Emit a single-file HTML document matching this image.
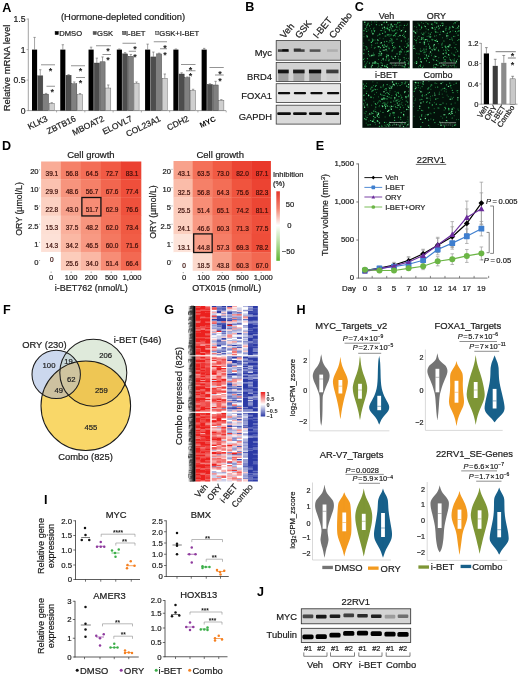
<!DOCTYPE html>
<html><head><meta charset="utf-8"><title>Figure</title>
<style>html,body{margin:0;padding:0;background:#fff}svg{display:block}text{font-family:'Liberation Sans', Arial, Helvetica, sans-serif}</style>
</head><body>
<svg width="520" height="677" viewBox="0 0 520 677" font-family="'Liberation Sans', Arial, Helvetica, sans-serif">
<rect width="520" height="677" fill="#fff"/>
<g id="pA">
<text x="2.3" y="11.5" font-size="12.6" text-anchor="start" font-weight="bold" fill="#000">A</text>
<text x="123" y="20" font-size="9.4" text-anchor="middle" font-weight="normal" fill="#1a1a1a" stroke="#1a1a1a" stroke-width="0.2">(Hormone-depleted condition)</text>
<text x="9.8" y="68" font-size="9.5" text-anchor="middle" font-weight="normal" fill="#1a1a1a" stroke="#1a1a1a" stroke-width="0.2" transform="rotate(-90 9.8 68)">Relative mRNA level</text>
<line x1="28.30" y1="18.50" x2="28.30" y2="111.00" stroke="#8a8a8a" stroke-width="0.8"/>
<line x1="28.00" y1="110.60" x2="226.00" y2="110.60" stroke="#8a8a8a" stroke-width="0.8"/>
<text x="25.5" y="22.299999999999994" font-size="8.6" text-anchor="end" font-weight="normal" fill="#1a1a1a" stroke="#1a1a1a" stroke-width="0.2">1.5</text>
<line x1="26.60" y1="19.10" x2="28.30" y2="19.10" stroke="#8a8a8a" stroke-width="0.7"/>
<text x="25.5" y="52.8" font-size="8.6" text-anchor="end" font-weight="normal" fill="#1a1a1a" stroke="#1a1a1a" stroke-width="0.2">1</text>
<line x1="26.60" y1="49.60" x2="28.30" y2="49.60" stroke="#8a8a8a" stroke-width="0.7"/>
<text x="25.5" y="83.3" font-size="8.6" text-anchor="end" font-weight="normal" fill="#1a1a1a" stroke="#1a1a1a" stroke-width="0.2">0.5</text>
<line x1="26.60" y1="80.10" x2="28.30" y2="80.10" stroke="#8a8a8a" stroke-width="0.7"/>
<text x="25.5" y="113.8" font-size="8.6" text-anchor="end" font-weight="normal" fill="#1a1a1a" stroke="#1a1a1a" stroke-width="0.2">0</text>
<line x1="26.60" y1="110.60" x2="28.30" y2="110.60" stroke="#8a8a8a" stroke-width="0.7"/>
<line x1="56.57" y1="110.60" x2="56.57" y2="112.40" stroke="#8a8a8a" stroke-width="0.7"/>
<line x1="84.84" y1="110.60" x2="84.84" y2="112.40" stroke="#8a8a8a" stroke-width="0.7"/>
<line x1="113.11" y1="110.60" x2="113.11" y2="112.40" stroke="#8a8a8a" stroke-width="0.7"/>
<line x1="141.38" y1="110.60" x2="141.38" y2="112.40" stroke="#8a8a8a" stroke-width="0.7"/>
<line x1="169.65" y1="110.60" x2="169.65" y2="112.40" stroke="#8a8a8a" stroke-width="0.7"/>
<line x1="197.92" y1="110.60" x2="197.92" y2="112.40" stroke="#8a8a8a" stroke-width="0.7"/>
<line x1="226.19" y1="110.60" x2="226.19" y2="112.40" stroke="#8a8a8a" stroke-width="0.7"/>
<rect x="55.10" y="31.40" width="3.20" height="3.20" fill="#000" stroke="#000" stroke-width="0.5"/>
<text x="59.3" y="35.6" font-size="7.6" text-anchor="start" font-weight="normal" fill="#1a1a1a" stroke="#1a1a1a" stroke-width="0.2">DMSO</text>
<rect x="93.10" y="31.40" width="3.20" height="3.20" fill="#555" stroke="#555" stroke-width="0.5"/>
<text x="97" y="35.6" font-size="7.6" text-anchor="start" font-weight="normal" fill="#1a1a1a" stroke="#1a1a1a" stroke-width="0.2">GSK</text>
<rect x="122.60" y="31.40" width="3.20" height="3.20" fill="#7d7d7d" stroke="#333" stroke-width="0.5"/>
<text x="126" y="35.6" font-size="7.6" text-anchor="start" font-weight="normal" fill="#1a1a1a" stroke="#1a1a1a" stroke-width="0.2">I-BET</text>
<rect x="155.60" y="31.40" width="3.20" height="3.20" fill="#c4c4c4" stroke="#333" stroke-width="0.5"/>
<text x="159.3" y="35.6" font-size="7.6" text-anchor="start" font-weight="normal" fill="#1a1a1a" stroke="#1a1a1a" stroke-width="0.2">GSK+I-BET</text>
<rect x="32.00" y="49.60" width="5.12" height="61.00" fill="#000" stroke="none" stroke-width="0"/>
<line x1="34.56" y1="49.60" x2="34.56" y2="37.40" stroke="#666" stroke-width="0.6"/>
<line x1="33.36" y1="37.40" x2="35.76" y2="37.40" stroke="#666" stroke-width="0.6"/>
<rect x="37.72" y="75.83" width="5.12" height="34.77" fill="#4d4d4d" stroke="#333" stroke-width="0.4"/>
<line x1="40.28" y1="75.83" x2="40.28" y2="69.73" stroke="#666" stroke-width="0.6"/>
<line x1="39.08" y1="69.73" x2="41.48" y2="69.73" stroke="#666" stroke-width="0.6"/>
<rect x="43.44" y="94.13" width="5.12" height="16.47" fill="#808080" stroke="#333" stroke-width="0.4"/>
<line x1="46.00" y1="94.13" x2="46.00" y2="93.40" stroke="#666" stroke-width="0.6"/>
<line x1="44.80" y1="93.40" x2="47.20" y2="93.40" stroke="#666" stroke-width="0.6"/>
<rect x="49.16" y="103.28" width="5.12" height="7.32" fill="#cfcfcf" stroke="#555" stroke-width="0.4"/>
<line x1="51.72" y1="103.28" x2="51.72" y2="102.67" stroke="#666" stroke-width="0.6"/>
<line x1="50.52" y1="102.67" x2="52.92" y2="102.67" stroke="#666" stroke-width="0.6"/>
<text x="48.239999999999995" y="120.6" font-size="8.5" text-anchor="end" font-weight="normal" fill="#1a1a1a" stroke="#1a1a1a" stroke-width="0.2" transform="rotate(-26 48.239999999999995 120.6)">KLK3</text>
<rect x="60.27" y="49.60" width="5.12" height="61.00" fill="#000" stroke="none" stroke-width="0"/>
<line x1="62.83" y1="49.60" x2="62.83" y2="44.72" stroke="#666" stroke-width="0.6"/>
<line x1="61.63" y1="44.72" x2="64.03" y2="44.72" stroke="#666" stroke-width="0.6"/>
<rect x="65.99" y="75.22" width="5.12" height="35.38" fill="#4d4d4d" stroke="#333" stroke-width="0.4"/>
<line x1="68.55" y1="75.22" x2="68.55" y2="74.61" stroke="#666" stroke-width="0.6"/>
<line x1="67.35" y1="74.61" x2="69.75" y2="74.61" stroke="#666" stroke-width="0.6"/>
<rect x="71.71" y="83.76" width="5.12" height="26.84" fill="#808080" stroke="#333" stroke-width="0.4"/>
<line x1="74.27" y1="83.76" x2="74.27" y2="81.93" stroke="#666" stroke-width="0.6"/>
<line x1="73.07" y1="81.93" x2="75.47" y2="81.93" stroke="#666" stroke-width="0.6"/>
<rect x="77.43" y="94.74" width="5.12" height="15.86" fill="#cfcfcf" stroke="#555" stroke-width="0.4"/>
<line x1="79.99" y1="94.74" x2="79.99" y2="93.52" stroke="#666" stroke-width="0.6"/>
<line x1="78.79" y1="93.52" x2="81.19" y2="93.52" stroke="#666" stroke-width="0.6"/>
<text x="76.50999999999999" y="120.6" font-size="8.5" text-anchor="end" font-weight="normal" fill="#1a1a1a" stroke="#1a1a1a" stroke-width="0.2" transform="rotate(-26 76.50999999999999 120.6)">ZBTB16</text>
<rect x="88.54" y="49.60" width="5.12" height="61.00" fill="#000" stroke="none" stroke-width="0"/>
<line x1="91.10" y1="49.60" x2="91.10" y2="47.16" stroke="#666" stroke-width="0.6"/>
<line x1="89.90" y1="47.16" x2="92.30" y2="47.16" stroke="#666" stroke-width="0.6"/>
<rect x="94.26" y="63.02" width="5.12" height="47.58" fill="#4d4d4d" stroke="#333" stroke-width="0.4"/>
<line x1="96.82" y1="63.02" x2="96.82" y2="58.14" stroke="#666" stroke-width="0.6"/>
<line x1="95.62" y1="58.14" x2="98.02" y2="58.14" stroke="#666" stroke-width="0.6"/>
<rect x="99.98" y="61.80" width="5.12" height="48.80" fill="#808080" stroke="#333" stroke-width="0.4"/>
<line x1="102.54" y1="61.80" x2="102.54" y2="56.92" stroke="#666" stroke-width="0.6"/>
<line x1="101.34" y1="56.92" x2="103.74" y2="56.92" stroke="#666" stroke-width="0.6"/>
<rect x="105.70" y="88.03" width="5.12" height="22.57" fill="#cfcfcf" stroke="#555" stroke-width="0.4"/>
<line x1="108.26" y1="88.03" x2="108.26" y2="84.98" stroke="#666" stroke-width="0.6"/>
<line x1="107.06" y1="84.98" x2="109.46" y2="84.98" stroke="#666" stroke-width="0.6"/>
<text x="104.77999999999999" y="120.6" font-size="8.5" text-anchor="end" font-weight="normal" fill="#1a1a1a" stroke="#1a1a1a" stroke-width="0.2" transform="rotate(-26 104.77999999999999 120.6)">MBOAT2</text>
<rect x="116.81" y="49.60" width="5.12" height="61.00" fill="#000" stroke="none" stroke-width="0"/>
<line x1="119.37" y1="49.60" x2="119.37" y2="48.99" stroke="#666" stroke-width="0.6"/>
<line x1="118.17" y1="48.99" x2="120.57" y2="48.99" stroke="#666" stroke-width="0.6"/>
<rect x="122.53" y="53.87" width="5.12" height="56.73" fill="#4d4d4d" stroke="#333" stroke-width="0.4"/>
<line x1="125.09" y1="53.87" x2="125.09" y2="52.65" stroke="#666" stroke-width="0.6"/>
<line x1="123.89" y1="52.65" x2="126.29" y2="52.65" stroke="#666" stroke-width="0.6"/>
<rect x="128.25" y="56.31" width="5.12" height="54.29" fill="#808080" stroke="#333" stroke-width="0.4"/>
<line x1="130.81" y1="56.31" x2="130.81" y2="54.48" stroke="#666" stroke-width="0.6"/>
<line x1="129.61" y1="54.48" x2="132.01" y2="54.48" stroke="#666" stroke-width="0.6"/>
<rect x="133.97" y="83.15" width="5.12" height="27.45" fill="#cfcfcf" stroke="#555" stroke-width="0.4"/>
<line x1="136.53" y1="83.15" x2="136.53" y2="81.93" stroke="#666" stroke-width="0.6"/>
<line x1="135.33" y1="81.93" x2="137.73" y2="81.93" stroke="#666" stroke-width="0.6"/>
<text x="133.05" y="120.6" font-size="8.5" text-anchor="end" font-weight="normal" fill="#1a1a1a" stroke="#1a1a1a" stroke-width="0.2" transform="rotate(-26 133.05 120.6)">ELOVL7</text>
<rect x="145.08" y="49.60" width="5.12" height="61.00" fill="#000" stroke="none" stroke-width="0"/>
<line x1="147.64" y1="49.60" x2="147.64" y2="44.11" stroke="#666" stroke-width="0.6"/>
<line x1="146.44" y1="44.11" x2="148.84" y2="44.11" stroke="#666" stroke-width="0.6"/>
<rect x="150.80" y="56.92" width="5.12" height="53.68" fill="#4d4d4d" stroke="#333" stroke-width="0.4"/>
<line x1="153.36" y1="56.92" x2="153.36" y2="52.04" stroke="#666" stroke-width="0.6"/>
<line x1="152.16" y1="52.04" x2="154.56" y2="52.04" stroke="#666" stroke-width="0.6"/>
<rect x="156.52" y="53.87" width="5.12" height="56.73" fill="#808080" stroke="#333" stroke-width="0.4"/>
<line x1="159.08" y1="53.87" x2="159.08" y2="53.14" stroke="#666" stroke-width="0.6"/>
<line x1="157.88" y1="53.14" x2="160.28" y2="53.14" stroke="#666" stroke-width="0.6"/>
<rect x="162.24" y="78.27" width="5.12" height="32.33" fill="#cfcfcf" stroke="#555" stroke-width="0.4"/>
<line x1="164.80" y1="78.27" x2="164.80" y2="74.00" stroke="#666" stroke-width="0.6"/>
<line x1="163.60" y1="74.00" x2="166.00" y2="74.00" stroke="#666" stroke-width="0.6"/>
<text x="161.32" y="120.6" font-size="8.5" text-anchor="end" font-weight="normal" fill="#1a1a1a" stroke="#1a1a1a" stroke-width="0.2" transform="rotate(-26 161.32 120.6)">COL23A1</text>
<rect x="173.35" y="49.60" width="5.12" height="61.00" fill="#000" stroke="none" stroke-width="0"/>
<line x1="175.91" y1="49.60" x2="175.91" y2="48.99" stroke="#666" stroke-width="0.6"/>
<line x1="174.71" y1="48.99" x2="177.11" y2="48.99" stroke="#666" stroke-width="0.6"/>
<rect x="179.07" y="74.00" width="5.12" height="36.60" fill="#4d4d4d" stroke="#333" stroke-width="0.4"/>
<line x1="181.63" y1="74.00" x2="181.63" y2="72.78" stroke="#666" stroke-width="0.6"/>
<line x1="180.43" y1="72.78" x2="182.83" y2="72.78" stroke="#666" stroke-width="0.6"/>
<rect x="184.79" y="77.66" width="5.12" height="32.94" fill="#808080" stroke="#333" stroke-width="0.4"/>
<line x1="187.35" y1="77.66" x2="187.35" y2="76.93" stroke="#666" stroke-width="0.6"/>
<line x1="186.15" y1="76.93" x2="188.55" y2="76.93" stroke="#666" stroke-width="0.6"/>
<rect x="190.51" y="90.47" width="5.12" height="20.13" fill="#cfcfcf" stroke="#555" stroke-width="0.4"/>
<line x1="193.07" y1="90.47" x2="193.07" y2="89.25" stroke="#666" stroke-width="0.6"/>
<line x1="191.87" y1="89.25" x2="194.27" y2="89.25" stroke="#666" stroke-width="0.6"/>
<text x="189.59" y="120.6" font-size="8.5" text-anchor="end" font-weight="normal" fill="#1a1a1a" stroke="#1a1a1a" stroke-width="0.2" transform="rotate(-26 189.59 120.6)">CDH2</text>
<rect x="201.62" y="49.60" width="5.12" height="61.00" fill="#000" stroke="none" stroke-width="0"/>
<line x1="204.18" y1="49.60" x2="204.18" y2="48.38" stroke="#666" stroke-width="0.6"/>
<line x1="202.98" y1="48.38" x2="205.38" y2="48.38" stroke="#666" stroke-width="0.6"/>
<rect x="207.34" y="84.37" width="5.12" height="26.23" fill="#4d4d4d" stroke="#333" stroke-width="0.4"/>
<line x1="209.90" y1="84.37" x2="209.90" y2="83.76" stroke="#666" stroke-width="0.6"/>
<line x1="208.70" y1="83.76" x2="211.10" y2="83.76" stroke="#666" stroke-width="0.6"/>
<rect x="213.06" y="84.98" width="5.12" height="25.62" fill="#808080" stroke="#333" stroke-width="0.4"/>
<line x1="215.62" y1="84.98" x2="215.62" y2="81.32" stroke="#666" stroke-width="0.6"/>
<line x1="214.42" y1="81.32" x2="216.82" y2="81.32" stroke="#666" stroke-width="0.6"/>
<rect x="218.78" y="100.23" width="5.12" height="10.37" fill="#cfcfcf" stroke="#555" stroke-width="0.4"/>
<line x1="221.34" y1="100.23" x2="221.34" y2="99.62" stroke="#666" stroke-width="0.6"/>
<line x1="220.14" y1="99.62" x2="222.54" y2="99.62" stroke="#666" stroke-width="0.6"/>
<text x="216.36" y="120.6" font-size="7.6" text-anchor="end" font-weight="bold" fill="#000" transform="rotate(-26 216.36 120.6)">MYC</text>
<line x1="41.00" y1="64.80" x2="55.00" y2="64.80" stroke="#666" stroke-width="0.7"/>
<line x1="46.50" y1="86.25" x2="55.00" y2="86.25" stroke="#666" stroke-width="0.7"/>
<text x="50.4" y="73.92" font-size="9" text-anchor="middle" font-weight="bold" fill="#222">*</text>
<text x="52.2" y="95.22" font-size="9" text-anchor="middle" font-weight="bold" fill="#222">*</text>
<line x1="71.00" y1="65.75" x2="85.00" y2="65.75" stroke="#666" stroke-width="0.7"/>
<line x1="76.00" y1="77.50" x2="85.00" y2="77.50" stroke="#666" stroke-width="0.7"/>
<text x="80.5" y="73.92" font-size="9" text-anchor="middle" font-weight="bold" fill="#222">*</text>
<text x="80.5" y="85.92" font-size="9" text-anchor="middle" font-weight="bold" fill="#222">*</text>
<line x1="96.00" y1="45.75" x2="111.00" y2="45.75" stroke="#666" stroke-width="0.7"/>
<line x1="102.50" y1="54.50" x2="111.00" y2="54.50" stroke="#666" stroke-width="0.7"/>
<text x="108" y="53.93" font-size="9" text-anchor="middle" font-weight="bold" fill="#222">*</text>
<text x="108" y="62.73" font-size="9" text-anchor="middle" font-weight="bold" fill="#222">*</text>
<line x1="122.50" y1="43.25" x2="136.00" y2="43.25" stroke="#666" stroke-width="0.7"/>
<line x1="128.75" y1="51.25" x2="136.00" y2="51.25" stroke="#666" stroke-width="0.7"/>
<text x="135" y="51.52" font-size="9" text-anchor="middle" font-weight="bold" fill="#222">*</text>
<text x="135" y="59.73" font-size="9" text-anchor="middle" font-weight="bold" fill="#222">*</text>
<line x1="153.75" y1="41.75" x2="167.00" y2="41.75" stroke="#666" stroke-width="0.7"/>
<line x1="160.00" y1="48.75" x2="167.00" y2="48.75" stroke="#666" stroke-width="0.7"/>
<text x="165" y="50.52" font-size="9" text-anchor="middle" font-weight="bold" fill="#222">*</text>
<text x="165" y="57.73" font-size="9" text-anchor="middle" font-weight="bold" fill="#222">*</text>
<line x1="181.00" y1="64.50" x2="195.50" y2="64.50" stroke="#666" stroke-width="0.7"/>
<line x1="186.00" y1="70.75" x2="195.50" y2="70.75" stroke="#666" stroke-width="0.7"/>
<text x="190.5" y="72.72" font-size="9" text-anchor="middle" font-weight="bold" fill="#222">*</text>
<text x="190.5" y="79.02" font-size="9" text-anchor="middle" font-weight="bold" fill="#222">*</text>
<line x1="209.50" y1="67.50" x2="223.75" y2="67.50" stroke="#666" stroke-width="0.7"/>
<line x1="215.00" y1="75.00" x2="223.75" y2="75.00" stroke="#666" stroke-width="0.7"/>
<text x="220" y="77.22" font-size="9" text-anchor="middle" font-weight="bold" fill="#222">*</text>
<text x="220" y="84.22" font-size="9" text-anchor="middle" font-weight="bold" fill="#222">*</text>
</g>
<g id="pB">
<defs><filter id="bl1" x="-20%" y="-50%" width="140%" height="200%"><feGaussianBlur stdDeviation="0.6"/></filter><filter id="bl2" x="-20%" y="-50%" width="140%" height="200%"><feGaussianBlur stdDeviation="1.1"/></filter><filter id="bl0" x="-20%" y="-50%" width="140%" height="200%"><feGaussianBlur stdDeviation="0.35"/></filter></defs>
<text x="245.3" y="11.4" font-size="12.6" text-anchor="start" font-weight="bold" fill="#000">B</text>
<text x="284.5" y="39" font-size="9.4" text-anchor="start" font-weight="normal" fill="#1a1a1a" stroke="#1a1a1a" stroke-width="0.2" transform="rotate(-51 284.5 39)">Veh</text>
<text x="299.5" y="39" font-size="9.4" text-anchor="start" font-weight="normal" fill="#1a1a1a" stroke="#1a1a1a" stroke-width="0.2" transform="rotate(-51 299.5 39)">GSK</text>
<text x="317.5" y="39" font-size="9.4" text-anchor="start" font-weight="normal" fill="#1a1a1a" stroke="#1a1a1a" stroke-width="0.2" transform="rotate(-51 317.5 39)">I-BET</text>
<text x="333.5" y="39" font-size="9.4" text-anchor="start" font-weight="normal" fill="#1a1a1a" stroke="#1a1a1a" stroke-width="0.2" transform="rotate(-51 333.5 39)">Combo</text>
<text x="272" y="56.2" font-size="9.4" text-anchor="end" font-weight="normal" fill="#1a1a1a" stroke="#1a1a1a" stroke-width="0.2">Myc</text>
<text x="272" y="79.8" font-size="9.4" text-anchor="end" font-weight="normal" fill="#1a1a1a" stroke="#1a1a1a" stroke-width="0.2">BRD4</text>
<text x="272" y="98.5" font-size="9.4" text-anchor="end" font-weight="normal" fill="#1a1a1a" stroke="#1a1a1a" stroke-width="0.2">FOXA1</text>
<text x="272" y="120.2" font-size="9.4" text-anchor="end" font-weight="normal" fill="#1a1a1a" stroke="#1a1a1a" stroke-width="0.2">GAPDH</text>
<rect x="276.20" y="40.60" width="64.40" height="19.60" fill="#c9c9c9" stroke="none" stroke-width="0"/>
<g clip-path="url(#cB0)"><clipPath id="cB0"><rect x="276.2" y="40.6" width="64.4" height="19.6"/></clipPath>
<rect x="277.93" y="49.28" width="10.82" height="2.60" fill="#222" stroke="none" stroke-width="0" opacity="0.85" filter="url(#bl1)"/>
<rect x="293.80" y="49.28" width="10.82" height="2.60" fill="#222" stroke="none" stroke-width="0" opacity="0.8" filter="url(#bl1)"/>
<rect x="309.67" y="49.28" width="10.82" height="2.60" fill="#222" stroke="none" stroke-width="0" opacity="0.7" filter="url(#bl1)"/>
<rect x="326.97" y="49.28" width="10.82" height="2.60" fill="#222" stroke="none" stroke-width="0" opacity="0.15" filter="url(#bl1)"/>
<rect x="282.26" y="49.14" width="6.00" height="2.20" fill="#000" stroke="none" stroke-width="0" opacity="0.8" filter="url(#bl1)"/>
<rect x="293.80" y="48.27" width="7.00" height="2.20" fill="#000" stroke="none" stroke-width="0" opacity="0.5" filter="url(#bl1)"/>
</g>
<rect x="276.20" y="62.40" width="64.40" height="19.00" fill="#d2d2d2" stroke="none" stroke-width="0"/>
<clipPath id="cB1"><rect x="276.2" y="62.4" width="64.4" height="19.0"/></clipPath><g clip-path="url(#cB1)">
<rect x="278.23" y="71.00" width="10.22" height="13.00" fill="#4a4a4a" stroke="none" stroke-width="0" opacity="0.35" filter="url(#bl1)"/>
<rect x="277.93" y="69.60" width="10.82" height="3.70" fill="#111" stroke="none" stroke-width="0" opacity="0.95" filter="url(#bl1)"/>
<rect x="293.38" y="71.00" width="10.94" height="13.00" fill="#4a4a4a" stroke="none" stroke-width="0" opacity="0.3" filter="url(#bl1)"/>
<rect x="293.08" y="69.60" width="11.54" height="3.70" fill="#111" stroke="none" stroke-width="0" opacity="0.9" filter="url(#bl1)"/>
<rect x="309.24" y="71.00" width="11.66" height="13.00" fill="#4a4a4a" stroke="none" stroke-width="0" opacity="0.45" filter="url(#bl1)"/>
<rect x="308.94" y="69.60" width="12.26" height="3.70" fill="#111" stroke="none" stroke-width="0" opacity="1" filter="url(#bl1)"/>
<rect x="326.55" y="71.00" width="11.66" height="13.00" fill="#4a4a4a" stroke="none" stroke-width="0" opacity="0.05" filter="url(#bl1)"/>
<rect x="326.25" y="69.60" width="12.26" height="3.70" fill="#111" stroke="none" stroke-width="0" opacity="0.75" filter="url(#bl1)"/>
</g>
<rect x="276.20" y="83.70" width="64.40" height="18.80" fill="#e6e6e6" stroke="none" stroke-width="0"/>
<rect x="277.93" y="92.12" width="12.26" height="2.10" fill="#111" stroke="none" stroke-width="0" rx="1" filter="url(#bl0)"/>
<rect x="293.80" y="92.12" width="12.26" height="2.10" fill="#111" stroke="none" stroke-width="0" rx="1" filter="url(#bl0)"/>
<rect x="310.39" y="92.12" width="12.26" height="2.10" fill="#111" stroke="none" stroke-width="0" rx="1" filter="url(#bl0)"/>
<rect x="326.97" y="92.12" width="12.26" height="2.10" fill="#111" stroke="none" stroke-width="0" rx="1" filter="url(#bl0)"/>
<rect x="276.20" y="105.20" width="64.40" height="18.90" fill="#dadada" stroke="none" stroke-width="0"/>
<rect x="277.21" y="112.17" width="13.70" height="2.80" fill="#0a0a0a" stroke="none" stroke-width="0" rx="1.2" filter="url(#bl0)"/>
<rect x="293.08" y="112.17" width="13.70" height="2.80" fill="#0a0a0a" stroke="none" stroke-width="0" rx="1.2" filter="url(#bl0)"/>
<rect x="308.94" y="112.17" width="12.98" height="2.80" fill="#0a0a0a" stroke="none" stroke-width="0" rx="1.2" filter="url(#bl0)"/>
<rect x="325.53" y="112.17" width="13.70" height="2.80" fill="#0a0a0a" stroke="none" stroke-width="0" rx="1.2" filter="url(#bl0)"/>
<rect x="276.20" y="40.60" width="64.40" height="19.60" fill="none" stroke="#3a3a3a" stroke-width="0.8"/>
<rect x="276.20" y="62.40" width="64.40" height="19.00" fill="none" stroke="#3a3a3a" stroke-width="0.8"/>
<rect x="276.20" y="83.70" width="64.40" height="18.80" fill="none" stroke="#3a3a3a" stroke-width="0.8"/>
<rect x="276.20" y="105.20" width="64.40" height="18.90" fill="none" stroke="#3a3a3a" stroke-width="0.8"/>
</g>
<g id="pC">
<text x="354.8" y="11.4" font-size="12.6" text-anchor="start" font-weight="bold" fill="#000">C</text>
<text x="386.5" y="18.7" font-size="9" text-anchor="middle" font-weight="normal" fill="#1a1a1a" stroke="#1a1a1a" stroke-width="0.2">Veh</text>
<rect x="362.40" y="20.70" width="47.40" height="47.60" fill="#03110a" stroke="none" stroke-width="0"/>
<path d="M399.5 25.8h0M393.1 49.8h0M363.9 45.8h0M371.9 32.6h0M387.0 51.0h0M393.5 42.5h0M395.6 36.0h0M381.5 60.4h0M407.1 60.5h0M372.8 63.4h0M408.1 39.8h0M392.0 57.3h0M397.9 26.9h0M371.3 47.2h0M371.9 55.2h0M392.7 26.9h0M378.3 35.1h0M367.3 48.3h0M390.7 38.6h0M402.9 29.9h0M404.8 59.1h0M390.8 40.9h0M365.0 65.8h0M390.5 35.0h0M396.2 24.7h0M376.0 63.7h0M364.0 33.9h0M366.0 29.6h0M389.4 27.6h0M394.9 48.4h0M395.3 65.8h0M377.8 67.5h0M404.5 61.6h0M383.4 60.1h0M374.9 22.0h0M394.3 30.8h0M404.7 51.9h0M405.1 62.0h0M389.9 36.1h0M395.8 65.2h0M370.9 42.2h0M408.2 42.3h0M364.6 61.7h0M395.7 47.7h0M399.5 22.4h0M374.1 28.0h0M394.5 30.7h0M371.4 22.0h0M395.9 29.7h0M391.3 56.3h0M399.5 63.2h0M405.9 54.7h0M399.7 64.9h0M379.2 25.3h0M388.4 56.8h0M364.5 58.7h0M399.8 29.5h0M399.3 28.0h0M394.8 65.0h0M406.7 25.5h0M388.8 35.8h0M401.9 62.9h0M386.2 49.3h0M407.6 45.2h0M399.9 47.4h0M375.5 43.3h0M385.0 36.1h0M391.5 64.1h0M398.9 22.5h0M373.6 53.1h0M379.5 50.0h0M383.2 38.8h0M387.4 28.8h0M404.5 36.0h0M403.8 27.7h0M396.5 33.4h0M404.9 66.0h0M394.6 30.2h0M386.8 47.7h0M408.6 64.1h0M366.0 65.3h0M398.2 36.5h0M381.8 30.5h0M398.8 59.0h0M398.3 56.7h0M396.3 24.7h0M384.7 22.0h0M392.5 50.2h0M406.5 52.1h0M375.0 40.0h0M372.2 38.8h0M365.3 64.3h0M384.8 29.3h0M376.8 22.1h0M366.6 63.2h0M385.1 66.3h0M384.1 30.9h0M387.4 27.2h0M393.8 42.5h0M396.8 32.5h0M397.7 30.2h0M365.0 24.3h0M382.7 50.2h0M388.0 24.8h0M380.3 43.5h0M391.8 56.9h0M405.4 41.2h0M367.6 61.8h0M367.0 47.5h0M395.0 34.5h0M379.6 54.9h0M383.3 58.4h0M404.2 32.9h0M379.9 38.2h0M403.5 34.4h0M387.1 56.7h0M395.6 63.6h0M395.7 58.4h0M408.6 38.8h0M372.6 41.0h0M407.6 24.2h0M371.4 24.4h0M390.0 63.3h0M368.2 30.0h0M373.5 30.0h0M371.1 56.3h0M388.3 59.1h0M385.3 31.7h0M406.6 58.4h0M387.4 45.2h0M408.6 51.7h0M363.7 43.2h0M370.4 28.7h0M392.4 67.2h0M400.9 25.3h0M396.0 26.0h0M382.3 63.7h0M377.5 35.8h0M379.7 53.1h0M401.2 51.6h0M380.5 54.2h0M389.0 42.6h0M408.6 58.3h0M391.4 34.9h0M387.9 35.2h0M381.2 52.2h0M372.4 55.1h0M378.4 59.5h0M395.6 29.8h0M401.5 48.8h0M373.6 28.7h0M398.3 59.3h0M378.4 40.5h0M364.0 36.7h0M393.0 26.4h0M404.6 46.7h0M391.9 30.6h0M378.3 64.2h0M388.9 47.3h0M376.4 62.8h0M389.5 59.7h0M388.3 25.0h0M400.0 22.3h0M384.6 28.1h0M375.3 47.6h0" stroke="#1f8a40" stroke-width="0.95" stroke-linecap="round" fill="none"/>
<path d="M384.5 44.9h0M371.7 45.0h0M367.4 58.7h0M384.4 41.8h0M408.9 67.3h0M376.4 24.7h0M367.8 24.3h0M372.9 39.6h0M373.0 33.4h0M407.1 43.8h0M395.5 33.3h0M388.8 60.7h0M404.0 66.6h0M392.3 43.7h0M397.0 53.9h0M405.1 37.7h0M399.4 61.2h0M391.8 39.1h0M391.1 25.2h0M408.7 62.0h0M381.0 55.3h0M397.6 22.9h0M385.2 32.1h0M404.0 36.5h0M372.3 41.3h0M385.9 60.0h0M373.0 40.5h0M385.8 36.0h0M384.0 22.6h0M392.0 42.0h0M379.0 53.6h0M380.5 47.7h0M393.0 30.9h0M400.7 51.0h0M408.0 46.2h0M377.9 63.4h0M386.9 54.8h0M387.3 34.8h0M392.5 45.5h0M402.2 66.0h0M389.4 30.7h0M394.8 24.5h0M396.7 27.1h0M374.7 30.6h0M392.1 50.9h0M402.2 49.6h0M373.9 55.6h0M401.3 40.9h0M369.0 40.0h0M364.0 30.7h0M386.4 56.4h0M368.1 23.2h0M371.7 30.9h0M386.8 41.3h0M363.8 53.7h0M371.5 42.4h0M399.9 53.9h0M392.0 40.1h0M386.3 66.7h0M375.0 63.4h0M404.3 62.0h0M393.4 47.7h0M381.0 67.5h0M364.2 49.8h0M374.7 63.2h0M386.5 66.0h0M408.8 50.8h0M366.7 49.0h0M382.5 45.7h0M379.9 34.6h0M388.9 34.5h0M365.2 28.7h0M381.1 62.8h0M387.2 64.6h0M384.7 66.5h0M390.8 26.8h0M389.9 40.8h0M404.1 57.6h0M379.7 34.0h0M389.1 48.7h0M408.1 63.6h0M394.2 46.8h0M378.9 55.8h0M366.6 27.0h0M382.6 33.4h0M378.1 46.7h0M394.6 35.2h0M366.7 31.3h0M366.9 35.5h0M368.6 54.1h0M381.0 30.5h0M399.7 46.4h0M389.0 29.6h0M386.8 46.5h0M407.5 51.5h0M366.1 46.7h0M367.0 25.3h0M404.4 25.4h0M369.8 55.8h0M374.4 31.6h0M378.7 66.0h0M385.8 46.2h0M401.0 52.2h0M407.1 51.0h0M382.5 28.2h0M368.5 51.3h0M374.0 54.5h0M399.7 54.3h0M375.1 61.5h0M387.7 28.4h0M363.3 59.3h0M384.7 65.5h0M402.5 35.5h0M401.0 31.1h0M387.3 28.7h0M377.2 43.0h0M406.5 47.4h0M369.6 25.8h0M382.8 45.0h0M399.4 51.9h0M386.5 57.8h0M391.2 28.8h0M386.1 28.0h0M408.4 45.2h0M374.4 48.0h0M369.4 63.1h0M404.8 67.1h0M390.7 27.1h0M393.4 35.7h0M397.0 39.1h0M389.3 29.5h0" stroke="#38c065" stroke-width="1.2" stroke-linecap="round" fill="none"/>
<path d="M383.9 47.2h0M365.1 66.7h0M367.2 36.8h0M372.9 33.9h0M400.0 35.5h0M392.6 26.1h0M371.9 55.5h0M372.2 65.2h0M364.8 22.3h0M388.2 55.4h0M386.0 49.8h0M393.2 58.6h0M384.0 50.3h0M373.0 62.9h0M382.2 65.5h0M383.1 59.0h0M405.5 31.5h0M386.7 22.2h0M395.3 56.5h0M391.2 24.2h0M365.5 67.0h0M387.5 67.4h0M380.1 51.6h0M405.3 64.7h0M377.7 39.9h0M400.1 59.9h0M375.1 62.3h0M378.9 46.7h0M381.3 42.7h0M381.8 24.8h0M381.6 53.7h0M401.5 30.6h0M384.4 27.2h0M371.4 66.9h0" stroke="#70e898" stroke-width="1.4" stroke-linecap="round" fill="none"/>
<line x1="389.90" y1="63.00" x2="405.90" y2="63.00" stroke="#d0d8d0" stroke-width="0.6"/>
<line x1="392.40" y1="65.30" x2="403.40" y2="65.30" stroke="#6f7a72" stroke-width="0.7" stroke-dasharray="1.2 0.6"/>
<text x="436.4" y="18.7" font-size="9" text-anchor="middle" font-weight="normal" fill="#1a1a1a" stroke="#1a1a1a" stroke-width="0.2">ORY</text>
<rect x="412.60" y="20.70" width="47.40" height="47.60" fill="#03110a" stroke="none" stroke-width="0"/>
<path d="M452.6 40.3h0M416.6 27.2h0M436.4 39.7h0M445.2 45.7h0M427.4 39.7h0M443.9 61.4h0M439.4 63.1h0M457.0 21.5h0M427.1 36.4h0M454.4 59.0h0M429.7 48.4h0M414.8 62.8h0M435.0 31.0h0M455.7 62.8h0M451.8 37.8h0M422.7 50.6h0M453.7 23.8h0M453.2 54.3h0M445.3 64.6h0M417.0 31.8h0M445.9 30.5h0M440.4 32.0h0M455.8 52.2h0M415.5 49.1h0M424.9 58.4h0M426.5 56.3h0M426.2 46.7h0M454.5 66.9h0M434.5 56.0h0M456.0 44.5h0M438.9 51.2h0M437.2 65.3h0M449.4 57.9h0M421.6 28.5h0M436.1 41.5h0M425.4 58.2h0M449.7 32.4h0M427.6 23.4h0M441.9 45.7h0M421.3 33.2h0M416.2 40.4h0M423.3 66.1h0M419.9 39.6h0M432.8 25.0h0M441.4 23.3h0M443.2 24.2h0M454.0 42.8h0M423.3 37.5h0M438.6 29.0h0M423.2 43.0h0M452.9 30.9h0M416.7 53.3h0M426.0 22.4h0M446.2 33.9h0M420.4 64.6h0M414.3 36.3h0M417.2 62.1h0M448.7 45.4h0M431.4 32.5h0M420.3 48.9h0M419.6 54.0h0M446.6 52.1h0M423.8 34.9h0M423.3 23.4h0M424.1 50.6h0M433.0 39.6h0M431.0 36.6h0M426.2 28.8h0M424.4 25.8h0M414.5 39.5h0M416.3 40.1h0M436.1 48.5h0M428.3 33.2h0M425.4 52.2h0M432.2 40.6h0M451.4 62.0h0M455.1 23.3h0M436.6 35.7h0M458.1 28.4h0M423.9 52.8h0M413.4 46.5h0M451.5 66.1h0M429.3 62.3h0M457.5 59.4h0M437.9 32.4h0M419.2 24.4h0M418.1 53.9h0M434.1 57.0h0M424.9 54.4h0M451.3 47.6h0M450.1 27.3h0M444.1 32.1h0M432.6 50.5h0M456.1 67.0h0M446.1 26.9h0M418.9 36.7h0M438.2 43.7h0M448.5 66.6h0M420.1 29.6h0M456.2 33.1h0M418.9 36.4h0M425.9 32.0h0M430.2 33.4h0M416.3 62.6h0M417.0 29.9h0M443.5 50.2h0M421.5 22.7h0M418.8 24.9h0M449.7 55.3h0M431.8 53.9h0M423.8 39.4h0M443.5 58.8h0M442.6 37.8h0M454.9 36.3h0M428.7 55.6h0M421.5 26.4h0M429.4 41.3h0M436.4 40.1h0M438.0 65.3h0M418.4 66.9h0M457.5 31.6h0M445.7 29.7h0M444.4 65.1h0M420.2 50.7h0M436.5 47.6h0M451.8 53.2h0M443.9 40.8h0M456.1 28.5h0M458.9 55.4h0M447.1 67.0h0M424.9 58.6h0M438.0 61.3h0M426.2 51.1h0M438.8 57.7h0M449.9 28.5h0M418.0 23.2h0M453.0 59.9h0M441.7 63.0h0M453.5 55.0h0M444.0 41.3h0M434.8 27.4h0M456.5 49.6h0M447.1 38.1h0M432.9 59.2h0M429.3 53.9h0M434.2 64.4h0M447.4 49.2h0M416.3 40.8h0M433.6 65.4h0M445.2 52.4h0M424.9 40.8h0M417.4 38.2h0M446.5 52.3h0M454.5 65.2h0M442.4 43.1h0M416.4 42.8h0M423.0 38.5h0M431.5 55.6h0M446.9 57.2h0M456.7 62.7h0M418.5 57.8h0M426.9 57.3h0M432.4 24.0h0M434.1 47.2h0M457.5 40.5h0M414.7 26.6h0M415.5 40.6h0" stroke="#1f8a40" stroke-width="0.95" stroke-linecap="round" fill="none"/>
<path d="M442.8 23.2h0M420.0 65.6h0M434.9 40.4h0M445.0 56.4h0M435.6 67.3h0M439.3 63.1h0M428.1 24.0h0M454.6 55.2h0M447.8 35.5h0M450.3 31.7h0M449.7 27.2h0M424.2 52.1h0M433.6 45.8h0M443.5 57.5h0M436.6 60.4h0M449.1 29.1h0M424.2 41.8h0M435.8 31.7h0M436.3 23.1h0M446.1 47.8h0M455.0 47.7h0M440.4 25.6h0M445.0 59.7h0M420.0 42.4h0M459.0 56.6h0M423.9 33.1h0M445.2 61.3h0M452.0 39.0h0M433.9 67.2h0M427.7 41.0h0M422.8 34.4h0M432.0 39.3h0M442.3 47.5h0M458.1 35.2h0M455.5 31.4h0M443.9 65.4h0M435.2 29.2h0M432.7 28.4h0M445.5 46.9h0M429.3 62.5h0M448.7 50.4h0M424.4 44.2h0M438.5 50.2h0M446.2 53.5h0M441.9 44.1h0M430.3 34.6h0M428.3 29.7h0M420.8 61.3h0M415.8 33.2h0M449.9 39.5h0M428.7 56.4h0M445.8 50.2h0M457.8 27.7h0M427.6 58.3h0M426.4 39.5h0M445.2 46.6h0M439.3 28.1h0M459.1 30.8h0M435.6 40.6h0M431.5 24.2h0M433.7 59.9h0M447.9 35.8h0M413.9 45.8h0M450.2 59.6h0M455.1 22.6h0M447.4 46.6h0M453.7 36.3h0M442.9 31.3h0M454.1 60.9h0M423.9 49.1h0M437.0 23.0h0M433.9 48.8h0M435.9 32.3h0M443.1 64.6h0M416.4 61.5h0M424.5 58.3h0M421.7 39.4h0M458.6 31.0h0M429.0 36.0h0M426.2 49.2h0M421.7 27.4h0M422.4 67.3h0M432.1 28.2h0M439.9 34.6h0M426.5 60.8h0M451.0 60.6h0M434.7 36.0h0M458.9 39.7h0M421.0 51.4h0M447.4 33.2h0M434.9 22.2h0M429.5 46.2h0M436.6 27.2h0M419.3 25.6h0M452.4 26.3h0M420.5 66.1h0M432.0 49.7h0M420.4 59.1h0M446.0 28.7h0M457.7 51.1h0M428.5 44.0h0M454.0 65.0h0" stroke="#38c065" stroke-width="1.2" stroke-linecap="round" fill="none"/>
<path d="M437.4 41.4h0M416.5 63.4h0M436.2 64.5h0M421.3 62.0h0M446.6 35.9h0M430.5 52.0h0M442.7 25.6h0M435.8 56.5h0M415.2 32.6h0M424.5 42.7h0M430.1 37.0h0M425.4 39.6h0M448.5 54.8h0M434.9 49.8h0M430.0 48.0h0M414.0 48.4h0M426.5 55.1h0M456.4 61.3h0M413.9 31.2h0M458.6 26.1h0M421.8 37.9h0M453.1 27.3h0M449.9 45.0h0M448.7 46.8h0M434.3 44.8h0M432.2 27.6h0M438.4 26.1h0M441.1 66.1h0M443.2 53.7h0M443.4 31.5h0M425.3 26.6h0" stroke="#70e898" stroke-width="1.4" stroke-linecap="round" fill="none"/>
<line x1="440.10" y1="63.00" x2="456.10" y2="63.00" stroke="#d0d8d0" stroke-width="0.6"/>
<line x1="442.60" y1="65.30" x2="453.60" y2="65.30" stroke="#6f7a72" stroke-width="0.7" stroke-dasharray="1.2 0.6"/>
<text x="386.3" y="78.2" font-size="9" text-anchor="middle" font-weight="normal" fill="#1a1a1a" stroke="#1a1a1a" stroke-width="0.2">i-BET</text>
<rect x="362.40" y="80.20" width="47.40" height="47.60" fill="#03110a" stroke="none" stroke-width="0"/>
<path d="M386.1 122.6h0M376.9 115.0h0M380.0 100.7h0M379.6 100.8h0M365.5 119.4h0M387.4 106.2h0M373.4 85.6h0M377.6 103.3h0M397.5 103.4h0M381.8 125.4h0M390.4 125.2h0M390.6 98.0h0M391.1 108.1h0M365.6 85.3h0M375.6 117.6h0M402.6 99.5h0M401.3 96.1h0M365.8 116.1h0M397.7 107.7h0M408.3 123.2h0M380.5 101.6h0M393.7 106.2h0M388.9 123.4h0M368.8 121.2h0M364.6 100.9h0M394.1 123.7h0M368.0 115.1h0M390.0 90.3h0M385.2 126.1h0M395.1 91.7h0M396.7 107.4h0M366.1 118.9h0M384.1 103.4h0M397.7 85.7h0M389.2 106.4h0M396.5 93.2h0M364.1 105.7h0M376.6 92.6h0M385.4 93.5h0M398.7 93.0h0M373.9 101.8h0M389.1 97.0h0M367.9 107.0h0M366.0 111.7h0M371.7 105.2h0M382.3 103.4h0M388.9 87.2h0M402.5 124.0h0M407.0 82.1h0M407.9 119.3h0M378.6 96.9h0M371.2 87.9h0M385.1 117.0h0M374.1 111.1h0M371.7 91.7h0M399.4 105.8h0M398.2 92.2h0M382.2 126.5h0M363.8 104.0h0M366.2 123.1h0M384.0 98.1h0M375.7 124.2h0M371.7 97.0h0M377.3 89.4h0M366.9 91.3h0M386.3 88.4h0M401.9 102.4h0M406.4 126.0h0M398.1 99.4h0M372.9 81.9h0M384.5 89.4h0M377.1 82.9h0M391.5 98.0h0M391.8 95.6h0M403.7 107.7h0M387.9 102.2h0M402.3 121.6h0M386.5 126.3h0M371.0 114.3h0M379.1 106.7h0M405.5 104.7h0M363.3 103.8h0M389.5 110.1h0M367.3 103.9h0M392.6 125.6h0M385.6 103.2h0M401.7 104.1h0M400.3 117.9h0M400.5 95.0h0M366.2 111.7h0M408.2 121.1h0M408.3 109.7h0M385.7 98.7h0M395.0 104.7h0M394.6 124.3h0M405.7 122.9h0M398.7 96.3h0M387.1 103.4h0M402.7 105.6h0M397.3 92.5h0M389.8 92.1h0M366.4 83.4h0M382.2 99.7h0M384.9 125.1h0M408.9 105.3h0M398.3 83.6h0M392.9 113.5h0M383.0 85.9h0M406.9 121.9h0M383.2 86.9h0M389.5 115.2h0M365.3 113.7h0M365.7 102.8h0M366.5 99.0h0M385.5 108.0h0M408.3 86.5h0M383.7 97.8h0M407.9 117.1h0M393.9 115.1h0M375.1 109.2h0M381.4 126.7h0M400.8 119.5h0M397.4 107.6h0M404.1 111.5h0M400.1 100.3h0M379.4 115.9h0M401.1 98.5h0M379.6 105.7h0M380.4 111.2h0M374.6 89.2h0M378.6 121.4h0M384.9 95.4h0M408.4 91.3h0M378.8 101.2h0M373.6 97.8h0M389.9 85.4h0M402.7 83.9h0M364.2 113.1h0M378.0 102.5h0M388.9 97.4h0M374.6 94.4h0M384.7 104.5h0M399.3 122.1h0M364.2 94.8h0M399.7 109.5h0M401.5 84.4h0M363.8 87.8h0M390.3 107.8h0" stroke="#1f8a40" stroke-width="0.95" stroke-linecap="round" fill="none"/>
<path d="M386.0 104.7h0M400.7 117.3h0M397.0 100.2h0M399.0 101.3h0M368.6 95.7h0M366.5 86.3h0M382.2 105.7h0M394.8 98.8h0M370.7 97.1h0M387.0 98.9h0M401.8 97.5h0M396.0 100.9h0M402.0 82.6h0M370.1 124.7h0M400.1 85.5h0M373.2 90.2h0M391.1 86.6h0M396.1 94.4h0M375.9 104.4h0M370.5 120.5h0M391.1 106.0h0M406.1 97.7h0M396.6 124.4h0M408.5 95.2h0M394.6 120.3h0M387.1 84.6h0M386.1 90.1h0M385.6 108.2h0M364.7 86.1h0M401.2 112.7h0M389.8 115.8h0M363.2 84.1h0M398.5 93.1h0M387.3 96.4h0M387.1 92.7h0M378.3 114.4h0M380.9 87.2h0M399.0 96.6h0M380.6 94.2h0M397.2 102.9h0M372.0 87.2h0M387.3 105.9h0M389.2 94.5h0M407.7 102.1h0M370.7 89.0h0M399.8 104.0h0M376.2 85.5h0M383.5 84.9h0M373.9 119.1h0M374.9 122.5h0M372.2 90.9h0M394.6 117.7h0M405.3 82.1h0M378.9 117.4h0M404.9 123.9h0M371.7 112.9h0M396.5 83.7h0M398.4 117.1h0M389.3 124.4h0M364.2 88.4h0M373.7 111.1h0M375.7 89.6h0M387.3 124.7h0M383.0 112.5h0M404.5 92.6h0M388.4 93.5h0M396.5 95.7h0M366.5 93.4h0M393.0 112.3h0M368.0 124.9h0M373.3 120.8h0M375.0 117.4h0M383.9 95.5h0M382.0 95.0h0M384.0 102.8h0M396.4 124.7h0M393.8 101.0h0M373.6 116.4h0M408.1 96.7h0M364.0 100.1h0M405.0 83.7h0M390.2 113.8h0M395.5 106.8h0M408.4 87.3h0M375.8 107.1h0M385.9 88.7h0M390.9 102.2h0M377.0 112.8h0M367.1 117.5h0M375.3 103.5h0M364.5 118.7h0M372.9 113.4h0M400.4 107.2h0M401.1 123.1h0M371.1 97.3h0M373.1 121.6h0M396.1 83.2h0M366.1 119.7h0M379.4 126.3h0M375.7 111.7h0M363.9 95.3h0M375.5 86.2h0M403.8 115.7h0M393.4 112.8h0M382.1 98.9h0M384.7 105.3h0M372.0 121.0h0M394.5 112.8h0M384.0 99.3h0M407.7 106.0h0M377.4 120.7h0M392.5 86.1h0M406.2 101.0h0M384.5 122.4h0" stroke="#38c065" stroke-width="1.2" stroke-linecap="round" fill="none"/>
<path d="M394.3 84.9h0M391.8 106.4h0M392.5 82.0h0M368.6 95.3h0M388.8 125.9h0M389.9 122.4h0M394.8 97.7h0M387.7 111.4h0M406.7 86.1h0M393.3 84.3h0M364.6 107.3h0M385.5 106.6h0M378.6 113.3h0M407.9 124.7h0M391.3 109.2h0M367.2 104.9h0M384.0 91.8h0M379.5 122.9h0M372.6 121.4h0M405.9 96.7h0M369.7 113.9h0M403.6 114.4h0M398.1 105.2h0M377.4 116.0h0M405.0 91.7h0M389.9 88.3h0M382.7 106.5h0M400.0 126.0h0M406.8 109.5h0M388.6 110.5h0M382.0 99.3h0M384.0 98.3h0M378.1 114.4h0M408.6 107.2h0M377.4 121.1h0M391.6 87.9h0M403.5 126.6h0M408.6 84.5h0" stroke="#70e898" stroke-width="1.4" stroke-linecap="round" fill="none"/>
<line x1="389.90" y1="122.50" x2="405.90" y2="122.50" stroke="#d0d8d0" stroke-width="0.6"/>
<line x1="392.40" y1="124.80" x2="403.40" y2="124.80" stroke="#6f7a72" stroke-width="0.7" stroke-dasharray="1.2 0.6"/>
<text x="438.0" y="78.10000000000001" font-size="9" text-anchor="middle" font-weight="normal" fill="#1a1a1a" stroke="#1a1a1a" stroke-width="0.2">Combo</text>
<rect x="412.60" y="80.40" width="47.40" height="47.60" fill="#03110a" stroke="none" stroke-width="0"/>
<path d="M418.0 110.5h0M419.8 90.5h0M430.9 119.1h0M446.1 89.7h0M457.7 92.2h0M455.4 112.2h0M421.9 92.1h0M444.1 110.1h0M446.3 103.9h0M430.4 96.4h0M440.5 123.3h0M439.3 92.2h0M414.9 89.9h0M448.3 114.4h0M451.2 88.0h0M430.8 85.2h0M415.1 86.4h0M422.1 86.4h0M442.7 88.9h0M437.9 98.5h0M439.4 104.6h0M422.3 96.6h0M454.1 108.2h0M438.2 124.4h0M431.0 113.8h0M445.8 123.0h0M447.3 121.0h0M419.4 117.1h0M442.2 94.1h0M441.2 90.0h0M452.7 126.6h0M430.1 113.1h0M428.9 81.3h0M413.5 96.3h0M458.8 110.5h0M446.2 91.9h0M432.7 95.8h0M427.7 115.3h0M420.8 82.8h0M444.3 125.7h0M417.9 82.8h0M452.6 98.3h0M442.8 82.4h0M414.8 88.6h0M451.1 97.0h0M444.4 126.0h0M448.9 110.3h0M413.9 103.1h0M435.6 99.5h0M429.8 127.2h0M420.3 88.1h0M441.0 116.3h0M435.5 87.3h0M454.2 115.7h0M444.3 91.0h0M422.9 110.8h0M448.2 96.7h0M445.3 114.7h0M418.8 85.6h0M430.1 98.2h0M458.0 109.1h0M430.5 100.1h0M443.0 97.4h0M424.9 95.7h0M450.0 123.6h0M430.7 86.6h0M442.6 122.2h0M425.1 116.1h0M453.6 97.4h0M422.6 94.6h0M426.1 114.7h0M442.7 118.1h0M422.2 86.7h0M449.7 108.9h0M434.2 108.7h0M415.0 100.6h0M453.2 107.6h0M417.9 85.5h0M451.2 85.4h0M427.6 101.4h0M413.5 106.4h0M453.9 84.4h0M432.3 105.1h0M418.3 87.5h0M437.8 108.0h0M458.6 119.6h0M456.3 90.8h0M455.1 103.0h0M446.4 116.9h0M434.3 102.7h0M428.3 107.3h0M415.5 99.0h0M414.9 84.9h0M456.6 119.7h0M427.9 98.2h0M430.9 89.3h0M414.1 116.4h0M446.6 117.6h0M447.1 95.1h0M421.2 126.8h0M450.3 86.8h0M436.8 83.5h0" stroke="#1f8a40" stroke-width="0.95" stroke-linecap="round" fill="none"/>
<path d="M423.3 101.8h0M428.8 107.8h0M414.2 91.3h0M423.2 84.5h0M428.7 125.3h0M450.7 114.5h0M416.0 82.8h0M428.1 93.1h0M421.8 110.4h0M456.2 83.2h0M435.9 98.9h0M436.3 104.2h0M446.6 84.8h0M452.1 109.7h0M415.1 82.5h0M435.1 83.0h0M426.4 94.7h0M421.9 99.3h0M420.0 99.8h0M452.3 90.3h0M444.8 88.2h0M457.7 90.5h0M421.8 114.8h0M451.2 112.7h0M437.7 87.1h0M438.8 108.0h0M440.9 104.6h0M416.1 87.3h0M444.6 126.8h0M426.7 102.2h0M431.7 84.9h0M428.8 87.8h0M418.4 82.9h0M434.9 122.6h0M422.9 83.3h0M455.7 124.8h0M449.8 83.1h0M453.0 92.6h0M427.9 88.9h0M451.2 104.0h0M445.6 108.7h0M448.7 109.2h0M457.8 99.9h0M452.2 118.0h0M452.0 99.0h0M450.4 85.3h0M420.6 126.8h0M454.5 125.2h0M443.0 103.0h0M444.1 88.5h0M432.3 104.9h0M445.0 107.4h0M439.2 94.1h0M428.6 120.1h0M448.6 108.4h0M434.6 93.0h0M421.6 116.0h0M429.5 92.3h0M434.2 112.7h0M419.7 108.4h0M422.1 95.7h0M429.7 102.9h0M433.6 119.8h0M422.7 122.5h0" stroke="#38c065" stroke-width="1.2" stroke-linecap="round" fill="none"/>
<path d="M420.9 103.0h0M452.1 113.4h0M415.6 82.5h0M452.2 108.9h0M449.3 113.4h0M448.5 86.4h0M441.1 125.3h0M439.8 122.1h0M451.8 111.4h0M446.5 120.6h0M444.1 114.7h0M450.2 99.3h0M426.9 98.1h0M423.2 81.7h0M441.1 83.5h0M434.9 95.1h0M428.1 114.5h0M419.8 106.3h0M457.9 97.7h0M415.6 88.6h0M420.7 119.2h0M420.9 91.8h0M425.4 118.5h0M440.9 125.3h0" stroke="#70e898" stroke-width="1.4" stroke-linecap="round" fill="none"/>
<line x1="440.10" y1="122.70" x2="456.10" y2="122.70" stroke="#d0d8d0" stroke-width="0.6"/>
<line x1="442.60" y1="125.00" x2="453.60" y2="125.00" stroke="#6f7a72" stroke-width="0.7" stroke-dasharray="1.2 0.6"/>
<line x1="481.30" y1="43.00" x2="481.30" y2="104.20" stroke="#777" stroke-width="0.7"/>
<line x1="481.00" y1="104.20" x2="517.50" y2="104.20" stroke="#777" stroke-width="0.7"/>
<line x1="479.30" y1="43.30" x2="481.30" y2="43.30" stroke="#777" stroke-width="0.7"/>
<text x="478.6" y="46.1" font-size="7.6" text-anchor="end" font-weight="normal" fill="#1a1a1a" stroke="#1a1a1a" stroke-width="0.2">1.2</text>
<line x1="479.30" y1="63.60" x2="481.30" y2="63.60" stroke="#777" stroke-width="0.7"/>
<text x="478.6" y="66.4" font-size="7.6" text-anchor="end" font-weight="normal" fill="#1a1a1a" stroke="#1a1a1a" stroke-width="0.2">0.8</text>
<line x1="479.30" y1="83.90" x2="481.30" y2="83.90" stroke="#777" stroke-width="0.7"/>
<text x="478.6" y="86.7" font-size="7.6" text-anchor="end" font-weight="normal" fill="#1a1a1a" stroke="#1a1a1a" stroke-width="0.2">0.4</text>
<line x1="479.30" y1="104.20" x2="481.30" y2="104.20" stroke="#777" stroke-width="0.7"/>
<text x="478.6" y="107.0" font-size="7.6" text-anchor="end" font-weight="normal" fill="#1a1a1a" stroke="#1a1a1a" stroke-width="0.2">0</text>
<line x1="486.40" y1="53.45" x2="486.40" y2="47.61" stroke="#555" stroke-width="0.6"/>
<line x1="485.00" y1="47.61" x2="487.80" y2="47.61" stroke="#555" stroke-width="0.6"/>
<rect x="483.80" y="53.45" width="5.20" height="50.75" fill="#000" stroke="none" stroke-width="0.4"/>
<text x="488.59999999999997" y="107.4" font-size="7.7" text-anchor="end" font-weight="normal" fill="#1a1a1a" stroke="#1a1a1a" stroke-width="0.2" transform="rotate(-56 488.59999999999997 107.4)">Veh</text>
<line x1="495.25" y1="65.88" x2="495.25" y2="59.29" stroke="#555" stroke-width="0.6"/>
<line x1="493.85" y1="59.29" x2="496.65" y2="59.29" stroke="#555" stroke-width="0.6"/>
<rect x="492.70" y="65.88" width="5.10" height="38.32" fill="#3c3c3c" stroke="none" stroke-width="0.4"/>
<text x="497.45" y="107.4" font-size="7.7" text-anchor="end" font-weight="normal" fill="#1a1a1a" stroke="#1a1a1a" stroke-width="0.2" transform="rotate(-56 497.45 107.4)">ORY</text>
<line x1="503.80" y1="62.84" x2="503.80" y2="55.48" stroke="#555" stroke-width="0.6"/>
<line x1="502.40" y1="55.48" x2="505.20" y2="55.48" stroke="#555" stroke-width="0.6"/>
<rect x="501.20" y="62.84" width="5.20" height="41.36" fill="#8a8a8a" stroke="none" stroke-width="0.4"/>
<text x="505.99999999999994" y="107.4" font-size="7.7" text-anchor="end" font-weight="normal" fill="#1a1a1a" stroke="#1a1a1a" stroke-width="0.2" transform="rotate(-56 505.99999999999994 107.4)">I-BET</text>
<line x1="512.65" y1="78.83" x2="512.65" y2="76.29" stroke="#555" stroke-width="0.6"/>
<line x1="511.25" y1="76.29" x2="514.05" y2="76.29" stroke="#555" stroke-width="0.6"/>
<rect x="510.00" y="78.83" width="5.30" height="25.38" fill="#c8c8c8" stroke="#444" stroke-width="0.4"/>
<text x="514.85" y="107.4" font-size="7.7" text-anchor="end" font-weight="normal" fill="#1a1a1a" stroke="#1a1a1a" stroke-width="0.2" transform="rotate(-56 514.85 107.4)">Combo</text>
<line x1="495.60" y1="51.70" x2="515.80" y2="51.70" stroke="#444" stroke-width="0.7"/>
<line x1="507.90" y1="58.00" x2="515.80" y2="58.00" stroke="#444" stroke-width="0.7"/>
<text x="512.6" y="58.93" font-size="9" text-anchor="middle" font-weight="bold" fill="#222">*</text>
<text x="512.6" y="67.52" font-size="9" text-anchor="middle" font-weight="bold" fill="#222">*</text>
</g>
<g id="pD">
<text x="2.0" y="149.6" font-size="12.6" text-anchor="start" font-weight="bold" fill="#000">D</text>
<rect x="41.10" y="161.50" width="20.04" height="18.15" fill="#f9ac97" stroke="none" stroke-width="0"/>
<rect x="60.84" y="161.50" width="20.34" height="18.15" fill="#f58068" stroke="none" stroke-width="0"/>
<rect x="80.88" y="161.50" width="20.34" height="18.15" fill="#f36d56" stroke="none" stroke-width="0"/>
<rect x="100.92" y="161.50" width="20.34" height="18.15" fill="#f15a44" stroke="none" stroke-width="0"/>
<rect x="120.96" y="161.50" width="20.34" height="18.15" fill="#eb4131" stroke="none" stroke-width="0"/>
<rect x="41.10" y="179.35" width="20.04" height="18.45" fill="#fbc2b0" stroke="none" stroke-width="0"/>
<rect x="60.84" y="179.35" width="20.34" height="18.45" fill="#f7947d" stroke="none" stroke-width="0"/>
<rect x="80.88" y="179.35" width="20.34" height="18.45" fill="#f58068" stroke="none" stroke-width="0"/>
<rect x="100.92" y="179.35" width="20.34" height="18.45" fill="#f2664f" stroke="none" stroke-width="0"/>
<rect x="120.96" y="179.35" width="20.34" height="18.45" fill="#ef4f3b" stroke="none" stroke-width="0"/>
<rect x="41.10" y="197.50" width="20.04" height="18.45" fill="#fcd1c2" stroke="none" stroke-width="0"/>
<rect x="60.84" y="197.50" width="20.34" height="18.45" fill="#f8a28d" stroke="none" stroke-width="0"/>
<rect x="80.88" y="197.50" width="20.34" height="18.45" fill="#f78c75" stroke="none" stroke-width="0"/>
<rect x="100.92" y="197.50" width="20.34" height="18.45" fill="#f47159" stroke="none" stroke-width="0"/>
<rect x="120.96" y="197.50" width="20.34" height="18.45" fill="#ef513c" stroke="none" stroke-width="0"/>
<rect x="41.10" y="215.65" width="20.04" height="18.45" fill="#fddfd4" stroke="none" stroke-width="0"/>
<rect x="60.84" y="215.65" width="20.34" height="18.45" fill="#fab09c" stroke="none" stroke-width="0"/>
<rect x="80.88" y="215.65" width="20.34" height="18.45" fill="#f7957e" stroke="none" stroke-width="0"/>
<rect x="100.92" y="215.65" width="20.34" height="18.45" fill="#f4735b" stroke="none" stroke-width="0"/>
<rect x="120.96" y="215.65" width="20.34" height="18.45" fill="#f05942" stroke="none" stroke-width="0"/>
<rect x="41.10" y="233.80" width="20.04" height="18.45" fill="#fde1d7" stroke="none" stroke-width="0"/>
<rect x="60.84" y="233.80" width="20.34" height="18.45" fill="#fab8a4" stroke="none" stroke-width="0"/>
<rect x="80.88" y="233.80" width="20.34" height="18.45" fill="#f89983" stroke="none" stroke-width="0"/>
<rect x="100.92" y="233.80" width="20.34" height="18.45" fill="#f47860" stroke="none" stroke-width="0"/>
<rect x="120.96" y="233.80" width="20.34" height="18.45" fill="#f15d46" stroke="none" stroke-width="0"/>
<rect x="41.10" y="251.95" width="20.04" height="18.45" fill="#ffffff" stroke="none" stroke-width="0"/>
<rect x="60.84" y="251.95" width="20.34" height="18.45" fill="#fcccbb" stroke="none" stroke-width="0"/>
<rect x="80.88" y="251.95" width="20.34" height="18.45" fill="#fab8a5" stroke="none" stroke-width="0"/>
<rect x="100.92" y="251.95" width="20.34" height="18.45" fill="#f78d76" stroke="none" stroke-width="0"/>
<rect x="120.96" y="251.95" width="20.34" height="18.45" fill="#f36952" stroke="none" stroke-width="0"/>
<text x="51.92" y="175.575" font-size="6.5" text-anchor="middle" font-weight="normal" fill="#3a0d08" stroke="#3a0d08" stroke-width="0.2">39.1</text>
<text x="71.96" y="175.575" font-size="6.5" text-anchor="middle" font-weight="normal" fill="#3a0d08" stroke="#3a0d08" stroke-width="0.2">56.8</text>
<text x="92.0" y="175.575" font-size="6.5" text-anchor="middle" font-weight="normal" fill="#3a0d08" stroke="#3a0d08" stroke-width="0.2">64.5</text>
<text x="112.03999999999999" y="175.575" font-size="6.5" text-anchor="middle" font-weight="normal" fill="#3a0d08" stroke="#3a0d08" stroke-width="0.2">72.7</text>
<text x="132.08000000000004" y="175.575" font-size="6.5" text-anchor="middle" font-weight="normal" fill="#3a0d08" stroke="#3a0d08" stroke-width="0.2">83.1</text>
<text x="51.92" y="193.725" font-size="6.5" text-anchor="middle" font-weight="normal" fill="#3a0d08" stroke="#3a0d08" stroke-width="0.2">29.9</text>
<text x="71.96" y="193.725" font-size="6.5" text-anchor="middle" font-weight="normal" fill="#3a0d08" stroke="#3a0d08" stroke-width="0.2">48.6</text>
<text x="92.0" y="193.725" font-size="6.5" text-anchor="middle" font-weight="normal" fill="#3a0d08" stroke="#3a0d08" stroke-width="0.2">56.7</text>
<text x="112.03999999999999" y="193.725" font-size="6.5" text-anchor="middle" font-weight="normal" fill="#3a0d08" stroke="#3a0d08" stroke-width="0.2">67.6</text>
<text x="132.08000000000004" y="193.725" font-size="6.5" text-anchor="middle" font-weight="normal" fill="#3a0d08" stroke="#3a0d08" stroke-width="0.2">77.4</text>
<text x="51.92" y="211.87499999999997" font-size="6.5" text-anchor="middle" font-weight="normal" fill="#3a0d08" stroke="#3a0d08" stroke-width="0.2">22.8</text>
<text x="71.96" y="211.87499999999997" font-size="6.5" text-anchor="middle" font-weight="normal" fill="#3a0d08" stroke="#3a0d08" stroke-width="0.2">43.0</text>
<text x="92.0" y="211.87499999999997" font-size="6.5" text-anchor="middle" font-weight="normal" fill="#3a0d08" stroke="#3a0d08" stroke-width="0.2">51.7</text>
<text x="112.03999999999999" y="211.87499999999997" font-size="6.5" text-anchor="middle" font-weight="normal" fill="#3a0d08" stroke="#3a0d08" stroke-width="0.2">62.9</text>
<text x="132.08000000000004" y="211.87499999999997" font-size="6.5" text-anchor="middle" font-weight="normal" fill="#3a0d08" stroke="#3a0d08" stroke-width="0.2">76.6</text>
<text x="51.92" y="230.02499999999998" font-size="6.5" text-anchor="middle" font-weight="normal" fill="#3a0d08" stroke="#3a0d08" stroke-width="0.2">15.3</text>
<text x="71.96" y="230.02499999999998" font-size="6.5" text-anchor="middle" font-weight="normal" fill="#3a0d08" stroke="#3a0d08" stroke-width="0.2">37.5</text>
<text x="92.0" y="230.02499999999998" font-size="6.5" text-anchor="middle" font-weight="normal" fill="#3a0d08" stroke="#3a0d08" stroke-width="0.2">48.2</text>
<text x="112.03999999999999" y="230.02499999999998" font-size="6.5" text-anchor="middle" font-weight="normal" fill="#3a0d08" stroke="#3a0d08" stroke-width="0.2">62.0</text>
<text x="132.08000000000004" y="230.02499999999998" font-size="6.5" text-anchor="middle" font-weight="normal" fill="#3a0d08" stroke="#3a0d08" stroke-width="0.2">73.4</text>
<text x="51.92" y="248.17499999999995" font-size="6.5" text-anchor="middle" font-weight="normal" fill="#3a0d08" stroke="#3a0d08" stroke-width="0.2">14.3</text>
<text x="71.96" y="248.17499999999995" font-size="6.5" text-anchor="middle" font-weight="normal" fill="#3a0d08" stroke="#3a0d08" stroke-width="0.2">34.2</text>
<text x="92.0" y="248.17499999999995" font-size="6.5" text-anchor="middle" font-weight="normal" fill="#3a0d08" stroke="#3a0d08" stroke-width="0.2">46.5</text>
<text x="112.03999999999999" y="248.17499999999995" font-size="6.5" text-anchor="middle" font-weight="normal" fill="#3a0d08" stroke="#3a0d08" stroke-width="0.2">60.0</text>
<text x="132.08000000000004" y="248.17499999999995" font-size="6.5" text-anchor="middle" font-weight="normal" fill="#3a0d08" stroke="#3a0d08" stroke-width="0.2">71.6</text>
<text x="51.92" y="261.925" font-size="6.5" text-anchor="middle" font-weight="normal" fill="#3a0d08" stroke="#3a0d08" stroke-width="0.2">0</text>
<text x="71.96" y="266.325" font-size="6.5" text-anchor="middle" font-weight="normal" fill="#3a0d08" stroke="#3a0d08" stroke-width="0.2">25.6</text>
<text x="92.0" y="266.325" font-size="6.5" text-anchor="middle" font-weight="normal" fill="#3a0d08" stroke="#3a0d08" stroke-width="0.2">34.0</text>
<text x="112.03999999999999" y="266.325" font-size="6.5" text-anchor="middle" font-weight="normal" fill="#3a0d08" stroke="#3a0d08" stroke-width="0.2">51.4</text>
<text x="132.08000000000004" y="266.325" font-size="6.5" text-anchor="middle" font-weight="normal" fill="#3a0d08" stroke="#3a0d08" stroke-width="0.2">66.4</text>
<rect x="81.88" y="197.50" width="19.04" height="18.45" fill="none" stroke="#111" stroke-width="1.3"/>
<text x="90.9" y="158" font-size="9.5" text-anchor="middle" font-weight="normal" fill="#1a1a1a" stroke="#1a1a1a" stroke-width="0.2">Cell growth</text>
<text x="91.2" y="290.6" font-size="9.0" text-anchor="middle" font-weight="normal" fill="#1a1a1a" stroke="#1a1a1a" stroke-width="0.2">i-BET762 (nmol/L)</text>
<text x="38.6" y="174.17499999999998" font-size="7.6" text-anchor="end" font-weight="normal" fill="#1a1a1a" stroke="#1a1a1a" stroke-width="0.2">20</text>
<line x1="39.10" y1="169.77" x2="40.10" y2="169.77" stroke="#333" stroke-width="0.5"/>
<text x="38.6" y="192.325" font-size="7.6" text-anchor="end" font-weight="normal" fill="#1a1a1a" stroke="#1a1a1a" stroke-width="0.2">10</text>
<line x1="39.10" y1="187.92" x2="40.10" y2="187.92" stroke="#333" stroke-width="0.5"/>
<text x="38.6" y="210.47499999999997" font-size="7.6" text-anchor="end" font-weight="normal" fill="#1a1a1a" stroke="#1a1a1a" stroke-width="0.2">5</text>
<line x1="39.10" y1="206.07" x2="40.10" y2="206.07" stroke="#333" stroke-width="0.5"/>
<text x="38.6" y="228.62499999999997" font-size="7.6" text-anchor="end" font-weight="normal" fill="#1a1a1a" stroke="#1a1a1a" stroke-width="0.2">2.5</text>
<line x1="39.10" y1="224.22" x2="40.10" y2="224.22" stroke="#333" stroke-width="0.5"/>
<text x="38.6" y="246.77499999999995" font-size="7.6" text-anchor="end" font-weight="normal" fill="#1a1a1a" stroke="#1a1a1a" stroke-width="0.2">1</text>
<line x1="39.10" y1="242.37" x2="40.10" y2="242.37" stroke="#333" stroke-width="0.5"/>
<text x="38.6" y="264.925" font-size="7.6" text-anchor="end" font-weight="normal" fill="#1a1a1a" stroke="#1a1a1a" stroke-width="0.2">0</text>
<line x1="39.10" y1="260.52" x2="40.10" y2="260.52" stroke="#333" stroke-width="0.5"/>
<text x="51.120000000000005" y="279.6" font-size="7.6" text-anchor="middle" font-weight="normal" fill="#1a1a1a" stroke="#1a1a1a" stroke-width="0.2">0</text>
<line x1="51.12" y1="271.60" x2="51.12" y2="272.80" stroke="#333" stroke-width="0.5"/>
<text x="71.16" y="279.6" font-size="7.6" text-anchor="middle" font-weight="normal" fill="#1a1a1a" stroke="#1a1a1a" stroke-width="0.2">100</text>
<line x1="71.16" y1="271.60" x2="71.16" y2="272.80" stroke="#333" stroke-width="0.5"/>
<text x="91.2" y="279.6" font-size="7.6" text-anchor="middle" font-weight="normal" fill="#1a1a1a" stroke="#1a1a1a" stroke-width="0.2">200</text>
<line x1="91.20" y1="271.60" x2="91.20" y2="272.80" stroke="#333" stroke-width="0.5"/>
<text x="111.24" y="279.6" font-size="7.6" text-anchor="middle" font-weight="normal" fill="#1a1a1a" stroke="#1a1a1a" stroke-width="0.2">500</text>
<line x1="111.24" y1="271.60" x2="111.24" y2="272.80" stroke="#333" stroke-width="0.5"/>
<text x="132.08000000000004" y="279.6" font-size="7.6" text-anchor="middle" font-weight="normal" fill="#1a1a1a" stroke="#1a1a1a" stroke-width="0.2">1,000</text>
<line x1="131.28" y1="271.60" x2="131.28" y2="272.80" stroke="#333" stroke-width="0.5"/>
<rect x="173.50" y="161.00" width="19.48" height="18.30" fill="#f8a28c" stroke="none" stroke-width="0"/>
<rect x="192.68" y="161.00" width="19.78" height="18.30" fill="#f47058" stroke="none" stroke-width="0"/>
<rect x="212.16" y="161.00" width="19.78" height="18.30" fill="#f15a43" stroke="none" stroke-width="0"/>
<rect x="231.64" y="161.00" width="19.78" height="18.30" fill="#ec4433" stroke="none" stroke-width="0"/>
<rect x="251.12" y="161.00" width="19.78" height="18.30" fill="#e9382a" stroke="none" stroke-width="0"/>
<rect x="173.50" y="179.00" width="19.48" height="18.60" fill="#fabca9" stroke="none" stroke-width="0"/>
<rect x="192.68" y="179.00" width="19.78" height="18.60" fill="#f58068" stroke="none" stroke-width="0"/>
<rect x="212.16" y="179.00" width="19.78" height="18.60" fill="#f36e56" stroke="none" stroke-width="0"/>
<rect x="231.64" y="179.00" width="19.78" height="18.60" fill="#f0543e" stroke="none" stroke-width="0"/>
<rect x="251.12" y="179.00" width="19.78" height="18.60" fill="#ec4332" stroke="none" stroke-width="0"/>
<rect x="173.50" y="197.30" width="19.48" height="18.60" fill="#fcccbc" stroke="none" stroke-width="0"/>
<rect x="192.68" y="197.30" width="19.78" height="18.60" fill="#f78d76" stroke="none" stroke-width="0"/>
<rect x="212.16" y="197.30" width="19.78" height="18.60" fill="#f36c54" stroke="none" stroke-width="0"/>
<rect x="231.64" y="197.30" width="19.78" height="18.60" fill="#f05741" stroke="none" stroke-width="0"/>
<rect x="251.12" y="197.30" width="19.78" height="18.60" fill="#ec4634" stroke="none" stroke-width="0"/>
<rect x="173.50" y="215.60" width="19.48" height="18.60" fill="#fccfbf" stroke="none" stroke-width="0"/>
<rect x="192.68" y="215.60" width="19.78" height="18.60" fill="#f89983" stroke="none" stroke-width="0"/>
<rect x="212.16" y="215.60" width="19.78" height="18.60" fill="#f4775f" stroke="none" stroke-width="0"/>
<rect x="231.64" y="215.60" width="19.78" height="18.60" fill="#f15e47" stroke="none" stroke-width="0"/>
<rect x="251.12" y="215.60" width="19.78" height="18.60" fill="#ef4f3b" stroke="none" stroke-width="0"/>
<rect x="173.50" y="233.90" width="19.48" height="18.60" fill="#fde3d9" stroke="none" stroke-width="0"/>
<rect x="192.68" y="233.90" width="19.78" height="18.60" fill="#f89e88" stroke="none" stroke-width="0"/>
<rect x="212.16" y="233.90" width="19.78" height="18.60" fill="#f57e67" stroke="none" stroke-width="0"/>
<rect x="231.64" y="233.90" width="19.78" height="18.60" fill="#f2624b" stroke="none" stroke-width="0"/>
<rect x="251.12" y="233.90" width="19.78" height="18.60" fill="#ee4d39" stroke="none" stroke-width="0"/>
<rect x="173.50" y="252.20" width="19.48" height="18.60" fill="#ffffff" stroke="none" stroke-width="0"/>
<rect x="192.68" y="252.20" width="19.78" height="18.60" fill="#fcd9cc" stroke="none" stroke-width="0"/>
<rect x="212.16" y="252.20" width="19.78" height="18.60" fill="#f8a08a" stroke="none" stroke-width="0"/>
<rect x="231.64" y="252.20" width="19.78" height="18.60" fill="#f4775f" stroke="none" stroke-width="0"/>
<rect x="251.12" y="252.20" width="19.78" height="18.60" fill="#f26750" stroke="none" stroke-width="0"/>
<text x="184.04000000000002" y="176.45000000000002" font-size="6.5" text-anchor="middle" font-weight="normal" fill="#3a0d08" stroke="#3a0d08" stroke-width="0.2">43.1</text>
<text x="203.52" y="176.45000000000002" font-size="6.5" text-anchor="middle" font-weight="normal" fill="#3a0d08" stroke="#3a0d08" stroke-width="0.2">63.5</text>
<text x="223.0" y="176.45000000000002" font-size="6.5" text-anchor="middle" font-weight="normal" fill="#3a0d08" stroke="#3a0d08" stroke-width="0.2">73.0</text>
<text x="242.48000000000002" y="176.45000000000002" font-size="6.5" text-anchor="middle" font-weight="normal" fill="#3a0d08" stroke="#3a0d08" stroke-width="0.2">82.0</text>
<text x="261.96" y="176.45000000000002" font-size="6.5" text-anchor="middle" font-weight="normal" fill="#3a0d08" stroke="#3a0d08" stroke-width="0.2">87.1</text>
<text x="184.04000000000002" y="194.75000000000003" font-size="6.5" text-anchor="middle" font-weight="normal" fill="#3a0d08" stroke="#3a0d08" stroke-width="0.2">32.5</text>
<text x="203.52" y="194.75000000000003" font-size="6.5" text-anchor="middle" font-weight="normal" fill="#3a0d08" stroke="#3a0d08" stroke-width="0.2">56.8</text>
<text x="223.0" y="194.75000000000003" font-size="6.5" text-anchor="middle" font-weight="normal" fill="#3a0d08" stroke="#3a0d08" stroke-width="0.2">64.3</text>
<text x="242.48000000000002" y="194.75000000000003" font-size="6.5" text-anchor="middle" font-weight="normal" fill="#3a0d08" stroke="#3a0d08" stroke-width="0.2">75.6</text>
<text x="261.96" y="194.75000000000003" font-size="6.5" text-anchor="middle" font-weight="normal" fill="#3a0d08" stroke="#3a0d08" stroke-width="0.2">82.3</text>
<text x="184.04000000000002" y="213.05" font-size="6.5" text-anchor="middle" font-weight="normal" fill="#3a0d08" stroke="#3a0d08" stroke-width="0.2">25.5</text>
<text x="203.52" y="213.05" font-size="6.5" text-anchor="middle" font-weight="normal" fill="#3a0d08" stroke="#3a0d08" stroke-width="0.2">51.4</text>
<text x="223.0" y="213.05" font-size="6.5" text-anchor="middle" font-weight="normal" fill="#3a0d08" stroke="#3a0d08" stroke-width="0.2">65.1</text>
<text x="242.48000000000002" y="213.05" font-size="6.5" text-anchor="middle" font-weight="normal" fill="#3a0d08" stroke="#3a0d08" stroke-width="0.2">74.2</text>
<text x="261.96" y="213.05" font-size="6.5" text-anchor="middle" font-weight="normal" fill="#3a0d08" stroke="#3a0d08" stroke-width="0.2">81.1</text>
<text x="184.04000000000002" y="231.35000000000002" font-size="6.5" text-anchor="middle" font-weight="normal" fill="#3a0d08" stroke="#3a0d08" stroke-width="0.2">24.1</text>
<text x="203.52" y="231.35000000000002" font-size="6.5" text-anchor="middle" font-weight="normal" fill="#3a0d08" stroke="#3a0d08" stroke-width="0.2">46.6</text>
<text x="223.0" y="231.35000000000002" font-size="6.5" text-anchor="middle" font-weight="normal" fill="#3a0d08" stroke="#3a0d08" stroke-width="0.2">60.3</text>
<text x="242.48000000000002" y="231.35000000000002" font-size="6.5" text-anchor="middle" font-weight="normal" fill="#3a0d08" stroke="#3a0d08" stroke-width="0.2">71.3</text>
<text x="261.96" y="231.35000000000002" font-size="6.5" text-anchor="middle" font-weight="normal" fill="#3a0d08" stroke="#3a0d08" stroke-width="0.2">77.5</text>
<text x="184.04000000000002" y="249.65" font-size="6.5" text-anchor="middle" font-weight="normal" fill="#3a0d08" stroke="#3a0d08" stroke-width="0.2">13.1</text>
<text x="203.52" y="249.65" font-size="6.5" text-anchor="middle" font-weight="normal" fill="#3a0d08" stroke="#3a0d08" stroke-width="0.2">44.8</text>
<text x="223.0" y="249.65" font-size="6.5" text-anchor="middle" font-weight="normal" fill="#3a0d08" stroke="#3a0d08" stroke-width="0.2">57.3</text>
<text x="242.48000000000002" y="249.65" font-size="6.5" text-anchor="middle" font-weight="normal" fill="#3a0d08" stroke="#3a0d08" stroke-width="0.2">69.3</text>
<text x="261.96" y="249.65" font-size="6.5" text-anchor="middle" font-weight="normal" fill="#3a0d08" stroke="#3a0d08" stroke-width="0.2">78.2</text>
<text x="184.04000000000002" y="267.95" font-size="6.5" text-anchor="middle" font-weight="normal" fill="#3a0d08" stroke="#3a0d08" stroke-width="0.2">0</text>
<text x="203.52" y="267.95" font-size="6.5" text-anchor="middle" font-weight="normal" fill="#3a0d08" stroke="#3a0d08" stroke-width="0.2">18.5</text>
<text x="223.0" y="267.95" font-size="6.5" text-anchor="middle" font-weight="normal" fill="#3a0d08" stroke="#3a0d08" stroke-width="0.2">43.8</text>
<text x="242.48000000000002" y="267.95" font-size="6.5" text-anchor="middle" font-weight="normal" fill="#3a0d08" stroke="#3a0d08" stroke-width="0.2">60.3</text>
<text x="261.96" y="267.95" font-size="6.5" text-anchor="middle" font-weight="normal" fill="#3a0d08" stroke="#3a0d08" stroke-width="0.2">67.0</text>
<rect x="193.68" y="233.90" width="18.48" height="18.60" fill="none" stroke="#111" stroke-width="1.3"/>
<text x="220.2" y="158" font-size="9.5" text-anchor="middle" font-weight="normal" fill="#1a1a1a" stroke="#1a1a1a" stroke-width="0.2">Cell growth</text>
<text x="226.7" y="290.6" font-size="9.0" text-anchor="middle" font-weight="normal" fill="#1a1a1a" stroke="#1a1a1a" stroke-width="0.2">OTX015 (nmol/L)</text>
<text x="171.0" y="173.75" font-size="7.6" text-anchor="end" font-weight="normal" fill="#1a1a1a" stroke="#1a1a1a" stroke-width="0.2">20</text>
<line x1="171.50" y1="169.35" x2="172.50" y2="169.35" stroke="#333" stroke-width="0.5"/>
<text x="171.0" y="192.05" font-size="7.6" text-anchor="end" font-weight="normal" fill="#1a1a1a" stroke="#1a1a1a" stroke-width="0.2">10</text>
<line x1="171.50" y1="187.65" x2="172.50" y2="187.65" stroke="#333" stroke-width="0.5"/>
<text x="171.0" y="210.35" font-size="7.6" text-anchor="end" font-weight="normal" fill="#1a1a1a" stroke="#1a1a1a" stroke-width="0.2">5</text>
<line x1="171.50" y1="205.95" x2="172.50" y2="205.95" stroke="#333" stroke-width="0.5"/>
<text x="171.0" y="228.65" font-size="7.6" text-anchor="end" font-weight="normal" fill="#1a1a1a" stroke="#1a1a1a" stroke-width="0.2">2.5</text>
<line x1="171.50" y1="224.25" x2="172.50" y2="224.25" stroke="#333" stroke-width="0.5"/>
<text x="171.0" y="246.95" font-size="7.6" text-anchor="end" font-weight="normal" fill="#1a1a1a" stroke="#1a1a1a" stroke-width="0.2">1</text>
<line x1="171.50" y1="242.55" x2="172.50" y2="242.55" stroke="#333" stroke-width="0.5"/>
<text x="171.0" y="265.25" font-size="7.6" text-anchor="end" font-weight="normal" fill="#1a1a1a" stroke="#1a1a1a" stroke-width="0.2">0</text>
<line x1="171.50" y1="260.85" x2="172.50" y2="260.85" stroke="#333" stroke-width="0.5"/>
<text x="184.04000000000002" y="279.6" font-size="7.6" text-anchor="middle" font-weight="normal" fill="#1a1a1a" stroke="#1a1a1a" stroke-width="0.2">0</text>
<line x1="183.24" y1="272.00" x2="183.24" y2="273.20" stroke="#333" stroke-width="0.5"/>
<text x="203.52" y="279.6" font-size="7.6" text-anchor="middle" font-weight="normal" fill="#1a1a1a" stroke="#1a1a1a" stroke-width="0.2">100</text>
<line x1="202.72" y1="272.00" x2="202.72" y2="273.20" stroke="#333" stroke-width="0.5"/>
<text x="223.0" y="279.6" font-size="7.6" text-anchor="middle" font-weight="normal" fill="#1a1a1a" stroke="#1a1a1a" stroke-width="0.2">200</text>
<line x1="222.20" y1="272.00" x2="222.20" y2="273.20" stroke="#333" stroke-width="0.5"/>
<text x="242.48000000000002" y="279.6" font-size="7.6" text-anchor="middle" font-weight="normal" fill="#1a1a1a" stroke="#1a1a1a" stroke-width="0.2">500</text>
<line x1="241.68" y1="272.00" x2="241.68" y2="273.20" stroke="#333" stroke-width="0.5"/>
<text x="263.35999999999996" y="279.6" font-size="7.6" text-anchor="middle" font-weight="normal" fill="#1a1a1a" stroke="#1a1a1a" stroke-width="0.2">1,000</text>
<line x1="261.16" y1="272.00" x2="261.16" y2="273.20" stroke="#333" stroke-width="0.5"/>
<text x="21.9" y="209" font-size="8.8" text-anchor="middle" font-weight="normal" fill="#1a1a1a" stroke="#1a1a1a" stroke-width="0.2" transform="rotate(-90 21.9 209)">ORY (µmol/L)</text>
<text x="155.8" y="212" font-size="8.8" text-anchor="middle" font-weight="normal" fill="#1a1a1a" stroke="#1a1a1a" stroke-width="0.2" transform="rotate(-90 155.8 212)">ORY (µmol/L)</text>
<defs><linearGradient id="cbD" x1="0" y1="0" x2="0" y2="1"><stop offset="0" stop-color="#e5352a"/><stop offset="0.25" stop-color="#f4846f"/><stop offset="0.49" stop-color="#ffffff"/><stop offset="0.75" stop-color="#b4dd9c"/><stop offset="1" stop-color="#5db432"/></linearGradient></defs>
<rect x="276.30" y="191.30" width="3.60" height="69.50" fill="url(#cbD)" stroke="none" stroke-width="0"/>
<text x="273" y="177" font-size="7.6" text-anchor="start" font-weight="normal" fill="#1a1a1a" stroke="#1a1a1a" stroke-width="0.2">Inhibition</text>
<text x="273" y="186.2" font-size="7.6" text-anchor="start" font-weight="normal" fill="#1a1a1a" stroke="#1a1a1a" stroke-width="0.2">(%)</text>
<text x="285.8" y="207.0" font-size="7.6" text-anchor="start" font-weight="normal" fill="#1a1a1a" stroke="#1a1a1a" stroke-width="0.2">50</text>
<text x="287.2" y="228.2" font-size="7.6" text-anchor="start" font-weight="normal" fill="#1a1a1a" stroke="#1a1a1a" stroke-width="0.2">0</text>
<text x="281.8" y="254.2" font-size="7.6" text-anchor="start" font-weight="normal" fill="#1a1a1a" stroke="#1a1a1a" stroke-width="0.2">−50</text>
</g>
<g id="pE">
<text x="315.8" y="149.6" font-size="12.6" text-anchor="start" font-weight="bold" fill="#000">E</text>
<line x1="358.50" y1="163.50" x2="358.50" y2="278.50" stroke="#555" stroke-width="0.8"/>
<line x1="358.50" y1="278.10" x2="487.50" y2="278.10" stroke="#555" stroke-width="0.8"/>
<line x1="356.30" y1="163.91" x2="358.50" y2="163.91" stroke="#555" stroke-width="0.8"/>
<text x="354" y="166.00500000000002" font-size="7.8" text-anchor="end" font-weight="normal" fill="#1a1a1a" stroke="#1a1a1a" stroke-width="0.2">1,500</text>
<line x1="356.30" y1="201.97" x2="358.50" y2="201.97" stroke="#555" stroke-width="0.8"/>
<text x="354" y="204.07000000000002" font-size="7.8" text-anchor="end" font-weight="normal" fill="#1a1a1a" stroke="#1a1a1a" stroke-width="0.2">1,000</text>
<line x1="356.30" y1="240.04" x2="358.50" y2="240.04" stroke="#555" stroke-width="0.8"/>
<text x="354" y="242.13500000000002" font-size="7.8" text-anchor="end" font-weight="normal" fill="#1a1a1a" stroke="#1a1a1a" stroke-width="0.2">500</text>
<line x1="356.30" y1="278.10" x2="358.50" y2="278.10" stroke="#555" stroke-width="0.8"/>
<text x="354" y="280.20000000000005" font-size="7.8" text-anchor="end" font-weight="normal" fill="#1a1a1a" stroke="#1a1a1a" stroke-width="0.2">0</text>
<text x="327.5" y="215" font-size="8.8" text-anchor="middle" font-weight="normal" fill="#1a1a1a" stroke="#1a1a1a" stroke-width="0.2" transform="rotate(-90 327.5 215)">Tumor volume (mm<tspan font-size="5.6" dy="-3">3</tspan><tspan dy="3">)</tspan></text>
<text x="430.9" y="162.9" font-size="9.3" text-anchor="middle" font-weight="normal" fill="#1a1a1a" stroke="#1a1a1a" stroke-width="0.2">22RV1</text>
<line x1="415.80" y1="164.40" x2="446.20" y2="164.40" stroke="#222" stroke-width="0.7"/>
<text x="342" y="291" font-size="7.8" text-anchor="start" font-weight="normal" fill="#1a1a1a" stroke="#1a1a1a" stroke-width="0.2">Day</text>
<text x="364.9" y="291" font-size="7.8" text-anchor="middle" font-weight="normal" fill="#1a1a1a" stroke="#1a1a1a" stroke-width="0.2">0</text>
<line x1="372.18" y1="278.10" x2="372.18" y2="275.90" stroke="#555" stroke-width="0.7"/>
<text x="379.46" y="291" font-size="7.8" text-anchor="middle" font-weight="normal" fill="#1a1a1a" stroke="#1a1a1a" stroke-width="0.2">3</text>
<line x1="386.74" y1="278.10" x2="386.74" y2="275.90" stroke="#555" stroke-width="0.7"/>
<text x="394.02" y="291" font-size="7.8" text-anchor="middle" font-weight="normal" fill="#1a1a1a" stroke="#1a1a1a" stroke-width="0.2">5</text>
<line x1="401.30" y1="278.10" x2="401.30" y2="275.90" stroke="#555" stroke-width="0.7"/>
<text x="408.58" y="291" font-size="7.8" text-anchor="middle" font-weight="normal" fill="#1a1a1a" stroke="#1a1a1a" stroke-width="0.2">7</text>
<line x1="415.86" y1="278.10" x2="415.86" y2="275.90" stroke="#555" stroke-width="0.7"/>
<text x="423.14" y="291" font-size="7.8" text-anchor="middle" font-weight="normal" fill="#1a1a1a" stroke="#1a1a1a" stroke-width="0.2">10</text>
<line x1="430.42" y1="278.10" x2="430.42" y2="275.90" stroke="#555" stroke-width="0.7"/>
<text x="437.7" y="291" font-size="7.8" text-anchor="middle" font-weight="normal" fill="#1a1a1a" stroke="#1a1a1a" stroke-width="0.2">12</text>
<line x1="444.98" y1="278.10" x2="444.98" y2="275.90" stroke="#555" stroke-width="0.7"/>
<text x="452.26" y="291" font-size="7.8" text-anchor="middle" font-weight="normal" fill="#1a1a1a" stroke="#1a1a1a" stroke-width="0.2">14</text>
<line x1="459.54" y1="278.10" x2="459.54" y2="275.90" stroke="#555" stroke-width="0.7"/>
<text x="466.82" y="291" font-size="7.8" text-anchor="middle" font-weight="normal" fill="#1a1a1a" stroke="#1a1a1a" stroke-width="0.2">17</text>
<line x1="474.10" y1="278.10" x2="474.10" y2="275.90" stroke="#555" stroke-width="0.7"/>
<text x="481.38" y="291" font-size="7.8" text-anchor="middle" font-weight="normal" fill="#1a1a1a" stroke="#1a1a1a" stroke-width="0.2">19</text>
<line x1="488.66" y1="278.10" x2="488.66" y2="275.90" stroke="#555" stroke-width="0.7"/>
<line x1="364.90" y1="268.96" x2="364.90" y2="272.01" stroke="#9a9a9a" stroke-width="0.7"/>
<line x1="363.10" y1="268.96" x2="366.70" y2="268.96" stroke="#9a9a9a" stroke-width="0.7"/>
<line x1="363.10" y1="272.01" x2="366.70" y2="272.01" stroke="#9a9a9a" stroke-width="0.7"/>
<line x1="379.46" y1="266.30" x2="379.46" y2="270.11" stroke="#9a9a9a" stroke-width="0.7"/>
<line x1="377.66" y1="266.30" x2="381.26" y2="266.30" stroke="#9a9a9a" stroke-width="0.7"/>
<line x1="377.66" y1="270.11" x2="381.26" y2="270.11" stroke="#9a9a9a" stroke-width="0.7"/>
<line x1="394.02" y1="262.34" x2="394.02" y2="267.67" stroke="#9a9a9a" stroke-width="0.7"/>
<line x1="392.22" y1="262.34" x2="395.82" y2="262.34" stroke="#9a9a9a" stroke-width="0.7"/>
<line x1="392.22" y1="267.67" x2="395.82" y2="267.67" stroke="#9a9a9a" stroke-width="0.7"/>
<line x1="408.58" y1="256.63" x2="408.58" y2="264.24" stroke="#9a9a9a" stroke-width="0.7"/>
<line x1="406.78" y1="256.63" x2="410.38" y2="256.63" stroke="#9a9a9a" stroke-width="0.7"/>
<line x1="406.78" y1="264.24" x2="410.38" y2="264.24" stroke="#9a9a9a" stroke-width="0.7"/>
<line x1="423.14" y1="249.25" x2="423.14" y2="258.38" stroke="#9a9a9a" stroke-width="0.7"/>
<line x1="421.34" y1="249.25" x2="424.94" y2="249.25" stroke="#9a9a9a" stroke-width="0.7"/>
<line x1="421.34" y1="258.38" x2="424.94" y2="258.38" stroke="#9a9a9a" stroke-width="0.7"/>
<line x1="437.70" y1="238.36" x2="437.70" y2="252.06" stroke="#9a9a9a" stroke-width="0.7"/>
<line x1="435.90" y1="238.36" x2="439.50" y2="238.36" stroke="#9a9a9a" stroke-width="0.7"/>
<line x1="435.90" y1="252.06" x2="439.50" y2="252.06" stroke="#9a9a9a" stroke-width="0.7"/>
<line x1="452.26" y1="226.79" x2="452.26" y2="246.58" stroke="#9a9a9a" stroke-width="0.7"/>
<line x1="450.46" y1="226.79" x2="454.06" y2="226.79" stroke="#9a9a9a" stroke-width="0.7"/>
<line x1="450.46" y1="246.58" x2="454.06" y2="246.58" stroke="#9a9a9a" stroke-width="0.7"/>
<line x1="466.82" y1="208.97" x2="466.82" y2="237.90" stroke="#9a9a9a" stroke-width="0.7"/>
<line x1="465.02" y1="208.97" x2="468.62" y2="208.97" stroke="#9a9a9a" stroke-width="0.7"/>
<line x1="465.02" y1="237.90" x2="468.62" y2="237.90" stroke="#9a9a9a" stroke-width="0.7"/>
<line x1="481.38" y1="182.18" x2="481.38" y2="224.05" stroke="#9a9a9a" stroke-width="0.7"/>
<line x1="479.58" y1="182.18" x2="483.18" y2="182.18" stroke="#9a9a9a" stroke-width="0.7"/>
<line x1="479.58" y1="224.05" x2="483.18" y2="224.05" stroke="#9a9a9a" stroke-width="0.7"/>
<line x1="364.90" y1="269.27" x2="364.90" y2="272.01" stroke="#9a9a9a" stroke-width="0.7"/>
<line x1="363.10" y1="269.27" x2="366.70" y2="269.27" stroke="#9a9a9a" stroke-width="0.7"/>
<line x1="363.10" y1="272.01" x2="366.70" y2="272.01" stroke="#9a9a9a" stroke-width="0.7"/>
<line x1="379.46" y1="266.68" x2="379.46" y2="270.03" stroke="#9a9a9a" stroke-width="0.7"/>
<line x1="377.66" y1="266.68" x2="381.26" y2="266.68" stroke="#9a9a9a" stroke-width="0.7"/>
<line x1="377.66" y1="270.03" x2="381.26" y2="270.03" stroke="#9a9a9a" stroke-width="0.7"/>
<line x1="394.02" y1="264.40" x2="394.02" y2="268.96" stroke="#9a9a9a" stroke-width="0.7"/>
<line x1="392.22" y1="264.40" x2="395.82" y2="264.40" stroke="#9a9a9a" stroke-width="0.7"/>
<line x1="392.22" y1="268.96" x2="395.82" y2="268.96" stroke="#9a9a9a" stroke-width="0.7"/>
<line x1="408.58" y1="261.20" x2="408.58" y2="267.29" stroke="#9a9a9a" stroke-width="0.7"/>
<line x1="406.78" y1="261.20" x2="410.38" y2="261.20" stroke="#9a9a9a" stroke-width="0.7"/>
<line x1="406.78" y1="267.29" x2="410.38" y2="267.29" stroke="#9a9a9a" stroke-width="0.7"/>
<line x1="423.14" y1="256.02" x2="423.14" y2="264.40" stroke="#9a9a9a" stroke-width="0.7"/>
<line x1="421.34" y1="256.02" x2="424.94" y2="256.02" stroke="#9a9a9a" stroke-width="0.7"/>
<line x1="421.34" y1="264.40" x2="424.94" y2="264.40" stroke="#9a9a9a" stroke-width="0.7"/>
<line x1="437.70" y1="244.22" x2="437.70" y2="254.88" stroke="#9a9a9a" stroke-width="0.7"/>
<line x1="435.90" y1="244.22" x2="439.50" y2="244.22" stroke="#9a9a9a" stroke-width="0.7"/>
<line x1="435.90" y1="254.88" x2="439.50" y2="254.88" stroke="#9a9a9a" stroke-width="0.7"/>
<line x1="452.26" y1="236.99" x2="452.26" y2="249.17" stroke="#9a9a9a" stroke-width="0.7"/>
<line x1="450.46" y1="236.99" x2="454.06" y2="236.99" stroke="#9a9a9a" stroke-width="0.7"/>
<line x1="450.46" y1="249.17" x2="454.06" y2="249.17" stroke="#9a9a9a" stroke-width="0.7"/>
<line x1="466.82" y1="229.00" x2="466.82" y2="243.46" stroke="#9a9a9a" stroke-width="0.7"/>
<line x1="465.02" y1="229.00" x2="468.62" y2="229.00" stroke="#9a9a9a" stroke-width="0.7"/>
<line x1="465.02" y1="243.46" x2="468.62" y2="243.46" stroke="#9a9a9a" stroke-width="0.7"/>
<line x1="481.38" y1="221.46" x2="481.38" y2="235.92" stroke="#9a9a9a" stroke-width="0.7"/>
<line x1="479.58" y1="221.46" x2="483.18" y2="221.46" stroke="#9a9a9a" stroke-width="0.7"/>
<line x1="479.58" y1="235.92" x2="483.18" y2="235.92" stroke="#9a9a9a" stroke-width="0.7"/>
<line x1="364.90" y1="270.03" x2="364.90" y2="272.77" stroke="#9a9a9a" stroke-width="0.7"/>
<line x1="363.10" y1="270.03" x2="366.70" y2="270.03" stroke="#9a9a9a" stroke-width="0.7"/>
<line x1="363.10" y1="272.77" x2="366.70" y2="272.77" stroke="#9a9a9a" stroke-width="0.7"/>
<line x1="379.46" y1="267.29" x2="379.46" y2="270.64" stroke="#9a9a9a" stroke-width="0.7"/>
<line x1="377.66" y1="267.29" x2="381.26" y2="267.29" stroke="#9a9a9a" stroke-width="0.7"/>
<line x1="377.66" y1="270.64" x2="381.26" y2="270.64" stroke="#9a9a9a" stroke-width="0.7"/>
<line x1="394.02" y1="263.25" x2="394.02" y2="268.58" stroke="#9a9a9a" stroke-width="0.7"/>
<line x1="392.22" y1="263.25" x2="395.82" y2="263.25" stroke="#9a9a9a" stroke-width="0.7"/>
<line x1="392.22" y1="268.58" x2="395.82" y2="268.58" stroke="#9a9a9a" stroke-width="0.7"/>
<line x1="408.58" y1="257.77" x2="408.58" y2="266.15" stroke="#9a9a9a" stroke-width="0.7"/>
<line x1="406.78" y1="257.77" x2="410.38" y2="257.77" stroke="#9a9a9a" stroke-width="0.7"/>
<line x1="406.78" y1="266.15" x2="410.38" y2="266.15" stroke="#9a9a9a" stroke-width="0.7"/>
<line x1="423.14" y1="250.16" x2="423.14" y2="260.82" stroke="#9a9a9a" stroke-width="0.7"/>
<line x1="421.34" y1="250.16" x2="424.94" y2="250.16" stroke="#9a9a9a" stroke-width="0.7"/>
<line x1="421.34" y1="260.82" x2="424.94" y2="260.82" stroke="#9a9a9a" stroke-width="0.7"/>
<line x1="437.70" y1="237.29" x2="437.70" y2="252.52" stroke="#9a9a9a" stroke-width="0.7"/>
<line x1="435.90" y1="237.29" x2="439.50" y2="237.29" stroke="#9a9a9a" stroke-width="0.7"/>
<line x1="435.90" y1="252.52" x2="439.50" y2="252.52" stroke="#9a9a9a" stroke-width="0.7"/>
<line x1="452.26" y1="221.61" x2="452.26" y2="247.50" stroke="#9a9a9a" stroke-width="0.7"/>
<line x1="450.46" y1="221.61" x2="454.06" y2="221.61" stroke="#9a9a9a" stroke-width="0.7"/>
<line x1="450.46" y1="247.50" x2="454.06" y2="247.50" stroke="#9a9a9a" stroke-width="0.7"/>
<line x1="466.82" y1="201.06" x2="466.82" y2="233.79" stroke="#9a9a9a" stroke-width="0.7"/>
<line x1="465.02" y1="201.06" x2="468.62" y2="201.06" stroke="#9a9a9a" stroke-width="0.7"/>
<line x1="465.02" y1="233.79" x2="468.62" y2="233.79" stroke="#9a9a9a" stroke-width="0.7"/>
<line x1="481.38" y1="192.83" x2="481.38" y2="224.81" stroke="#9a9a9a" stroke-width="0.7"/>
<line x1="479.58" y1="192.83" x2="483.18" y2="192.83" stroke="#9a9a9a" stroke-width="0.7"/>
<line x1="479.58" y1="224.81" x2="483.18" y2="224.81" stroke="#9a9a9a" stroke-width="0.7"/>
<line x1="364.90" y1="268.58" x2="364.90" y2="270.87" stroke="#9a9a9a" stroke-width="0.7"/>
<line x1="363.10" y1="268.58" x2="366.70" y2="268.58" stroke="#9a9a9a" stroke-width="0.7"/>
<line x1="363.10" y1="270.87" x2="366.70" y2="270.87" stroke="#9a9a9a" stroke-width="0.7"/>
<line x1="379.46" y1="269.35" x2="379.46" y2="271.63" stroke="#9a9a9a" stroke-width="0.7"/>
<line x1="377.66" y1="269.35" x2="381.26" y2="269.35" stroke="#9a9a9a" stroke-width="0.7"/>
<line x1="377.66" y1="271.63" x2="381.26" y2="271.63" stroke="#9a9a9a" stroke-width="0.7"/>
<line x1="394.02" y1="269.12" x2="394.02" y2="271.86" stroke="#9a9a9a" stroke-width="0.7"/>
<line x1="392.22" y1="269.12" x2="395.82" y2="269.12" stroke="#9a9a9a" stroke-width="0.7"/>
<line x1="392.22" y1="271.86" x2="395.82" y2="271.86" stroke="#9a9a9a" stroke-width="0.7"/>
<line x1="408.58" y1="266.45" x2="408.58" y2="270.26" stroke="#9a9a9a" stroke-width="0.7"/>
<line x1="406.78" y1="266.45" x2="410.38" y2="266.45" stroke="#9a9a9a" stroke-width="0.7"/>
<line x1="406.78" y1="270.26" x2="410.38" y2="270.26" stroke="#9a9a9a" stroke-width="0.7"/>
<line x1="423.14" y1="262.80" x2="423.14" y2="269.65" stroke="#9a9a9a" stroke-width="0.7"/>
<line x1="421.34" y1="262.80" x2="424.94" y2="262.80" stroke="#9a9a9a" stroke-width="0.7"/>
<line x1="421.34" y1="269.65" x2="424.94" y2="269.65" stroke="#9a9a9a" stroke-width="0.7"/>
<line x1="437.70" y1="256.71" x2="437.70" y2="265.84" stroke="#9a9a9a" stroke-width="0.7"/>
<line x1="435.90" y1="256.71" x2="439.50" y2="256.71" stroke="#9a9a9a" stroke-width="0.7"/>
<line x1="435.90" y1="265.84" x2="439.50" y2="265.84" stroke="#9a9a9a" stroke-width="0.7"/>
<line x1="452.26" y1="253.81" x2="452.26" y2="264.47" stroke="#9a9a9a" stroke-width="0.7"/>
<line x1="450.46" y1="253.81" x2="454.06" y2="253.81" stroke="#9a9a9a" stroke-width="0.7"/>
<line x1="450.46" y1="264.47" x2="454.06" y2="264.47" stroke="#9a9a9a" stroke-width="0.7"/>
<line x1="466.82" y1="249.48" x2="466.82" y2="262.42" stroke="#9a9a9a" stroke-width="0.7"/>
<line x1="465.02" y1="249.48" x2="468.62" y2="249.48" stroke="#9a9a9a" stroke-width="0.7"/>
<line x1="465.02" y1="262.42" x2="468.62" y2="262.42" stroke="#9a9a9a" stroke-width="0.7"/>
<line x1="481.38" y1="246.96" x2="481.38" y2="259.90" stroke="#9a9a9a" stroke-width="0.7"/>
<line x1="479.58" y1="246.96" x2="483.18" y2="246.96" stroke="#9a9a9a" stroke-width="0.7"/>
<line x1="479.58" y1="259.90" x2="483.18" y2="259.90" stroke="#9a9a9a" stroke-width="0.7"/>
<polyline points="364.90,270.49 379.46,268.20 394.02,265.01 408.58,260.44 423.14,253.81 437.70,245.21 452.26,236.69 466.82,223.44 481.38,203.11" fill="none" stroke="#000" stroke-width="1.2" stroke-linejoin="round"/>
<path d="M364.90 268.17L367.22 270.49L364.90 272.81L362.58 270.49Z" fill="#000"/>
<path d="M379.46 265.88L381.78 268.20L379.46 270.52L377.14 268.20Z" fill="#000"/>
<path d="M394.02 262.69L396.34 265.01L394.02 267.33L391.70 265.01Z" fill="#000"/>
<path d="M408.58 258.12L410.90 260.44L408.58 262.76L406.26 260.44Z" fill="#000"/>
<path d="M423.14 250.91L426.04 253.81L423.14 256.71L420.24 253.81Z" fill="#000"/>
<path d="M437.70 242.31L440.60 245.21L437.70 248.11L434.80 245.21Z" fill="#000"/>
<path d="M452.26 233.79L455.16 236.69L452.26 239.59L449.36 236.69Z" fill="#000"/>
<path d="M466.82 220.54L469.72 223.44L466.82 226.34L463.92 223.44Z" fill="#000"/>
<path d="M481.38 200.21L484.28 203.11L481.38 206.01L478.48 203.11Z" fill="#000"/>
<polyline points="364.90,270.64 379.46,268.36 394.02,266.68 408.58,264.24 423.14,260.21 437.70,249.55 452.26,243.08 466.82,236.23 481.38,228.69" fill="none" stroke="#3f7fcf" stroke-width="1.2" stroke-linejoin="round"/>
<rect x="362.00" y="267.74" width="5.80" height="5.80" fill="#3f7fcf" stroke="none" stroke-width="0" rx="0.6"/>
<rect x="376.56" y="265.46" width="5.80" height="5.80" fill="#3f7fcf" stroke="none" stroke-width="0" rx="0.6"/>
<rect x="391.12" y="263.78" width="5.80" height="5.80" fill="#3f7fcf" stroke="none" stroke-width="0" rx="0.6"/>
<rect x="405.68" y="261.34" width="5.80" height="5.80" fill="#3f7fcf" stroke="none" stroke-width="0" rx="0.6"/>
<rect x="420.24" y="257.31" width="5.80" height="5.80" fill="#3f7fcf" stroke="none" stroke-width="0" rx="0.6"/>
<rect x="434.80" y="246.65" width="5.80" height="5.80" fill="#3f7fcf" stroke="none" stroke-width="0" rx="0.6"/>
<rect x="449.36" y="240.18" width="5.80" height="5.80" fill="#3f7fcf" stroke="none" stroke-width="0" rx="0.6"/>
<rect x="463.92" y="233.33" width="5.80" height="5.80" fill="#3f7fcf" stroke="none" stroke-width="0" rx="0.6"/>
<rect x="478.48" y="225.79" width="5.80" height="5.80" fill="#3f7fcf" stroke="none" stroke-width="0" rx="0.6"/>
<polyline points="364.90,271.40 379.46,268.96 394.02,265.92 408.58,261.96 423.14,255.49 437.70,244.91 452.26,234.55 466.82,217.42 481.38,208.82" fill="none" stroke="#6b2c9c" stroke-width="1.2" stroke-linejoin="round"/>
<path d="M364.90 269.00L367.30 273.44L362.50 273.44Z" fill="#6b2c9c"/>
<path d="M379.46 266.56L381.86 271.00L377.06 271.00Z" fill="#6b2c9c"/>
<path d="M394.02 263.52L396.42 267.96L391.62 267.96Z" fill="#6b2c9c"/>
<path d="M408.58 259.56L410.98 264.00L406.18 264.00Z" fill="#6b2c9c"/>
<path d="M423.14 252.49L426.14 258.04L420.14 258.04Z" fill="#6b2c9c"/>
<path d="M437.70 241.91L440.70 247.46L434.70 247.46Z" fill="#6b2c9c"/>
<path d="M452.26 231.55L455.26 237.10L449.26 237.10Z" fill="#6b2c9c"/>
<path d="M466.82 214.42L469.82 219.97L463.82 219.97Z" fill="#6b2c9c"/>
<path d="M481.38 205.82L484.38 211.37L478.38 211.37Z" fill="#6b2c9c"/>
<polyline points="364.90,269.73 379.46,270.49 394.02,270.49 408.58,268.36 423.14,266.22 437.70,261.28 452.26,259.14 466.82,255.95 481.38,253.43" fill="none" stroke="#6bb545" stroke-width="1.2" stroke-linejoin="round"/>
<circle cx="364.90" cy="269.73" r="3.00" fill="#6bb545" stroke="none" stroke-width="0"/>
<circle cx="379.46" cy="270.49" r="3.00" fill="#6bb545" stroke="none" stroke-width="0"/>
<circle cx="394.02" cy="270.49" r="3.00" fill="#6bb545" stroke="none" stroke-width="0"/>
<circle cx="408.58" cy="268.36" r="3.00" fill="#6bb545" stroke="none" stroke-width="0"/>
<circle cx="423.14" cy="266.22" r="3.00" fill="#6bb545" stroke="none" stroke-width="0"/>
<circle cx="437.70" cy="261.28" r="3.00" fill="#6bb545" stroke="none" stroke-width="0"/>
<circle cx="452.26" cy="259.14" r="3.00" fill="#6bb545" stroke="none" stroke-width="0"/>
<circle cx="466.82" cy="255.95" r="3.00" fill="#6bb545" stroke="none" stroke-width="0"/>
<circle cx="481.38" cy="253.43" r="3.00" fill="#6bb545" stroke="none" stroke-width="0"/>
<line x1="364.40" y1="177.60" x2="382.20" y2="177.60" stroke="#000" stroke-width="0.9"/>
<path d="M373.30 175.80L375.10 177.60L373.30 179.40L371.50 177.60Z" fill="#000"/>
<text x="385.2" y="180.4" font-size="7.6" text-anchor="start" font-weight="normal" fill="#1a1a1a" stroke="#1a1a1a" stroke-width="0.2">Veh</text>
<line x1="364.40" y1="187.40" x2="382.20" y2="187.40" stroke="#3f7fcf" stroke-width="0.9"/>
<rect x="371.50" y="185.60" width="3.60" height="3.60" fill="#3f7fcf" stroke="none" stroke-width="0" rx="0.6"/>
<text x="385.2" y="190.20000000000002" font-size="7.6" text-anchor="start" font-weight="normal" fill="#1a1a1a" stroke="#1a1a1a" stroke-width="0.2">I-BET</text>
<line x1="364.40" y1="197.00" x2="382.20" y2="197.00" stroke="#6b2c9c" stroke-width="0.9"/>
<path d="M373.30 195.14L375.16 198.58L371.44 198.58Z" fill="#6b2c9c"/>
<text x="385.2" y="199.8" font-size="7.6" text-anchor="start" font-weight="normal" fill="#1a1a1a" stroke="#1a1a1a" stroke-width="0.2">ORY</text>
<line x1="364.40" y1="207.00" x2="382.20" y2="207.00" stroke="#6bb545" stroke-width="0.9"/>
<circle cx="373.30" cy="207.00" r="1.86" fill="#6bb545" stroke="none" stroke-width="0"/>
<text x="385.2" y="209.8" font-size="7.6" text-anchor="start" font-weight="normal" fill="#1a1a1a" stroke="#1a1a1a" stroke-width="0.2">I-BET+ORY</text>
<path d="M490.2 206H493.5V253.4H490.2" fill="none" stroke="#555" stroke-width="0.7"/>
<path d="M486.6 232.4H489.2V252.7H486.6" fill="none" stroke="#555" stroke-width="0.7"/>
<text x="486" y="203.9" font-size="7.6" text-anchor="start" font-weight="normal" fill="#1a1a1a" stroke="#1a1a1a" stroke-width="0.2"><tspan font-style="italic">P</tspan> = 0.005</text>
<text x="483.8" y="263" font-size="7.6" text-anchor="start" font-weight="normal" fill="#1a1a1a" stroke="#1a1a1a" stroke-width="0.2"><tspan font-style="italic">P</tspan> = 0.05</text>
<line x1="481.20" y1="259.80" x2="483.20" y2="259.80" stroke="#555" stroke-width="0.6"/>
</g>
<g id="pF">
<text x="3.1" y="314" font-size="12.6" text-anchor="start" font-weight="bold" fill="#000">F</text>
<defs><clipPath id="cfO"><circle cx="56.2" cy="374.4" r="24.2"/></clipPath><clipPath id="cfB"><circle cx="93.3" cy="372.7" r="33.5"/></clipPath><clipPath id="cfC"><circle cx="85.8" cy="405.7" r="44.8"/></clipPath></defs>
<circle cx="56.2" cy="374.4" r="24.2" fill="#ccd8ee"/><circle cx="93.3" cy="372.7" r="33.5" fill="#dfeadb"/>
<circle cx="56.2" cy="374.4" r="24.2" fill="#c7d6d8" clip-path="url(#cfB)"/>
<circle cx="85.8" cy="405.7" r="44.8" fill="#f9d768"/>
<circle cx="93.3" cy="372.7" r="33.5" fill="#eec654" clip-path="url(#cfC)"/>
<circle cx="56.2" cy="374.4" r="24.2" fill="#cdc1a0" clip-path="url(#cfC)"/>
<g clip-path="url(#cfC)"><circle cx="56.2" cy="374.4" r="24.2" fill="#cfc49f" clip-path="url(#cfB)"/></g>
<circle cx="56.2" cy="374.4" r="24.2" fill="none" stroke="#1c1c1c" stroke-width="1.05"/>
<circle cx="93.3" cy="372.7" r="33.5" fill="none" stroke="#1c1c1c" stroke-width="1.05"/>
<circle cx="85.8" cy="405.7" r="44.8" fill="none" stroke="#1c1c1c" stroke-width="1.05"/>
<text x="49" y="368.2" font-size="7.7" text-anchor="middle" font-weight="normal" fill="#222" stroke="#222" stroke-width="0.2">100</text>
<text x="68.6" y="363.9" font-size="7.7" text-anchor="middle" font-weight="normal" fill="#222" stroke="#222" stroke-width="0.2">19</text>
<text x="105.6" y="357.7" font-size="7.7" text-anchor="middle" font-weight="normal" fill="#222" stroke="#222" stroke-width="0.2">206</text>
<text x="71.2" y="381.9" font-size="7.7" text-anchor="middle" font-weight="normal" fill="#222" stroke="#222" stroke-width="0.2">62</text>
<text x="58.8" y="393.3" font-size="7.7" text-anchor="middle" font-weight="normal" fill="#222" stroke="#222" stroke-width="0.2">49</text>
<text x="101.3" y="393.3" font-size="7.7" text-anchor="middle" font-weight="normal" fill="#222" stroke="#222" stroke-width="0.2">259</text>
<text x="90.8" y="429.6" font-size="7.7" text-anchor="middle" font-weight="normal" fill="#222" stroke="#222" stroke-width="0.2">455</text>
<text x="22.2" y="348.2" font-size="9.4" text-anchor="start" font-weight="normal" fill="#1a1a1a" stroke="#1a1a1a" stroke-width="0.2">ORY (230)</text>
<text x="113.7" y="342.6" font-size="9.4" text-anchor="start" font-weight="normal" fill="#1a1a1a" stroke="#1a1a1a" stroke-width="0.2">i-BET (546)</text>
<text x="58.2" y="460" font-size="9.4" text-anchor="start" font-weight="normal" fill="#1a1a1a" stroke="#1a1a1a" stroke-width="0.2">Combo (825)</text>
</g>
<g id="pG">
<text x="164.2" y="314" font-size="12.6" text-anchor="start" font-weight="bold" fill="#000">G</text>
<path d="M211.8 306.00h4.88v1.29h-4.88zM221.3 306.00h4.88v1.29h-4.88zM227.2 306.00h4.95v1.29h-4.95zM252.8 306.00h5.05v1.29h-5.05zM252.8 307.17h5.05v1.29h-5.05zM216.5 310.70h4.88v1.29h-4.88zM247.9 310.70h5.05v1.29h-5.05zM216.5 311.87h4.88v1.29h-4.88zM247.9 313.04h5.05v1.29h-5.05zM252.8 313.04h5.05v1.29h-5.05zM252.8 314.22h5.05v1.29h-5.05zM221.3 315.39h4.88v1.29h-4.88zM247.9 316.56h5.05v1.29h-5.05zM252.8 316.56h5.05v1.29h-5.05zM247.9 317.74h5.05v1.29h-5.05zM252.8 317.74h5.05v1.29h-5.05zM211.8 318.91h4.88v1.29h-4.88zM216.5 318.91h4.88v1.29h-4.88zM221.3 318.91h4.88v1.29h-4.88zM247.9 318.91h5.05v1.29h-5.05zM252.8 318.91h5.05v1.29h-5.05zM216.5 320.09h4.88v1.29h-4.88zM221.3 320.09h4.88v1.29h-4.88zM227.2 320.09h4.95v1.29h-4.95zM221.3 322.43h4.88v1.29h-4.88zM252.8 322.43h5.05v1.29h-5.05zM216.5 323.61h4.88v1.29h-4.88zM227.2 323.61h4.95v1.29h-4.95zM247.9 323.61h5.05v1.29h-5.05zM221.3 324.78h4.88v1.29h-4.88zM247.9 324.78h5.05v1.29h-5.05zM252.8 324.78h5.05v1.29h-5.05zM221.3 325.95h4.88v1.29h-4.88zM247.9 325.95h5.05v1.29h-5.05zM252.8 325.95h5.05v1.29h-5.05zM221.3 327.13h4.88v1.29h-4.88zM247.9 327.13h5.05v1.29h-5.05zM221.3 328.30h4.88v1.29h-4.88zM227.2 328.30h4.95v1.29h-4.95zM252.8 328.30h5.05v1.29h-5.05zM216.5 329.48h4.88v1.29h-4.88zM252.8 329.48h5.05v1.29h-5.05zM247.9 330.65h5.05v1.29h-5.05zM252.8 330.65h5.05v1.29h-5.05zM236.8 333.00h4.95v1.29h-4.95zM247.9 333.00h5.05v1.29h-5.05zM252.8 333.00h5.05v1.29h-5.05zM247.9 334.17h5.05v1.29h-5.05zM252.8 335.35h5.05v1.29h-5.05zM252.8 336.52h5.05v1.29h-5.05zM221.3 337.69h4.88v1.29h-4.88zM236.8 337.69h4.95v1.29h-4.95zM247.9 337.69h5.05v1.29h-5.05zM252.8 337.69h5.05v1.29h-5.05zM247.9 338.87h5.05v1.29h-5.05zM247.9 340.04h5.05v1.29h-5.05zM216.5 341.21h4.88v1.29h-4.88zM247.9 342.39h5.05v1.29h-5.05zM221.3 343.56h4.88v1.29h-4.88zM252.8 343.56h5.05v1.29h-5.05zM216.5 344.74h4.88v1.29h-4.88zM232.0 344.74h4.95v1.29h-4.95zM252.8 344.74h5.05v1.29h-5.05zM221.3 347.08h4.88v1.29h-4.88zM236.8 347.08h4.95v1.29h-4.95zM247.9 347.08h5.05v1.29h-5.05zM252.8 347.08h5.05v1.29h-5.05zM247.9 348.26h5.05v1.29h-5.05zM227.2 349.43h4.95v1.29h-4.95zM247.9 349.43h5.05v1.29h-5.05zM221.3 350.60h4.88v1.29h-4.88zM247.9 350.60h5.05v1.29h-5.05zM247.9 351.78h5.05v1.29h-5.05zM252.8 351.78h5.05v1.29h-5.05zM247.9 352.95h5.05v1.29h-5.05zM216.5 354.13h4.88v1.29h-4.88zM247.9 354.13h5.05v1.29h-5.05zM227.2 356.30h4.95v1.30h-4.95zM232.0 356.30h4.95v1.30h-4.95zM236.8 356.30h4.95v1.30h-4.95zM243.0 356.30h5.05v1.30h-5.05zM232.0 357.48h4.95v1.30h-4.95zM243.0 357.48h5.05v1.30h-5.05zM247.9 357.48h5.05v1.30h-5.05zM252.8 357.48h5.05v1.30h-5.05zM247.9 358.65h5.05v1.30h-5.05zM252.8 358.65h5.05v1.30h-5.05zM227.2 359.83h4.95v1.30h-4.95zM232.0 359.83h4.95v1.30h-4.95zM252.8 359.83h5.05v1.30h-5.05zM232.0 361.01h4.95v1.30h-4.95zM236.8 361.01h4.95v1.30h-4.95zM232.0 362.18h4.95v1.30h-4.95zM247.9 362.18h5.05v1.30h-5.05zM252.8 362.18h5.05v1.30h-5.05zM236.8 363.36h4.95v1.30h-4.95zM247.9 363.36h5.05v1.30h-5.05zM252.8 363.36h5.05v1.30h-5.05zM227.2 364.54h4.95v1.30h-4.95zM232.0 364.54h4.95v1.30h-4.95zM247.9 364.54h5.05v1.30h-5.05zM252.8 364.54h5.05v1.30h-5.05zM243.0 365.71h5.05v1.30h-5.05zM243.0 368.07h5.05v1.30h-5.05zM252.8 368.07h5.05v1.30h-5.05zM236.8 369.24h4.95v1.30h-4.95zM247.9 369.24h5.05v1.30h-5.05zM252.8 371.60h5.05v1.30h-5.05zM243.0 372.77h5.05v1.30h-5.05zM247.9 372.77h5.05v1.30h-5.05zM252.8 372.77h5.05v1.30h-5.05zM227.2 373.95h4.95v1.30h-4.95zM232.0 373.95h4.95v1.30h-4.95zM243.0 375.13h5.05v1.30h-5.05zM243.0 376.30h5.05v1.30h-5.05zM247.9 376.30h5.05v1.30h-5.05zM243.0 378.66h5.05v1.30h-5.05zM252.8 378.66h5.05v1.30h-5.05zM243.0 379.83h5.05v1.30h-5.05zM247.9 379.83h5.05v1.30h-5.05zM243.0 381.01h5.05v1.30h-5.05zM252.8 381.01h5.05v1.30h-5.05zM252.8 382.19h5.05v1.30h-5.05zM227.2 383.36h4.95v1.30h-4.95zM243.0 383.36h5.05v1.30h-5.05zM252.8 383.36h5.05v1.30h-5.05zM227.2 384.54h4.95v1.30h-4.95zM243.0 384.54h5.05v1.30h-5.05zM252.8 384.54h5.05v1.30h-5.05zM243.0 385.71h5.05v1.30h-5.05zM252.8 385.71h5.05v1.30h-5.05zM243.0 386.89h5.05v1.30h-5.05zM227.2 388.07h4.95v1.30h-4.95zM247.9 388.07h5.05v1.30h-5.05zM252.8 388.07h5.05v1.30h-5.05zM236.8 389.24h4.95v1.30h-4.95zM243.0 389.24h5.05v1.30h-5.05zM252.8 389.24h5.05v1.30h-5.05zM247.9 390.42h5.05v1.30h-5.05zM252.8 390.42h5.05v1.30h-5.05zM243.0 391.60h5.05v1.30h-5.05zM243.0 392.77h5.05v1.30h-5.05zM252.8 392.77h5.05v1.30h-5.05zM247.9 393.95h5.05v1.30h-5.05zM247.9 395.13h5.05v1.30h-5.05zM252.8 395.13h5.05v1.30h-5.05zM227.2 397.48h4.95v1.30h-4.95zM232.0 397.48h4.95v1.30h-4.95zM236.8 397.48h4.95v1.30h-4.95zM243.0 397.48h5.05v1.30h-5.05zM252.8 397.48h5.05v1.30h-5.05zM243.0 398.66h5.05v1.30h-5.05zM247.9 398.66h5.05v1.30h-5.05zM243.0 399.83h5.05v1.30h-5.05zM252.8 399.83h5.05v1.30h-5.05zM243.0 401.01h5.05v1.30h-5.05zM252.8 401.01h5.05v1.30h-5.05zM227.2 402.19h4.95v1.30h-4.95zM243.0 402.19h5.05v1.30h-5.05zM252.8 402.19h5.05v1.30h-5.05zM243.0 403.36h5.05v1.30h-5.05zM252.8 403.36h5.05v1.30h-5.05zM243.0 404.54h5.05v1.30h-5.05zM252.8 404.54h5.05v1.30h-5.05zM243.0 405.72h5.05v1.30h-5.05zM252.8 405.72h5.05v1.30h-5.05zM247.9 406.89h5.05v1.30h-5.05zM232.0 408.07h4.95v1.30h-4.95zM236.8 408.07h4.95v1.30h-4.95zM243.0 408.07h5.05v1.30h-5.05zM247.9 408.07h5.05v1.30h-5.05zM252.8 408.07h5.05v1.30h-5.05zM252.8 409.25h5.05v1.30h-5.05zM252.8 410.42h5.05v1.30h-5.05zM247.9 412.80h5.05v1.30h-5.05zM252.8 412.80h5.05v1.30h-5.05zM252.8 413.98h5.05v1.30h-5.05zM252.8 415.17h5.05v1.30h-5.05zM236.8 416.35h4.95v1.30h-4.95zM247.9 416.35h5.05v1.30h-5.05zM252.8 416.35h5.05v1.30h-5.05zM247.9 417.54h5.05v1.30h-5.05zM252.8 418.72h5.05v1.30h-5.05zM247.9 419.91h5.05v1.30h-5.05zM247.9 421.09h5.05v1.30h-5.05zM252.8 421.09h5.05v1.30h-5.05zM247.9 422.28h5.05v1.30h-5.05zM252.8 422.28h5.05v1.30h-5.05zM247.9 423.46h5.05v1.30h-5.05zM247.9 424.64h5.05v1.30h-5.05zM252.8 424.64h5.05v1.30h-5.05zM227.2 425.83h4.95v1.30h-4.95zM247.9 425.83h5.05v1.30h-5.05zM247.9 428.20h5.05v1.30h-5.05zM252.8 428.20h5.05v1.30h-5.05zM247.9 429.38h5.05v1.30h-5.05zM247.9 430.57h5.05v1.30h-5.05zM252.8 430.57h5.05v1.30h-5.05zM247.9 432.94h5.05v1.30h-5.05zM252.8 432.94h5.05v1.30h-5.05zM247.9 434.12h5.05v1.30h-5.05zM247.9 437.67h5.05v1.30h-5.05zM252.8 437.67h5.05v1.30h-5.05zM247.9 438.86h5.05v1.30h-5.05zM252.8 438.86h5.05v1.30h-5.05zM247.9 440.04h5.05v1.30h-5.05zM252.8 440.04h5.05v1.30h-5.05zM247.9 441.23h5.05v1.30h-5.05zM247.9 442.41h5.05v1.30h-5.05zM252.8 442.41h5.05v1.30h-5.05zM247.9 443.60h5.05v1.30h-5.05zM252.8 443.60h5.05v1.30h-5.05zM247.9 444.78h5.05v1.30h-5.05zM247.9 445.97h5.05v1.30h-5.05zM252.8 445.97h5.05v1.30h-5.05zM247.9 447.15h5.05v1.30h-5.05zM252.8 449.52h5.05v1.30h-5.05zM247.9 450.70h5.05v1.30h-5.05zM252.8 450.70h5.05v1.30h-5.05zM247.9 451.89h5.05v1.30h-5.05zM252.8 451.89h5.05v1.30h-5.05zM247.9 453.07h5.05v1.30h-5.05zM247.9 454.26h5.05v1.30h-5.05zM252.8 454.26h5.05v1.30h-5.05zM247.9 455.44h5.05v1.30h-5.05zM252.8 455.44h5.05v1.30h-5.05zM247.9 456.63h5.05v1.30h-5.05zM252.8 456.63h5.05v1.30h-5.05zM247.9 457.81h5.05v1.30h-5.05zM236.8 458.99h4.95v1.30h-4.95zM247.9 458.99h5.05v1.30h-5.05zM252.8 458.99h5.05v1.30h-5.05zM247.9 460.18h5.05v1.30h-5.05zM252.8 460.18h5.05v1.30h-5.05zM247.9 461.36h5.05v1.30h-5.05zM227.2 462.55h4.95v1.30h-4.95zM247.9 462.55h5.05v1.30h-5.05zM252.8 462.55h5.05v1.30h-5.05zM247.9 463.73h5.05v1.30h-5.05zM247.9 464.92h5.05v1.30h-5.05zM252.8 464.92h5.05v1.30h-5.05zM252.8 466.10h5.05v1.30h-5.05zM247.9 467.29h5.05v1.30h-5.05zM252.8 467.29h5.05v1.30h-5.05zM252.8 468.47h5.05v1.30h-5.05zM247.9 469.66h5.05v1.30h-5.05zM252.8 469.66h5.05v1.30h-5.05zM247.9 470.84h5.05v1.30h-5.05zM247.9 472.02h5.05v1.30h-5.05zM252.8 472.02h5.05v1.30h-5.05zM252.8 474.39h5.05v1.30h-5.05zM252.8 476.76h5.05v1.30h-5.05zM252.8 479.13h5.05v1.30h-5.05zM252.8 480.32h5.05v1.30h-5.05z" fill="#2c3aa6"/>
<path d="M216.5 308.35h4.88v1.29h-4.88zM247.9 308.35h5.05v1.29h-5.05zM252.8 308.35h5.05v1.29h-5.05zM252.8 309.52h5.05v1.29h-5.05zM252.8 310.70h5.05v1.29h-5.05zM227.2 311.87h4.95v1.29h-4.95zM247.9 311.87h5.05v1.29h-5.05zM252.8 311.87h5.05v1.29h-5.05zM227.2 313.04h4.95v1.29h-4.95zM216.5 315.39h4.88v1.29h-4.88zM227.2 315.39h4.95v1.29h-4.95zM216.5 316.56h4.88v1.29h-4.88zM216.5 317.74h4.88v1.29h-4.88zM221.3 317.74h4.88v1.29h-4.88zM247.9 320.09h5.05v1.29h-5.05zM216.5 322.43h4.88v1.29h-4.88zM221.3 323.61h4.88v1.29h-4.88zM252.8 327.13h5.05v1.29h-5.05zM247.9 328.30h5.05v1.29h-5.05zM247.9 329.48h5.05v1.29h-5.05zM221.3 330.65h4.88v1.29h-4.88zM247.9 331.82h5.05v1.29h-5.05zM252.8 331.82h5.05v1.29h-5.05zM236.8 336.52h4.95v1.29h-4.95zM216.5 340.04h4.88v1.29h-4.88zM221.3 341.21h4.88v1.29h-4.88zM243.0 341.21h5.05v1.29h-5.05zM247.9 343.56h5.05v1.29h-5.05zM247.9 344.74h5.05v1.29h-5.05zM247.9 345.91h5.05v1.29h-5.05zM252.8 349.43h5.05v1.29h-5.05zM252.8 356.30h5.05v1.30h-5.05zM243.0 361.01h5.05v1.30h-5.05zM252.8 366.89h5.05v1.30h-5.05zM252.8 369.24h5.05v1.30h-5.05zM247.9 370.42h5.05v1.30h-5.05zM252.8 370.42h5.05v1.30h-5.05zM252.8 376.30h5.05v1.30h-5.05zM252.8 379.83h5.05v1.30h-5.05zM247.9 383.36h5.05v1.30h-5.05zM236.8 385.71h4.95v1.30h-4.95zM236.8 388.07h4.95v1.30h-4.95zM243.0 388.07h5.05v1.30h-5.05zM227.2 391.60h4.95v1.30h-4.95zM243.0 393.95h5.05v1.30h-5.05zM243.0 395.13h5.05v1.30h-5.05zM243.0 396.30h5.05v1.30h-5.05zM232.0 399.83h4.95v1.30h-4.95zM247.9 401.01h5.05v1.30h-5.05zM227.2 403.36h4.95v1.30h-4.95zM247.9 405.72h5.05v1.30h-5.05zM227.2 408.07h4.95v1.30h-4.95zM236.8 410.42h4.95v1.30h-4.95zM243.0 410.42h5.05v1.30h-5.05zM247.9 410.42h5.05v1.30h-5.05zM247.9 413.98h5.05v1.30h-5.05zM252.8 417.54h5.05v1.30h-5.05zM236.8 418.72h4.95v1.30h-4.95zM247.9 418.72h5.05v1.30h-5.05zM227.2 422.28h4.95v1.30h-4.95zM252.8 423.46h5.05v1.30h-5.05zM252.8 427.01h5.05v1.30h-5.05zM227.2 428.20h4.95v1.30h-4.95zM252.8 429.38h5.05v1.30h-5.05zM247.9 431.75h5.05v1.30h-5.05zM252.8 431.75h5.05v1.30h-5.05zM247.9 435.31h5.05v1.30h-5.05zM252.8 436.49h5.05v1.30h-5.05zM252.8 441.23h5.05v1.30h-5.05zM252.8 444.78h5.05v1.30h-5.05zM252.8 447.15h5.05v1.30h-5.05zM247.9 448.33h5.05v1.30h-5.05zM247.9 449.52h5.05v1.30h-5.05zM252.8 453.07h5.05v1.30h-5.05zM232.0 454.26h4.95v1.30h-4.95zM236.8 454.26h4.95v1.30h-4.95zM252.8 457.81h5.05v1.30h-5.05zM252.8 461.36h5.05v1.30h-5.05zM252.8 463.73h5.05v1.30h-5.05zM247.9 466.10h5.05v1.30h-5.05zM247.9 468.47h5.05v1.30h-5.05zM247.9 473.21h5.05v1.30h-5.05zM247.9 474.39h5.05v1.30h-5.05zM247.9 479.13h5.05v1.30h-5.05zM247.9 480.32h5.05v1.30h-5.05z" fill="#3f4cae"/>
<path d="M216.5 307.17h4.88v1.29h-4.88zM221.3 307.17h4.88v1.29h-4.88zM221.3 308.35h4.88v1.29h-4.88zM221.3 309.52h4.88v1.29h-4.88zM243.0 309.52h5.05v1.29h-5.05zM247.9 314.22h5.05v1.29h-5.05zM252.8 315.39h5.05v1.29h-5.05zM232.0 316.56h4.95v1.29h-4.95zM252.8 320.09h5.05v1.29h-5.05zM247.9 322.43h5.05v1.29h-5.05zM232.0 323.61h4.95v1.29h-4.95zM243.0 336.52h5.05v1.29h-5.05zM247.9 336.52h5.05v1.29h-5.05zM252.8 340.04h5.05v1.29h-5.05zM236.8 341.21h4.95v1.29h-4.95zM252.8 341.21h5.05v1.29h-5.05zM252.8 342.39h5.05v1.29h-5.05zM216.5 343.56h4.88v1.29h-4.88zM252.8 345.91h5.05v1.29h-5.05zM221.3 348.26h4.88v1.29h-4.88zM252.8 348.26h5.05v1.29h-5.05zM216.5 351.78h4.88v1.29h-4.88zM221.3 352.95h4.88v1.29h-4.88zM252.8 352.95h5.05v1.29h-5.05zM247.9 356.30h5.05v1.30h-5.05zM236.8 362.18h4.95v1.30h-4.95zM243.0 363.36h5.05v1.30h-5.05zM243.0 364.54h5.05v1.30h-5.05zM227.2 365.71h4.95v1.30h-4.95zM252.8 365.71h5.05v1.30h-5.05zM243.0 370.42h5.05v1.30h-5.05zM243.0 371.60h5.05v1.30h-5.05zM247.9 373.95h5.05v1.30h-5.05zM252.8 375.13h5.05v1.30h-5.05zM227.2 377.48h4.95v1.30h-4.95zM247.9 381.01h5.05v1.30h-5.05zM247.9 386.89h5.05v1.30h-5.05zM232.0 388.07h4.95v1.30h-4.95zM247.9 389.24h5.05v1.30h-5.05zM243.0 390.42h5.05v1.30h-5.05zM232.0 391.60h4.95v1.30h-4.95zM236.8 391.60h4.95v1.30h-4.95zM252.8 391.60h5.05v1.30h-5.05zM236.8 393.95h4.95v1.30h-4.95zM236.8 401.01h4.95v1.30h-4.95zM227.2 404.54h4.95v1.30h-4.95zM247.9 404.54h5.05v1.30h-5.05zM232.0 406.89h4.95v1.30h-4.95zM236.8 413.98h4.95v1.30h-4.95zM247.9 415.17h5.05v1.30h-5.05zM252.8 419.91h5.05v1.30h-5.05zM243.0 424.64h5.05v1.30h-5.05zM236.8 425.83h4.95v1.30h-4.95zM252.8 425.83h5.05v1.30h-5.05zM243.0 427.01h5.05v1.30h-5.05zM247.9 427.01h5.05v1.30h-5.05zM236.8 432.94h4.95v1.30h-4.95zM252.8 434.12h5.05v1.30h-5.05zM252.8 435.31h5.05v1.30h-5.05zM236.8 445.97h4.95v1.30h-4.95zM252.8 448.33h5.05v1.30h-5.05zM243.0 451.89h5.05v1.30h-5.05zM243.0 466.10h5.05v1.30h-5.05zM252.8 473.21h5.05v1.30h-5.05zM247.9 475.58h5.05v1.30h-5.05zM252.8 475.58h5.05v1.30h-5.05zM252.8 477.95h5.05v1.30h-5.05z" fill="#525eb6"/>
<path d="M247.9 306.00h5.05v1.29h-5.05zM216.5 309.52h4.88v1.29h-4.88zM236.8 311.87h4.95v1.29h-4.95zM211.8 316.56h4.88v1.29h-4.88zM236.8 316.56h4.95v1.29h-4.95zM227.2 317.74h4.95v1.29h-4.95zM227.2 318.91h4.95v1.29h-4.95zM232.0 318.91h4.95v1.29h-4.95zM243.0 318.91h5.05v1.29h-5.05zM247.9 321.26h5.05v1.29h-5.05zM236.8 322.43h4.95v1.29h-4.95zM236.8 323.61h4.95v1.29h-4.95zM252.8 323.61h5.05v1.29h-5.05zM216.5 325.95h4.88v1.29h-4.88zM216.5 328.30h4.88v1.29h-4.88zM221.3 333.00h4.88v1.29h-4.88zM211.8 334.17h4.88v1.29h-4.88zM252.8 334.17h5.05v1.29h-5.05zM247.9 335.35h5.05v1.29h-5.05zM221.3 338.87h4.88v1.29h-4.88zM252.8 338.87h5.05v1.29h-5.05zM247.9 341.21h5.05v1.29h-5.05zM227.2 348.26h4.95v1.29h-4.95zM216.5 349.43h4.88v1.29h-4.88zM211.8 350.60h4.88v1.29h-4.88zM252.8 354.13h5.05v1.29h-5.05zM247.9 359.83h5.05v1.30h-5.05zM247.9 361.01h5.05v1.30h-5.05zM252.8 361.01h5.05v1.30h-5.05zM227.2 363.36h4.95v1.30h-4.95zM243.0 369.24h5.05v1.30h-5.05zM227.2 370.42h4.95v1.30h-4.95zM232.0 372.77h4.95v1.30h-4.95zM227.2 375.13h4.95v1.30h-4.95zM227.2 376.30h4.95v1.30h-4.95zM232.0 377.48h4.95v1.30h-4.95zM236.8 377.48h4.95v1.30h-4.95zM243.0 377.48h5.05v1.30h-5.05zM227.2 382.19h4.95v1.30h-4.95zM243.0 382.19h5.05v1.30h-5.05zM227.2 385.71h4.95v1.30h-4.95zM247.9 385.71h5.05v1.30h-5.05zM252.8 386.89h5.05v1.30h-5.05zM247.9 391.60h5.05v1.30h-5.05zM252.8 393.95h5.05v1.30h-5.05zM227.2 395.13h4.95v1.30h-4.95zM227.2 396.30h4.95v1.30h-4.95zM247.9 396.30h5.05v1.30h-5.05zM252.8 398.66h5.05v1.30h-5.05zM232.0 402.19h4.95v1.30h-4.95zM247.9 402.19h5.05v1.30h-5.05zM227.2 406.89h4.95v1.30h-4.95zM243.0 409.25h5.05v1.30h-5.05zM247.9 409.25h5.05v1.30h-5.05zM243.0 412.80h5.05v1.30h-5.05zM232.0 417.54h4.95v1.30h-4.95zM236.8 422.28h4.95v1.30h-4.95zM227.2 424.64h4.95v1.30h-4.95zM232.0 429.38h4.95v1.30h-4.95zM247.9 436.49h5.05v1.30h-5.05zM232.0 462.55h4.95v1.30h-4.95zM252.8 470.84h5.05v1.30h-5.05zM247.9 476.76h5.05v1.30h-5.05zM247.9 477.95h5.05v1.30h-5.05z" fill="#6771bf"/>
<path d="M216.5 306.00h4.88v1.29h-4.88zM247.9 309.52h5.05v1.29h-5.05zM227.2 310.70h4.95v1.29h-4.95zM221.3 313.04h4.88v1.29h-4.88zM247.9 315.39h5.05v1.29h-5.05zM236.8 318.91h4.95v1.29h-4.95zM211.8 320.09h4.88v1.29h-4.88zM252.8 321.26h5.05v1.29h-5.05zM216.5 324.78h4.88v1.29h-4.88zM227.2 327.13h4.95v1.29h-4.95zM232.0 327.13h4.95v1.29h-4.95zM232.0 329.48h4.95v1.29h-4.95zM236.8 329.48h4.95v1.29h-4.95zM211.8 341.21h4.88v1.29h-4.88zM216.5 342.39h4.88v1.29h-4.88zM221.3 342.39h4.88v1.29h-4.88zM227.2 344.74h4.95v1.29h-4.95zM236.8 344.74h4.95v1.29h-4.95zM232.0 347.08h4.95v1.29h-4.95zM221.3 349.43h4.88v1.29h-4.88zM216.5 350.60h4.88v1.29h-4.88zM236.8 350.60h4.95v1.29h-4.95zM252.8 350.60h5.05v1.29h-5.05zM227.2 357.48h4.95v1.30h-4.95zM227.2 358.65h4.95v1.30h-4.95zM243.0 359.83h5.05v1.30h-5.05zM236.8 366.89h4.95v1.30h-4.95zM247.9 366.89h5.05v1.30h-5.05zM227.2 369.24h4.95v1.30h-4.95zM236.8 373.95h4.95v1.30h-4.95zM243.0 373.95h5.05v1.30h-5.05zM252.8 373.95h5.05v1.30h-5.05zM232.0 375.13h4.95v1.30h-4.95zM236.8 375.13h4.95v1.30h-4.95zM247.9 375.13h5.05v1.30h-5.05zM247.9 377.48h5.05v1.30h-5.05zM247.9 378.66h5.05v1.30h-5.05zM247.9 382.19h5.05v1.30h-5.05zM247.9 384.54h5.05v1.30h-5.05zM227.2 389.24h4.95v1.30h-4.95zM227.2 392.77h4.95v1.30h-4.95zM232.0 395.13h4.95v1.30h-4.95zM236.8 395.13h4.95v1.30h-4.95zM227.2 399.83h4.95v1.30h-4.95zM236.8 399.83h4.95v1.30h-4.95zM247.9 403.36h5.05v1.30h-5.05zM232.0 405.72h4.95v1.30h-4.95zM236.8 405.72h4.95v1.30h-4.95zM243.0 406.89h5.05v1.30h-5.05zM252.8 406.89h5.05v1.30h-5.05zM221.3 408.07h4.88v1.30h-4.88zM243.0 419.91h5.05v1.30h-5.05zM232.0 425.83h4.95v1.30h-4.95zM243.0 425.83h5.05v1.30h-5.05zM227.2 429.38h4.95v1.30h-4.95zM232.0 437.67h4.95v1.30h-4.95zM232.0 440.04h4.95v1.30h-4.95zM236.8 440.04h4.95v1.30h-4.95zM243.0 441.23h5.05v1.30h-5.05zM243.0 442.41h5.05v1.30h-5.05zM232.0 448.33h4.95v1.30h-4.95zM243.0 448.33h5.05v1.30h-5.05zM236.8 450.70h4.95v1.30h-4.95zM227.2 451.89h4.95v1.30h-4.95zM236.8 453.07h4.95v1.30h-4.95zM216.5 454.26h4.88v1.30h-4.88zM243.0 455.44h5.05v1.30h-5.05zM243.0 462.55h5.05v1.30h-5.05zM243.0 463.73h5.05v1.30h-5.05zM243.0 464.92h5.05v1.30h-5.05zM211.8 466.10h4.88v1.30h-4.88zM243.0 468.47h5.05v1.30h-5.05zM243.0 474.39h5.05v1.30h-5.05zM243.0 477.95h5.05v1.30h-5.05zM236.8 479.13h4.95v1.30h-4.95z" fill="#7d86c8"/>
<path d="M247.9 307.17h5.05v1.29h-5.05zM232.0 310.70h4.95v1.29h-4.95zM232.0 311.87h4.95v1.29h-4.95zM236.8 313.04h4.95v1.29h-4.95zM227.2 314.22h4.95v1.29h-4.95zM236.8 317.74h4.95v1.29h-4.95zM216.5 321.26h4.88v1.29h-4.88zM211.8 324.78h4.88v1.29h-4.88zM243.0 324.78h5.05v1.29h-5.05zM227.2 325.95h4.95v1.29h-4.95zM211.8 327.13h4.88v1.29h-4.88zM216.5 327.13h4.88v1.29h-4.88zM211.8 328.30h4.88v1.29h-4.88zM236.8 328.30h4.95v1.29h-4.95zM227.2 330.65h4.95v1.29h-4.95zM243.0 330.65h5.05v1.29h-5.05zM221.3 331.82h4.88v1.29h-4.88zM236.8 334.17h4.95v1.29h-4.95zM221.3 335.35h4.88v1.29h-4.88zM232.0 336.52h4.95v1.29h-4.95zM216.5 338.87h4.88v1.29h-4.88zM227.2 340.04h4.95v1.29h-4.95zM227.2 343.56h4.95v1.29h-4.95zM216.5 345.91h4.88v1.29h-4.88zM232.0 349.43h4.95v1.29h-4.95zM243.0 349.43h5.05v1.29h-5.05zM236.8 351.78h4.95v1.29h-4.95zM243.0 352.95h5.05v1.29h-5.05zM221.3 354.13h4.88v1.29h-4.88zM243.0 358.65h5.05v1.30h-5.05zM243.0 362.18h5.05v1.30h-5.05zM236.8 364.54h4.95v1.30h-4.95zM243.0 366.89h5.05v1.30h-5.05zM227.2 368.07h4.95v1.30h-4.95zM236.8 370.42h4.95v1.30h-4.95zM227.2 371.60h4.95v1.30h-4.95zM227.2 372.77h4.95v1.30h-4.95zM236.8 372.77h4.95v1.30h-4.95zM252.8 377.48h5.05v1.30h-5.05zM232.0 383.36h4.95v1.30h-4.95zM232.0 385.71h4.95v1.30h-4.95zM227.2 386.89h4.95v1.30h-4.95zM232.0 386.89h4.95v1.30h-4.95zM227.2 390.42h4.95v1.30h-4.95zM232.0 392.77h4.95v1.30h-4.95zM247.9 392.77h5.05v1.30h-5.05zM232.0 396.30h4.95v1.30h-4.95zM252.8 396.30h5.05v1.30h-5.05zM247.9 397.48h5.05v1.30h-5.05zM232.0 398.66h4.95v1.30h-4.95zM227.2 409.25h4.95v1.30h-4.95zM232.0 409.25h4.95v1.30h-4.95zM227.2 410.42h4.95v1.30h-4.95zM236.8 412.80h4.95v1.30h-4.95zM227.2 415.17h4.95v1.30h-4.95zM243.0 417.54h5.05v1.30h-5.05zM243.0 418.72h5.05v1.30h-5.05zM236.8 419.91h4.95v1.30h-4.95zM243.0 421.09h5.05v1.30h-5.05zM243.0 422.28h5.05v1.30h-5.05zM243.0 423.46h5.05v1.30h-5.05zM236.8 427.01h4.95v1.30h-4.95zM227.2 431.75h4.95v1.30h-4.95zM243.0 434.12h5.05v1.30h-5.05zM232.0 436.49h4.95v1.30h-4.95zM236.8 436.49h4.95v1.30h-4.95zM232.0 438.86h4.95v1.30h-4.95zM227.2 442.41h4.95v1.30h-4.95zM243.0 444.78h5.05v1.30h-5.05zM232.0 447.15h4.95v1.30h-4.95zM243.0 447.15h5.05v1.30h-5.05zM211.8 449.52h4.88v1.30h-4.88zM232.0 449.52h4.95v1.30h-4.95zM243.0 449.52h5.05v1.30h-5.05zM227.2 454.26h4.95v1.30h-4.95zM243.0 454.26h5.05v1.30h-5.05zM243.0 456.63h5.05v1.30h-5.05zM227.2 457.81h4.95v1.30h-4.95zM243.0 458.99h5.05v1.30h-5.05zM243.0 460.18h5.05v1.30h-5.05zM243.0 461.36h5.05v1.30h-5.05zM232.0 463.73h4.95v1.30h-4.95zM232.0 466.10h4.95v1.30h-4.95zM243.0 467.29h5.05v1.30h-5.05zM236.8 468.47h4.95v1.30h-4.95zM221.3 472.02h4.88v1.30h-4.88zM243.0 473.21h5.05v1.30h-5.05zM243.0 475.58h5.05v1.30h-5.05zM221.3 479.13h4.88v1.30h-4.88z" fill="#959cd2"/>
<path d="M243.0 306.00h5.05v1.29h-5.05zM236.8 309.52h4.95v1.29h-4.95zM221.3 310.70h4.88v1.29h-4.88zM232.0 313.04h4.95v1.29h-4.95zM211.8 314.22h4.88v1.29h-4.88zM243.0 314.22h5.05v1.29h-5.05zM232.0 315.39h4.95v1.29h-4.95zM236.8 315.39h4.95v1.29h-4.95zM243.0 315.39h5.05v1.29h-5.05zM227.2 316.56h4.95v1.29h-4.95zM236.8 320.09h4.95v1.29h-4.95zM232.0 322.43h4.95v1.29h-4.95zM211.8 323.61h4.88v1.29h-4.88zM211.8 325.95h4.88v1.29h-4.88zM243.0 325.95h5.05v1.29h-5.05zM243.0 327.13h5.05v1.29h-5.05zM221.3 329.48h4.88v1.29h-4.88zM243.0 329.48h5.05v1.29h-5.05zM211.8 330.65h4.88v1.29h-4.88zM232.0 330.65h4.95v1.29h-4.95zM227.2 331.82h4.95v1.29h-4.95zM211.8 333.00h4.88v1.29h-4.88zM227.2 333.00h4.95v1.29h-4.95zM243.0 333.00h5.05v1.29h-5.05zM221.3 334.17h4.88v1.29h-4.88zM243.0 334.17h5.05v1.29h-5.05zM216.5 335.35h4.88v1.29h-4.88zM211.8 336.52h4.88v1.29h-4.88zM227.2 337.69h4.95v1.29h-4.95zM243.0 338.87h5.05v1.29h-5.05zM211.8 340.04h4.88v1.29h-4.88zM232.0 340.04h4.95v1.29h-4.95zM236.8 340.04h4.95v1.29h-4.95zM232.0 342.39h4.95v1.29h-4.95zM243.0 342.39h5.05v1.29h-5.05zM236.8 343.56h4.95v1.29h-4.95zM243.0 343.56h5.05v1.29h-5.05zM211.8 344.74h4.88v1.29h-4.88zM236.8 345.91h4.95v1.29h-4.95zM216.5 348.26h4.88v1.29h-4.88zM243.0 348.26h5.05v1.29h-5.05zM236.8 349.43h4.95v1.29h-4.95zM243.0 351.78h5.05v1.29h-5.05zM227.2 352.95h4.95v1.29h-4.95zM211.8 354.13h4.88v1.29h-4.88zM236.8 359.83h4.95v1.30h-4.95zM232.0 363.36h4.95v1.30h-4.95zM247.9 365.71h5.05v1.30h-5.05zM232.0 366.89h4.95v1.30h-4.95zM232.0 368.07h4.95v1.30h-4.95zM236.8 368.07h4.95v1.30h-4.95zM247.9 368.07h5.05v1.30h-5.05zM236.8 371.60h4.95v1.30h-4.95zM236.8 376.30h4.95v1.30h-4.95zM227.2 379.83h4.95v1.30h-4.95zM236.8 382.19h4.95v1.30h-4.95zM236.8 386.89h4.95v1.30h-4.95zM232.0 390.42h4.95v1.30h-4.95zM227.2 393.95h4.95v1.30h-4.95zM232.0 401.01h4.95v1.30h-4.95zM236.8 402.19h4.95v1.30h-4.95zM236.8 404.54h4.95v1.30h-4.95zM227.2 405.72h4.95v1.30h-4.95zM232.0 412.80h4.95v1.30h-4.95zM243.0 413.98h5.05v1.30h-5.05zM236.8 415.17h4.95v1.30h-4.95zM243.0 415.17h5.05v1.30h-5.05zM232.0 416.35h4.95v1.30h-4.95zM227.2 417.54h4.95v1.30h-4.95zM227.2 418.72h4.95v1.30h-4.95zM232.0 418.72h4.95v1.30h-4.95zM227.2 421.09h4.95v1.30h-4.95zM232.0 422.28h4.95v1.30h-4.95zM216.5 425.83h4.88v1.30h-4.88zM216.5 428.20h4.88v1.30h-4.88zM236.8 428.20h4.95v1.30h-4.95zM227.2 430.57h4.95v1.30h-4.95zM243.0 430.57h5.05v1.30h-5.05zM232.0 432.94h4.95v1.30h-4.95zM243.0 432.94h5.05v1.30h-5.05zM227.2 434.12h4.95v1.30h-4.95zM243.0 438.86h5.05v1.30h-5.05zM221.3 440.04h4.88v1.30h-4.88zM243.0 440.04h5.05v1.30h-5.05zM243.0 443.60h5.05v1.30h-5.05zM243.0 445.97h5.05v1.30h-5.05zM243.0 453.07h5.05v1.30h-5.05zM227.2 456.63h4.95v1.30h-4.95zM236.8 460.18h4.95v1.30h-4.95zM227.2 467.29h4.95v1.30h-4.95zM236.8 467.29h4.95v1.30h-4.95zM232.0 468.47h4.95v1.30h-4.95zM243.0 469.66h5.05v1.30h-5.05zM211.8 470.84h4.88v1.30h-4.88zM232.0 470.84h4.95v1.30h-4.95zM243.0 470.84h5.05v1.30h-5.05zM211.8 472.02h4.88v1.30h-4.88zM216.5 472.02h4.88v1.30h-4.88zM211.8 474.39h4.88v1.30h-4.88zM227.2 474.39h4.95v1.30h-4.95zM216.5 476.76h4.88v1.30h-4.88zM243.0 476.76h5.05v1.30h-5.05z" fill="#afb4dd"/>
<path d="M236.8 307.17h4.95v1.29h-4.95zM236.8 308.35h4.95v1.29h-4.95zM227.2 309.52h4.95v1.29h-4.95zM211.8 310.70h4.88v1.29h-4.88zM243.0 310.70h5.05v1.29h-5.05zM211.8 313.04h4.88v1.29h-4.88zM216.5 313.04h4.88v1.29h-4.88zM243.0 313.04h5.05v1.29h-5.05zM221.3 316.56h4.88v1.29h-4.88zM243.0 320.09h5.05v1.29h-5.05zM236.8 321.26h4.95v1.29h-4.95zM232.0 324.78h4.95v1.29h-4.95zM236.8 330.65h4.95v1.29h-4.95zM232.0 331.82h4.95v1.29h-4.95zM236.8 331.82h4.95v1.29h-4.95zM216.5 333.00h4.88v1.29h-4.88zM232.0 334.17h4.95v1.29h-4.95zM243.0 335.35h5.05v1.29h-5.05zM216.5 336.52h4.88v1.29h-4.88zM216.5 337.69h4.88v1.29h-4.88zM243.0 337.69h5.05v1.29h-5.05zM232.0 338.87h4.95v1.29h-4.95zM243.0 340.04h5.05v1.29h-5.05zM211.8 342.39h4.88v1.29h-4.88zM232.0 343.56h4.95v1.29h-4.95zM221.3 344.74h4.88v1.29h-4.88zM232.0 345.91h4.95v1.29h-4.95zM227.2 347.08h4.95v1.29h-4.95zM211.8 351.78h4.88v1.29h-4.88zM221.3 351.78h4.88v1.29h-4.88zM227.2 351.78h4.95v1.29h-4.95zM236.8 352.95h4.95v1.29h-4.95zM243.0 354.13h5.05v1.29h-5.05zM227.2 366.89h4.95v1.30h-4.95zM232.0 369.24h4.95v1.30h-4.95zM247.9 371.60h5.05v1.30h-5.05zM227.2 378.66h4.95v1.30h-4.95zM211.8 379.83h4.88v1.30h-4.88zM236.8 383.36h4.95v1.30h-4.95zM211.8 385.71h4.88v1.30h-4.88zM236.8 390.42h4.95v1.30h-4.95zM236.8 392.77h4.95v1.30h-4.95zM211.8 393.95h4.88v1.30h-4.88zM227.2 398.66h4.95v1.30h-4.95zM247.9 399.83h5.05v1.30h-5.05zM211.8 403.36h4.88v1.30h-4.88zM211.8 408.07h4.88v1.30h-4.88zM227.2 412.80h4.95v1.30h-4.95zM227.2 413.98h4.95v1.30h-4.95zM243.0 416.35h5.05v1.30h-5.05zM236.8 423.46h4.95v1.30h-4.95zM232.0 424.64h4.95v1.30h-4.95zM236.8 424.64h4.95v1.30h-4.95zM243.0 429.38h5.05v1.30h-5.05zM232.0 430.57h4.95v1.30h-4.95zM232.0 431.75h4.95v1.30h-4.95zM227.2 435.31h4.95v1.30h-4.95zM236.8 435.31h4.95v1.30h-4.95zM243.0 435.31h5.05v1.30h-5.05zM243.0 437.67h5.05v1.30h-5.05zM232.0 442.41h4.95v1.30h-4.95zM236.8 443.60h4.95v1.30h-4.95zM232.0 445.97h4.95v1.30h-4.95zM236.8 448.33h4.95v1.30h-4.95zM243.0 450.70h5.05v1.30h-5.05zM221.3 454.26h4.88v1.30h-4.88zM227.2 455.44h4.95v1.30h-4.95zM211.8 456.63h4.88v1.30h-4.88zM227.2 458.99h4.95v1.30h-4.95zM232.0 461.36h4.95v1.30h-4.95zM221.3 462.55h4.88v1.30h-4.88zM232.0 464.92h4.95v1.30h-4.95zM216.5 466.10h4.88v1.30h-4.88zM216.5 473.21h4.88v1.30h-4.88zM221.3 473.21h4.88v1.30h-4.88zM211.8 475.58h4.88v1.30h-4.88zM232.0 475.58h4.95v1.30h-4.95zM211.8 476.76h4.88v1.30h-4.88zM216.5 480.32h4.88v1.30h-4.88zM221.3 480.32h4.88v1.30h-4.88zM227.2 480.32h4.95v1.30h-4.95z" fill="#ced1ea"/>
<path d="M236.8 306.00h4.95v1.29h-4.95zM232.0 307.17h4.95v1.29h-4.95zM243.0 307.17h5.05v1.29h-5.05zM243.0 308.35h5.05v1.29h-5.05zM211.8 309.52h4.88v1.29h-4.88zM232.0 309.52h4.95v1.29h-4.95zM243.0 311.87h5.05v1.29h-5.05zM216.5 314.22h4.88v1.29h-4.88zM243.0 322.43h5.05v1.29h-5.05zM243.0 323.61h5.05v1.29h-5.05zM236.8 324.78h4.95v1.29h-4.95zM236.8 325.95h4.95v1.29h-4.95zM243.0 328.30h5.05v1.29h-5.05zM216.5 331.82h4.88v1.29h-4.88zM216.5 334.17h4.88v1.29h-4.88zM211.8 335.35h4.88v1.29h-4.88zM232.0 335.35h4.95v1.29h-4.95zM236.8 335.35h4.95v1.29h-4.95zM211.8 337.69h4.88v1.29h-4.88zM232.0 337.69h4.95v1.29h-4.95zM227.2 338.87h4.95v1.29h-4.95zM236.8 338.87h4.95v1.29h-4.95zM236.8 342.39h4.95v1.29h-4.95zM221.3 345.91h4.88v1.29h-4.88zM216.5 347.08h4.88v1.29h-4.88zM243.0 347.08h5.05v1.29h-5.05zM227.2 350.60h4.95v1.29h-4.95zM236.8 354.13h4.95v1.29h-4.95zM216.5 356.30h4.88v1.30h-4.88zM232.0 358.65h4.95v1.30h-4.95zM211.8 361.01h4.88v1.30h-4.88zM216.5 364.54h4.88v1.30h-4.88zM236.8 365.71h4.95v1.30h-4.95zM221.3 366.89h4.88v1.30h-4.88zM232.0 371.60h4.95v1.30h-4.95zM211.8 375.13h4.88v1.30h-4.88zM232.0 376.30h4.95v1.30h-4.95zM236.8 381.01h4.95v1.30h-4.95zM221.3 384.54h4.88v1.30h-4.88zM221.3 389.24h4.88v1.30h-4.88zM221.3 392.77h4.88v1.30h-4.88zM216.5 393.95h4.88v1.30h-4.88zM221.3 397.48h4.88v1.30h-4.88zM236.8 398.66h4.95v1.30h-4.95zM232.0 403.36h4.95v1.30h-4.95zM236.8 403.36h4.95v1.30h-4.95zM221.3 410.42h4.88v1.30h-4.88zM211.8 412.80h4.88v1.30h-4.88zM232.0 413.98h4.95v1.30h-4.95zM221.3 418.72h4.88v1.30h-4.88zM227.2 419.91h4.95v1.30h-4.95zM232.0 421.09h4.95v1.30h-4.95zM221.3 423.46h4.88v1.30h-4.88zM211.8 425.83h4.88v1.30h-4.88zM232.0 427.01h4.95v1.30h-4.95zM243.0 431.75h5.05v1.30h-5.05zM232.0 435.31h4.95v1.30h-4.95zM243.0 436.49h5.05v1.30h-5.05zM236.8 438.86h4.95v1.30h-4.95zM227.2 441.23h4.95v1.30h-4.95zM232.0 441.23h4.95v1.30h-4.95zM221.3 443.60h4.88v1.30h-4.88zM211.8 445.97h4.88v1.30h-4.88zM216.5 449.52h4.88v1.30h-4.88zM221.3 450.70h4.88v1.30h-4.88zM232.0 450.70h4.95v1.30h-4.95zM236.8 457.81h4.95v1.30h-4.95zM243.0 457.81h5.05v1.30h-5.05zM227.2 460.18h4.95v1.30h-4.95zM227.2 463.73h4.95v1.30h-4.95zM221.3 464.92h4.88v1.30h-4.88zM236.8 464.92h4.95v1.30h-4.95zM236.8 466.10h4.95v1.30h-4.95zM221.3 467.29h4.88v1.30h-4.88zM221.3 468.47h4.88v1.30h-4.88zM211.8 469.66h4.88v1.30h-4.88zM216.5 469.66h4.88v1.30h-4.88zM216.5 470.84h4.88v1.30h-4.88zM227.2 472.02h4.95v1.30h-4.95zM232.0 473.21h4.95v1.30h-4.95zM216.5 474.39h4.88v1.30h-4.88zM221.3 474.39h4.88v1.30h-4.88zM236.8 475.58h4.95v1.30h-4.95zM236.8 476.76h4.95v1.30h-4.95zM221.3 477.95h4.88v1.30h-4.88zM232.0 480.32h4.95v1.30h-4.95z" fill="#ffffff"/>
<path d="M227.2 308.35h4.95v1.29h-4.95zM232.0 308.35h4.95v1.29h-4.95zM236.8 310.70h4.95v1.29h-4.95zM221.3 311.87h4.88v1.29h-4.88zM243.0 317.74h5.05v1.29h-5.05zM232.0 321.26h4.95v1.29h-4.95zM243.0 321.26h5.05v1.29h-5.05zM227.2 322.43h4.95v1.29h-4.95zM211.8 329.48h4.88v1.29h-4.88zM227.2 329.48h4.95v1.29h-4.95zM243.0 331.82h5.05v1.29h-5.05zM221.3 336.52h4.88v1.29h-4.88zM211.8 338.87h4.88v1.29h-4.88zM221.3 340.04h4.88v1.29h-4.88zM227.2 341.21h4.95v1.29h-4.95zM227.2 342.39h4.95v1.29h-4.95zM243.0 344.74h5.05v1.29h-5.05zM227.2 345.91h4.95v1.29h-4.95zM211.8 348.26h4.88v1.29h-4.88zM236.8 348.26h4.95v1.29h-4.95zM243.0 350.60h5.05v1.29h-5.05zM216.5 352.95h4.88v1.29h-4.88zM232.0 352.95h4.95v1.29h-4.95zM227.2 354.13h4.95v1.29h-4.95zM211.8 356.30h4.88v1.30h-4.88zM211.8 358.65h4.88v1.30h-4.88zM236.8 358.65h4.95v1.30h-4.95zM227.2 361.01h4.95v1.30h-4.95zM221.3 371.60h4.88v1.30h-4.88zM221.3 376.30h4.88v1.30h-4.88zM211.8 377.48h4.88v1.30h-4.88zM221.3 377.48h4.88v1.30h-4.88zM236.8 379.83h4.95v1.30h-4.95zM232.0 382.19h4.95v1.30h-4.95zM236.8 384.54h4.95v1.30h-4.95zM216.5 385.71h4.88v1.30h-4.88zM232.0 389.24h4.95v1.30h-4.95zM205.2 397.48h5.05v1.30h-5.05zM221.3 403.36h4.88v1.30h-4.88zM211.8 405.72h4.88v1.30h-4.88zM232.0 415.17h4.95v1.30h-4.95zM236.8 417.54h4.95v1.30h-4.95zM211.8 418.72h4.88v1.30h-4.88zM236.8 421.09h4.95v1.30h-4.95zM232.0 423.46h4.95v1.30h-4.95zM221.3 424.64h4.88v1.30h-4.88zM232.0 428.20h4.95v1.30h-4.95zM243.0 428.20h5.05v1.30h-5.05zM211.8 429.38h4.88v1.30h-4.88zM216.5 429.38h4.88v1.30h-4.88zM236.8 430.57h4.95v1.30h-4.95zM232.0 434.12h4.95v1.30h-4.95zM216.5 435.31h4.88v1.30h-4.88zM227.2 437.67h4.95v1.30h-4.95zM221.3 438.86h4.88v1.30h-4.88zM236.8 442.41h4.95v1.30h-4.95zM227.2 443.60h4.95v1.30h-4.95zM221.3 447.15h4.88v1.30h-4.88zM227.2 448.33h4.95v1.30h-4.95zM236.8 449.52h4.95v1.30h-4.95zM211.8 450.70h4.88v1.30h-4.88zM227.2 450.70h4.95v1.30h-4.95zM211.8 454.26h4.88v1.30h-4.88zM232.0 455.44h4.95v1.30h-4.95zM216.5 456.63h4.88v1.30h-4.88zM221.3 457.81h4.88v1.30h-4.88zM236.8 462.55h4.95v1.30h-4.95zM221.3 466.10h4.88v1.30h-4.88zM227.2 466.10h4.95v1.30h-4.95zM211.8 468.47h4.88v1.30h-4.88zM236.8 469.66h4.95v1.30h-4.95zM227.2 470.84h4.95v1.30h-4.95zM243.0 472.02h5.05v1.30h-5.05zM227.2 476.76h4.95v1.30h-4.95zM216.5 479.13h4.88v1.30h-4.88zM227.2 479.13h4.95v1.30h-4.95zM243.0 479.13h5.05v1.30h-5.05zM211.8 480.32h4.88v1.30h-4.88zM243.0 480.32h5.05v1.30h-5.05z" fill="#fbcbcb"/>
<path d="M232.0 306.00h4.95v1.29h-4.95zM211.8 311.87h4.88v1.29h-4.88zM221.3 314.22h4.88v1.29h-4.88zM211.8 317.74h4.88v1.29h-4.88zM227.2 321.26h4.95v1.29h-4.95zM232.0 325.95h4.95v1.29h-4.95zM236.8 327.13h4.95v1.29h-4.95zM211.8 331.82h4.88v1.29h-4.88zM232.0 333.00h4.95v1.29h-4.95zM211.8 343.56h4.88v1.29h-4.88zM243.0 345.91h5.05v1.29h-5.05zM221.3 356.30h4.88v1.30h-4.88zM211.8 362.18h4.88v1.30h-4.88zM227.2 362.18h4.95v1.30h-4.95zM211.8 364.54h4.88v1.30h-4.88zM232.0 365.71h4.95v1.30h-4.95zM211.8 366.89h4.88v1.30h-4.88zM211.8 368.07h4.88v1.30h-4.88zM216.5 372.77h4.88v1.30h-4.88zM216.5 373.95h4.88v1.30h-4.88zM236.8 378.66h4.95v1.30h-4.95zM211.8 386.89h4.88v1.30h-4.88zM216.5 388.07h4.88v1.30h-4.88zM216.5 392.77h4.88v1.30h-4.88zM221.3 395.13h4.88v1.30h-4.88zM216.5 396.30h4.88v1.30h-4.88zM205.2 399.83h5.05v1.30h-5.05zM227.2 401.01h4.95v1.30h-4.95zM211.8 404.54h4.88v1.30h-4.88zM221.3 404.54h4.88v1.30h-4.88zM216.5 408.07h4.88v1.30h-4.88zM236.8 409.25h4.95v1.30h-4.95zM232.0 410.42h4.95v1.30h-4.95zM216.5 412.80h4.88v1.30h-4.88zM221.3 417.54h4.88v1.30h-4.88zM232.0 419.91h4.95v1.30h-4.95zM227.2 423.46h4.95v1.30h-4.95zM221.3 425.83h4.88v1.30h-4.88zM227.2 427.01h4.95v1.30h-4.95zM211.8 428.20h4.88v1.30h-4.88zM236.8 431.75h4.95v1.30h-4.95zM200.3 432.94h5.05v1.30h-5.05zM236.8 434.12h4.95v1.30h-4.95zM221.3 435.31h4.88v1.30h-4.88zM227.2 436.49h4.95v1.30h-4.95zM236.8 437.67h4.95v1.30h-4.95zM211.8 442.41h4.88v1.30h-4.88zM221.3 442.41h4.88v1.30h-4.88zM216.5 444.78h4.88v1.30h-4.88zM232.0 444.78h4.95v1.30h-4.95zM236.8 444.78h4.95v1.30h-4.95zM227.2 447.15h4.95v1.30h-4.95zM236.8 455.44h4.95v1.30h-4.95zM221.3 456.63h4.88v1.30h-4.88zM232.0 460.18h4.95v1.30h-4.95zM211.8 461.36h4.88v1.30h-4.88zM216.5 462.55h4.88v1.30h-4.88zM216.5 463.73h4.88v1.30h-4.88zM221.3 463.73h4.88v1.30h-4.88zM227.2 468.47h4.95v1.30h-4.95zM221.3 469.66h4.88v1.30h-4.88zM221.3 470.84h4.88v1.30h-4.88zM232.0 472.02h4.95v1.30h-4.95zM232.0 474.39h4.95v1.30h-4.95zM227.2 475.58h4.95v1.30h-4.95zM227.2 477.95h4.95v1.30h-4.95z" fill="#f8aaaa"/>
<path d="M205.2 306.00h5.05v1.29h-5.05zM232.0 317.74h4.95v1.29h-4.95zM232.0 320.09h4.95v1.29h-4.95zM200.3 328.30h5.05v1.29h-5.05zM232.0 328.30h4.95v1.29h-4.95zM227.2 334.17h4.95v1.29h-4.95zM227.2 336.52h4.95v1.29h-4.95zM232.0 341.21h4.95v1.29h-4.95zM200.3 343.56h5.05v1.29h-5.05zM200.3 344.74h5.05v1.29h-5.05zM211.8 345.91h4.88v1.29h-4.88zM205.2 348.26h5.05v1.29h-5.05zM221.3 357.48h4.88v1.30h-4.88zM216.5 359.83h4.88v1.30h-4.88zM221.3 363.36h4.88v1.30h-4.88zM221.3 364.54h4.88v1.30h-4.88zM221.3 369.24h4.88v1.30h-4.88zM216.5 370.42h4.88v1.30h-4.88zM216.5 371.60h4.88v1.30h-4.88zM195.4 373.95h5.05v1.30h-5.05zM211.8 376.30h4.88v1.30h-4.88zM232.0 378.66h4.95v1.30h-4.95zM200.3 379.83h5.05v1.30h-5.05zM232.0 379.83h4.95v1.30h-4.95zM232.0 381.01h4.95v1.30h-4.95zM232.0 384.54h4.95v1.30h-4.95zM221.3 385.71h4.88v1.30h-4.88zM205.2 391.60h5.05v1.30h-5.05zM205.2 392.77h5.05v1.30h-5.05zM221.3 393.95h4.88v1.30h-4.88zM232.0 393.95h4.95v1.30h-4.95zM211.8 395.13h4.88v1.30h-4.88zM221.3 396.30h4.88v1.30h-4.88zM216.5 399.83h4.88v1.30h-4.88zM195.4 403.36h5.05v1.30h-5.05zM236.8 406.89h4.95v1.30h-4.95zM211.8 422.28h4.88v1.30h-4.88zM211.8 427.01h4.88v1.30h-4.88zM216.5 427.01h4.88v1.30h-4.88zM216.5 430.57h4.88v1.30h-4.88zM216.5 434.12h4.88v1.30h-4.88zM211.8 435.31h4.88v1.30h-4.88zM195.4 437.67h5.05v1.30h-5.05zM227.2 438.86h4.95v1.30h-4.95zM211.8 440.04h4.88v1.30h-4.88zM227.2 440.04h4.95v1.30h-4.95zM211.8 443.60h4.88v1.30h-4.88zM232.0 443.60h4.95v1.30h-4.95zM216.5 445.97h4.88v1.30h-4.88zM227.2 445.97h4.95v1.30h-4.95zM236.8 447.15h4.95v1.30h-4.95zM216.5 448.33h4.88v1.30h-4.88zM216.5 450.70h4.88v1.30h-4.88zM232.0 451.89h4.95v1.30h-4.95zM221.3 455.44h4.88v1.30h-4.88zM236.8 456.63h4.95v1.30h-4.95zM232.0 457.81h4.95v1.30h-4.95zM211.8 460.18h4.88v1.30h-4.88zM236.8 463.73h4.95v1.30h-4.95zM232.0 467.29h4.95v1.30h-4.95zM216.5 468.47h4.88v1.30h-4.88zM236.8 470.84h4.95v1.30h-4.95zM227.2 473.21h4.95v1.30h-4.95zM236.8 473.21h4.95v1.30h-4.95zM236.8 474.39h4.95v1.30h-4.95zM216.5 475.58h4.88v1.30h-4.88zM232.0 476.76h4.95v1.30h-4.95zM211.8 477.95h4.88v1.30h-4.88zM216.5 477.95h4.88v1.30h-4.88zM236.8 477.95h4.95v1.30h-4.95zM232.0 479.13h4.95v1.30h-4.95zM236.8 480.32h4.95v1.30h-4.95z" fill="#f58f8e"/>
<path d="M232.0 314.22h4.95v1.29h-4.95zM243.0 316.56h5.05v1.29h-5.05zM195.4 321.26h5.05v1.29h-5.05zM211.8 321.26h4.88v1.29h-4.88zM227.2 335.35h4.95v1.29h-4.95zM195.4 342.39h5.05v1.29h-5.05zM205.2 343.56h5.05v1.29h-5.05zM211.8 349.43h4.88v1.29h-4.88zM232.0 350.60h4.95v1.29h-4.95zM200.3 351.78h5.05v1.29h-5.05zM232.0 351.78h4.95v1.29h-4.95zM211.8 352.95h4.88v1.29h-4.88zM205.2 354.13h5.05v1.29h-5.05zM236.8 357.48h4.95v1.30h-4.95zM200.3 358.65h5.05v1.30h-5.05zM216.5 358.65h4.88v1.30h-4.88zM221.3 361.01h4.88v1.30h-4.88zM221.3 365.71h4.88v1.30h-4.88zM216.5 375.13h4.88v1.30h-4.88zM221.3 375.13h4.88v1.30h-4.88zM216.5 378.66h4.88v1.30h-4.88zM221.3 381.01h4.88v1.30h-4.88zM227.2 381.01h4.95v1.30h-4.95zM200.3 382.19h5.05v1.30h-5.05zM211.8 382.19h4.88v1.30h-4.88zM211.8 383.36h4.88v1.30h-4.88zM221.3 383.36h4.88v1.30h-4.88zM195.4 384.54h5.05v1.30h-5.05zM211.8 384.54h4.88v1.30h-4.88zM205.2 386.89h5.05v1.30h-5.05zM221.3 388.07h4.88v1.30h-4.88zM216.5 391.60h4.88v1.30h-4.88zM216.5 395.13h4.88v1.30h-4.88zM211.8 396.30h4.88v1.30h-4.88zM236.8 396.30h4.95v1.30h-4.95zM205.2 401.01h5.05v1.30h-5.05zM221.3 401.01h4.88v1.30h-4.88zM211.8 402.19h4.88v1.30h-4.88zM221.3 402.19h4.88v1.30h-4.88zM221.3 405.72h4.88v1.30h-4.88zM216.5 406.89h4.88v1.30h-4.88zM195.4 408.07h5.05v1.30h-5.05zM211.8 410.42h4.88v1.30h-4.88zM211.8 413.98h4.88v1.30h-4.88zM211.8 415.17h4.88v1.30h-4.88zM227.2 416.35h4.95v1.30h-4.95zM216.5 421.09h4.88v1.30h-4.88zM216.5 422.28h4.88v1.30h-4.88zM205.2 423.46h5.05v1.30h-5.05zM216.5 424.64h4.88v1.30h-4.88zM221.3 429.38h4.88v1.30h-4.88zM236.8 429.38h4.95v1.30h-4.95zM211.8 430.57h4.88v1.30h-4.88zM216.5 431.75h4.88v1.30h-4.88zM221.3 432.94h4.88v1.30h-4.88zM221.3 437.67h4.88v1.30h-4.88zM195.4 444.78h5.05v1.30h-5.05zM221.3 448.33h4.88v1.30h-4.88zM221.3 449.52h4.88v1.30h-4.88zM236.8 451.89h4.95v1.30h-4.95zM221.3 453.07h4.88v1.30h-4.88zM227.2 453.07h4.95v1.30h-4.95zM216.5 455.44h4.88v1.30h-4.88zM211.8 457.81h4.88v1.30h-4.88zM211.8 458.99h4.88v1.30h-4.88zM216.5 458.99h4.88v1.30h-4.88zM221.3 458.99h4.88v1.30h-4.88zM232.0 458.99h4.95v1.30h-4.95zM221.3 460.18h4.88v1.30h-4.88zM221.3 461.36h4.88v1.30h-4.88zM200.3 462.55h5.05v1.30h-5.05zM211.8 462.55h4.88v1.30h-4.88zM211.8 467.29h4.88v1.30h-4.88zM227.2 469.66h4.95v1.30h-4.95zM211.8 473.21h4.88v1.30h-4.88zM232.0 477.95h4.95v1.30h-4.95zM211.8 479.13h4.88v1.30h-4.88zM200.3 480.32h5.05v1.30h-5.05z" fill="#f37674"/>
<path d="M227.2 307.17h4.95v1.29h-4.95zM195.4 310.70h5.05v1.29h-5.05zM195.4 313.04h5.05v1.29h-5.05zM221.3 321.26h4.88v1.29h-4.88zM205.2 337.69h5.05v1.29h-5.05zM216.5 357.48h4.88v1.30h-4.88zM195.4 358.65h5.05v1.30h-5.05zM205.2 359.83h5.05v1.30h-5.05zM221.3 359.83h4.88v1.30h-4.88zM205.2 361.01h5.05v1.30h-5.05zM216.5 361.01h4.88v1.30h-4.88zM211.8 363.36h4.88v1.30h-4.88zM205.2 365.71h5.05v1.30h-5.05zM211.8 369.24h4.88v1.30h-4.88zM221.3 372.77h4.88v1.30h-4.88zM221.3 373.95h4.88v1.30h-4.88zM195.4 376.30h5.05v1.30h-5.05zM205.2 376.30h5.05v1.30h-5.05zM216.5 379.83h4.88v1.30h-4.88zM221.3 382.19h4.88v1.30h-4.88zM205.2 383.36h5.05v1.30h-5.05zM216.5 383.36h4.88v1.30h-4.88zM216.5 386.89h4.88v1.30h-4.88zM216.5 389.24h4.88v1.30h-4.88zM195.4 390.42h5.05v1.30h-5.05zM211.8 391.60h4.88v1.30h-4.88zM221.3 391.60h4.88v1.30h-4.88zM195.4 396.30h5.05v1.30h-5.05zM211.8 397.48h4.88v1.30h-4.88zM211.8 401.01h4.88v1.30h-4.88zM216.5 402.19h4.88v1.30h-4.88zM200.3 403.36h5.05v1.30h-5.05zM216.5 404.54h4.88v1.30h-4.88zM216.5 405.72h4.88v1.30h-4.88zM205.2 406.89h5.05v1.30h-5.05zM216.5 413.98h4.88v1.30h-4.88zM195.4 416.35h5.05v1.30h-5.05zM221.3 421.09h4.88v1.30h-4.88zM211.8 423.46h4.88v1.30h-4.88zM221.3 431.75h4.88v1.30h-4.88zM211.8 432.94h4.88v1.30h-4.88zM216.5 432.94h4.88v1.30h-4.88zM211.8 434.12h4.88v1.30h-4.88zM221.3 436.49h4.88v1.30h-4.88zM211.8 441.23h4.88v1.30h-4.88zM216.5 441.23h4.88v1.30h-4.88zM221.3 441.23h4.88v1.30h-4.88zM236.8 441.23h4.95v1.30h-4.95zM216.5 442.41h4.88v1.30h-4.88zM195.4 443.60h5.05v1.30h-5.05zM221.3 444.78h4.88v1.30h-4.88zM221.3 445.97h4.88v1.30h-4.88zM200.3 447.15h5.05v1.30h-5.05zM216.5 447.15h4.88v1.30h-4.88zM211.8 448.33h4.88v1.30h-4.88zM227.2 449.52h4.95v1.30h-4.95zM216.5 451.89h4.88v1.30h-4.88zM195.4 453.07h5.05v1.30h-5.05zM200.3 453.07h5.05v1.30h-5.05zM205.2 453.07h5.05v1.30h-5.05zM211.8 455.44h4.88v1.30h-4.88zM200.3 456.63h5.05v1.30h-5.05zM232.0 456.63h4.95v1.30h-4.95zM216.5 457.81h4.88v1.30h-4.88zM216.5 460.18h4.88v1.30h-4.88zM195.4 461.36h5.05v1.30h-5.05zM205.2 462.55h5.05v1.30h-5.05zM227.2 464.92h4.95v1.30h-4.95zM236.8 472.02h4.95v1.30h-4.95zM221.3 475.58h4.88v1.30h-4.88zM221.3 476.76h4.88v1.30h-4.88z" fill="#f15f5d"/>
<path d="M211.8 307.17h4.88v1.29h-4.88zM236.8 314.22h4.95v1.29h-4.95zM200.3 316.56h5.05v1.29h-5.05zM200.3 325.95h5.05v1.29h-5.05zM195.4 329.48h5.05v1.29h-5.05zM205.2 333.00h5.05v1.29h-5.05zM195.4 344.74h5.05v1.29h-5.05zM205.2 345.91h5.05v1.29h-5.05zM211.8 347.08h4.88v1.29h-4.88zM232.0 348.26h4.95v1.29h-4.95zM205.2 352.95h5.05v1.29h-5.05zM232.0 354.13h4.95v1.29h-4.95zM195.4 357.48h5.05v1.30h-5.05zM205.2 357.48h5.05v1.30h-5.05zM221.3 358.65h4.88v1.30h-4.88zM195.4 362.18h5.05v1.30h-5.05zM205.2 362.18h5.05v1.30h-5.05zM221.3 362.18h4.88v1.30h-4.88zM216.5 363.36h4.88v1.30h-4.88zM205.2 366.89h5.05v1.30h-5.05zM216.5 366.89h4.88v1.30h-4.88zM200.3 368.07h5.05v1.30h-5.05zM195.4 370.42h5.05v1.30h-5.05zM232.0 370.42h4.95v1.30h-4.95zM211.8 371.60h4.88v1.30h-4.88zM211.8 373.95h4.88v1.30h-4.88zM195.4 375.13h5.05v1.30h-5.05zM216.5 377.48h4.88v1.30h-4.88zM205.2 385.71h5.05v1.30h-5.05zM200.3 389.24h5.05v1.30h-5.05zM195.4 392.77h5.05v1.30h-5.05zM200.3 393.95h5.05v1.30h-5.05zM195.4 395.13h5.05v1.30h-5.05zM216.5 397.48h4.88v1.30h-4.88zM211.8 398.66h4.88v1.30h-4.88zM221.3 398.66h4.88v1.30h-4.88zM200.3 399.83h5.05v1.30h-5.05zM195.4 401.01h5.05v1.30h-5.05zM200.3 401.01h5.05v1.30h-5.05zM195.4 402.19h5.05v1.30h-5.05zM205.2 403.36h5.05v1.30h-5.05zM216.5 403.36h4.88v1.30h-4.88zM205.2 404.54h5.05v1.30h-5.05zM232.0 404.54h4.95v1.30h-4.95zM200.3 405.72h5.05v1.30h-5.05zM205.2 405.72h5.05v1.30h-5.05zM195.4 406.89h5.05v1.30h-5.05zM221.3 406.89h4.88v1.30h-4.88zM205.2 409.25h5.05v1.30h-5.05zM221.3 413.98h4.88v1.30h-4.88zM200.3 415.17h5.05v1.30h-5.05zM221.3 415.17h4.88v1.30h-4.88zM211.8 416.35h4.88v1.30h-4.88zM211.8 417.54h4.88v1.30h-4.88zM200.3 419.91h5.05v1.30h-5.05zM200.3 421.09h5.05v1.30h-5.05zM195.4 422.28h5.05v1.30h-5.05zM205.2 422.28h5.05v1.30h-5.05zM221.3 422.28h4.88v1.30h-4.88zM205.2 424.64h5.05v1.30h-5.05zM211.8 424.64h4.88v1.30h-4.88zM195.4 428.20h5.05v1.30h-5.05zM221.3 428.20h4.88v1.30h-4.88zM200.3 429.38h5.05v1.30h-5.05zM195.4 432.94h5.05v1.30h-5.05zM200.3 434.12h5.05v1.30h-5.05zM216.5 436.49h4.88v1.30h-4.88zM200.3 437.67h5.05v1.30h-5.05zM211.8 437.67h4.88v1.30h-4.88zM216.5 440.04h4.88v1.30h-4.88zM205.2 441.23h5.05v1.30h-5.05zM205.2 442.41h5.05v1.30h-5.05zM216.5 443.60h4.88v1.30h-4.88zM205.2 445.97h5.05v1.30h-5.05zM205.2 447.15h5.05v1.30h-5.05zM200.3 448.33h5.05v1.30h-5.05zM205.2 451.89h5.05v1.30h-5.05zM205.2 454.26h5.05v1.30h-5.05zM205.2 456.63h5.05v1.30h-5.05zM216.5 461.36h4.88v1.30h-4.88zM236.8 461.36h4.95v1.30h-4.95zM205.2 463.73h5.05v1.30h-5.05zM216.5 464.92h4.88v1.30h-4.88zM205.2 466.10h5.05v1.30h-5.05zM216.5 467.29h4.88v1.30h-4.88zM200.3 473.21h5.05v1.30h-5.05zM205.2 474.39h5.05v1.30h-5.05zM195.4 475.58h5.05v1.30h-5.05zM205.2 475.58h5.05v1.30h-5.05zM205.2 479.13h5.05v1.30h-5.05z" fill="#ef4947"/>
<path d="M195.4 306.00h5.05v1.29h-5.05zM205.2 308.35h5.05v1.29h-5.05zM211.8 308.35h4.88v1.29h-4.88zM200.3 309.52h5.05v1.29h-5.05zM205.2 309.52h5.05v1.29h-5.05zM205.2 311.87h5.05v1.29h-5.05zM200.3 317.74h5.05v1.29h-5.05zM205.2 317.74h5.05v1.29h-5.05zM195.4 320.09h5.05v1.29h-5.05zM205.2 321.26h5.05v1.29h-5.05zM211.8 322.43h4.88v1.29h-4.88zM205.2 324.78h5.05v1.29h-5.05zM205.2 325.95h5.05v1.29h-5.05zM195.4 327.13h5.05v1.29h-5.05zM205.2 329.48h5.05v1.29h-5.05zM195.4 331.82h5.05v1.29h-5.05zM205.2 334.17h5.05v1.29h-5.05zM195.4 337.69h5.05v1.29h-5.05zM200.3 337.69h5.05v1.29h-5.05zM200.3 340.04h5.05v1.29h-5.05zM200.3 342.39h5.05v1.29h-5.05zM205.2 344.74h5.05v1.29h-5.05zM205.2 347.08h5.05v1.29h-5.05zM195.4 348.26h5.05v1.29h-5.05zM195.4 349.43h5.05v1.29h-5.05zM195.4 350.60h5.05v1.29h-5.05zM205.2 351.78h5.05v1.29h-5.05zM195.4 354.13h5.05v1.29h-5.05zM205.2 356.30h5.05v1.30h-5.05zM205.2 358.65h5.05v1.30h-5.05zM211.8 359.83h4.88v1.30h-4.88zM200.3 362.18h5.05v1.30h-5.05zM200.3 363.36h5.05v1.30h-5.05zM205.2 363.36h5.05v1.30h-5.05zM200.3 364.54h5.05v1.30h-5.05zM200.3 365.71h5.05v1.30h-5.05zM195.4 366.89h5.05v1.30h-5.05zM205.2 368.07h5.05v1.30h-5.05zM205.2 369.24h5.05v1.30h-5.05zM205.2 370.42h5.05v1.30h-5.05zM221.3 370.42h4.88v1.30h-4.88zM200.3 371.60h5.05v1.30h-5.05zM205.2 371.60h5.05v1.30h-5.05zM195.4 372.77h5.05v1.30h-5.05zM205.2 372.77h5.05v1.30h-5.05zM200.3 373.95h5.05v1.30h-5.05zM205.2 375.13h5.05v1.30h-5.05zM195.4 377.48h5.05v1.30h-5.05zM200.3 377.48h5.05v1.30h-5.05zM195.4 378.66h5.05v1.30h-5.05zM205.2 378.66h5.05v1.30h-5.05zM205.2 379.83h5.05v1.30h-5.05zM221.3 379.83h4.88v1.30h-4.88zM195.4 382.19h5.05v1.30h-5.05zM205.2 382.19h5.05v1.30h-5.05zM216.5 382.19h4.88v1.30h-4.88zM195.4 385.71h5.05v1.30h-5.05zM200.3 385.71h5.05v1.30h-5.05zM221.3 386.89h4.88v1.30h-4.88zM211.8 388.07h4.88v1.30h-4.88zM211.8 390.42h4.88v1.30h-4.88zM200.3 391.60h5.05v1.30h-5.05zM211.8 392.77h4.88v1.30h-4.88zM200.3 396.30h5.05v1.30h-5.05zM211.8 399.83h4.88v1.30h-4.88zM221.3 399.83h4.88v1.30h-4.88zM216.5 401.01h4.88v1.30h-4.88zM200.3 402.19h5.05v1.30h-5.05zM195.4 404.54h5.05v1.30h-5.05zM200.3 404.54h5.05v1.30h-5.05zM195.4 405.72h5.05v1.30h-5.05zM211.8 409.25h4.88v1.30h-4.88zM216.5 409.25h4.88v1.30h-4.88zM221.3 409.25h4.88v1.30h-4.88zM200.3 410.42h5.05v1.30h-5.05zM205.2 410.42h5.05v1.30h-5.05zM195.4 412.80h5.05v1.30h-5.05zM200.3 412.80h5.05v1.30h-5.05zM200.3 413.98h5.05v1.30h-5.05zM205.2 415.17h5.05v1.30h-5.05zM216.5 416.35h4.88v1.30h-4.88zM205.2 417.54h5.05v1.30h-5.05zM200.3 418.72h5.05v1.30h-5.05zM211.8 419.91h4.88v1.30h-4.88zM221.3 419.91h4.88v1.30h-4.88zM205.2 421.09h5.05v1.30h-5.05zM195.4 424.64h5.05v1.30h-5.05zM200.3 425.83h5.05v1.30h-5.05zM205.2 425.83h5.05v1.30h-5.05zM221.3 427.01h4.88v1.30h-4.88zM205.2 428.20h5.05v1.30h-5.05zM200.3 430.57h5.05v1.30h-5.05zM195.4 431.75h5.05v1.30h-5.05zM227.2 432.94h4.95v1.30h-4.95zM205.2 434.12h5.05v1.30h-5.05zM221.3 434.12h4.88v1.30h-4.88zM195.4 436.49h5.05v1.30h-5.05zM200.3 438.86h5.05v1.30h-5.05zM205.2 438.86h5.05v1.30h-5.05zM195.4 440.04h5.05v1.30h-5.05zM200.3 440.04h5.05v1.30h-5.05zM200.3 444.78h5.05v1.30h-5.05zM205.2 444.78h5.05v1.30h-5.05zM195.4 445.97h5.05v1.30h-5.05zM200.3 445.97h5.05v1.30h-5.05zM200.3 450.70h5.05v1.30h-5.05zM205.2 450.70h5.05v1.30h-5.05zM195.4 451.89h5.05v1.30h-5.05zM221.3 451.89h4.88v1.30h-4.88zM216.5 453.07h4.88v1.30h-4.88zM205.2 455.44h5.05v1.30h-5.05zM195.4 456.63h5.05v1.30h-5.05zM200.3 457.81h5.05v1.30h-5.05zM195.4 458.99h5.05v1.30h-5.05zM205.2 460.18h5.05v1.30h-5.05zM227.2 461.36h4.95v1.30h-4.95zM195.4 462.55h5.05v1.30h-5.05zM195.4 463.73h5.05v1.30h-5.05zM200.3 463.73h5.05v1.30h-5.05zM211.8 464.92h4.88v1.30h-4.88zM195.4 467.29h5.05v1.30h-5.05zM200.3 468.47h5.05v1.30h-5.05zM205.2 468.47h5.05v1.30h-5.05zM205.2 469.66h5.05v1.30h-5.05zM232.0 469.66h4.95v1.30h-4.95zM195.4 472.02h5.05v1.30h-5.05zM200.3 472.02h5.05v1.30h-5.05zM195.4 476.76h5.05v1.30h-5.05zM205.2 476.76h5.05v1.30h-5.05zM205.2 477.95h5.05v1.30h-5.05zM195.4 479.13h5.05v1.30h-5.05z" fill="#ee3432"/>
<path d="M200.3 306.00h5.05v1.29h-5.05zM195.4 307.17h5.05v1.29h-5.05zM200.3 307.17h5.05v1.29h-5.05zM205.2 307.17h5.05v1.29h-5.05zM195.4 308.35h5.05v1.29h-5.05zM200.3 308.35h5.05v1.29h-5.05zM195.4 309.52h5.05v1.29h-5.05zM200.3 310.70h5.05v1.29h-5.05zM205.2 310.70h5.05v1.29h-5.05zM195.4 311.87h5.05v1.29h-5.05zM200.3 311.87h5.05v1.29h-5.05zM200.3 313.04h5.05v1.29h-5.05zM205.2 313.04h5.05v1.29h-5.05zM195.4 314.22h5.05v1.29h-5.05zM200.3 314.22h5.05v1.29h-5.05zM205.2 314.22h5.05v1.29h-5.05zM195.4 315.39h5.05v1.29h-5.05zM200.3 315.39h5.05v1.29h-5.05zM205.2 315.39h5.05v1.29h-5.05zM211.8 315.39h4.88v1.29h-4.88zM195.4 316.56h5.05v1.29h-5.05zM205.2 316.56h5.05v1.29h-5.05zM195.4 317.74h5.05v1.29h-5.05zM195.4 318.91h5.05v1.29h-5.05zM200.3 318.91h5.05v1.29h-5.05zM205.2 318.91h5.05v1.29h-5.05zM200.3 320.09h5.05v1.29h-5.05zM205.2 320.09h5.05v1.29h-5.05zM200.3 321.26h5.05v1.29h-5.05zM195.4 322.43h5.05v1.29h-5.05zM200.3 322.43h5.05v1.29h-5.05zM205.2 322.43h5.05v1.29h-5.05zM195.4 323.61h5.05v1.29h-5.05zM200.3 323.61h5.05v1.29h-5.05zM205.2 323.61h5.05v1.29h-5.05zM195.4 324.78h5.05v1.29h-5.05zM200.3 324.78h5.05v1.29h-5.05zM227.2 324.78h4.95v1.29h-4.95zM195.4 325.95h5.05v1.29h-5.05zM200.3 327.13h5.05v1.29h-5.05zM205.2 327.13h5.05v1.29h-5.05zM195.4 328.30h5.05v1.29h-5.05zM205.2 328.30h5.05v1.29h-5.05zM200.3 329.48h5.05v1.29h-5.05zM195.4 330.65h5.05v1.29h-5.05zM200.3 330.65h5.05v1.29h-5.05zM205.2 330.65h5.05v1.29h-5.05zM216.5 330.65h4.88v1.29h-4.88zM200.3 331.82h5.05v1.29h-5.05zM205.2 331.82h5.05v1.29h-5.05zM195.4 333.00h5.05v1.29h-5.05zM200.3 333.00h5.05v1.29h-5.05zM195.4 334.17h5.05v1.29h-5.05zM200.3 334.17h5.05v1.29h-5.05zM195.4 335.35h5.05v1.29h-5.05zM200.3 335.35h5.05v1.29h-5.05zM205.2 335.35h5.05v1.29h-5.05zM195.4 336.52h5.05v1.29h-5.05zM200.3 336.52h5.05v1.29h-5.05zM205.2 336.52h5.05v1.29h-5.05zM195.4 338.87h5.05v1.29h-5.05zM200.3 338.87h5.05v1.29h-5.05zM205.2 338.87h5.05v1.29h-5.05zM195.4 340.04h5.05v1.29h-5.05zM205.2 340.04h5.05v1.29h-5.05zM195.4 341.21h5.05v1.29h-5.05zM200.3 341.21h5.05v1.29h-5.05zM205.2 341.21h5.05v1.29h-5.05zM205.2 342.39h5.05v1.29h-5.05zM195.4 343.56h5.05v1.29h-5.05zM195.4 345.91h5.05v1.29h-5.05zM200.3 345.91h5.05v1.29h-5.05zM195.4 347.08h5.05v1.29h-5.05zM200.3 347.08h5.05v1.29h-5.05zM200.3 348.26h5.05v1.29h-5.05zM200.3 349.43h5.05v1.29h-5.05zM205.2 349.43h5.05v1.29h-5.05zM200.3 350.60h5.05v1.29h-5.05zM205.2 350.60h5.05v1.29h-5.05zM195.4 351.78h5.05v1.29h-5.05zM195.4 352.95h5.05v1.29h-5.05zM200.3 352.95h5.05v1.29h-5.05zM200.3 354.13h5.05v1.29h-5.05zM195.4 356.30h5.05v1.30h-5.05zM200.3 356.30h5.05v1.30h-5.05zM200.3 357.48h5.05v1.30h-5.05zM211.8 357.48h4.88v1.30h-4.88zM195.4 359.83h5.05v1.30h-5.05zM200.3 359.83h5.05v1.30h-5.05zM195.4 361.01h5.05v1.30h-5.05zM200.3 361.01h5.05v1.30h-5.05zM216.5 362.18h4.88v1.30h-4.88zM195.4 363.36h5.05v1.30h-5.05zM195.4 364.54h5.05v1.30h-5.05zM205.2 364.54h5.05v1.30h-5.05zM195.4 365.71h5.05v1.30h-5.05zM211.8 365.71h4.88v1.30h-4.88zM216.5 365.71h4.88v1.30h-4.88zM200.3 366.89h5.05v1.30h-5.05zM195.4 368.07h5.05v1.30h-5.05zM216.5 368.07h4.88v1.30h-4.88zM221.3 368.07h4.88v1.30h-4.88zM195.4 369.24h5.05v1.30h-5.05zM200.3 369.24h5.05v1.30h-5.05zM216.5 369.24h4.88v1.30h-4.88zM200.3 370.42h5.05v1.30h-5.05zM211.8 370.42h4.88v1.30h-4.88zM195.4 371.60h5.05v1.30h-5.05zM200.3 372.77h5.05v1.30h-5.05zM211.8 372.77h4.88v1.30h-4.88zM205.2 373.95h5.05v1.30h-5.05zM200.3 375.13h5.05v1.30h-5.05zM200.3 376.30h5.05v1.30h-5.05zM216.5 376.30h4.88v1.30h-4.88zM205.2 377.48h5.05v1.30h-5.05zM200.3 378.66h5.05v1.30h-5.05zM211.8 378.66h4.88v1.30h-4.88zM221.3 378.66h4.88v1.30h-4.88zM195.4 379.83h5.05v1.30h-5.05zM195.4 381.01h5.05v1.30h-5.05zM200.3 381.01h5.05v1.30h-5.05zM205.2 381.01h5.05v1.30h-5.05zM211.8 381.01h4.88v1.30h-4.88zM216.5 381.01h4.88v1.30h-4.88zM195.4 383.36h5.05v1.30h-5.05zM200.3 383.36h5.05v1.30h-5.05zM200.3 384.54h5.05v1.30h-5.05zM205.2 384.54h5.05v1.30h-5.05zM216.5 384.54h4.88v1.30h-4.88zM195.4 386.89h5.05v1.30h-5.05zM200.3 386.89h5.05v1.30h-5.05zM195.4 388.07h5.05v1.30h-5.05zM200.3 388.07h5.05v1.30h-5.05zM205.2 388.07h5.05v1.30h-5.05zM195.4 389.24h5.05v1.30h-5.05zM205.2 389.24h5.05v1.30h-5.05zM211.8 389.24h4.88v1.30h-4.88zM200.3 390.42h5.05v1.30h-5.05zM205.2 390.42h5.05v1.30h-5.05zM216.5 390.42h4.88v1.30h-4.88zM221.3 390.42h4.88v1.30h-4.88zM195.4 391.60h5.05v1.30h-5.05zM200.3 392.77h5.05v1.30h-5.05zM195.4 393.95h5.05v1.30h-5.05zM205.2 393.95h5.05v1.30h-5.05zM200.3 395.13h5.05v1.30h-5.05zM205.2 395.13h5.05v1.30h-5.05zM205.2 396.30h5.05v1.30h-5.05zM195.4 397.48h5.05v1.30h-5.05zM200.3 397.48h5.05v1.30h-5.05zM195.4 398.66h5.05v1.30h-5.05zM200.3 398.66h5.05v1.30h-5.05zM205.2 398.66h5.05v1.30h-5.05zM216.5 398.66h4.88v1.30h-4.88zM195.4 399.83h5.05v1.30h-5.05zM205.2 402.19h5.05v1.30h-5.05zM200.3 406.89h5.05v1.30h-5.05zM211.8 406.89h4.88v1.30h-4.88zM200.3 408.07h5.05v1.30h-5.05zM205.2 408.07h5.05v1.30h-5.05zM195.4 409.25h5.05v1.30h-5.05zM200.3 409.25h5.05v1.30h-5.05zM195.4 410.42h5.05v1.30h-5.05zM216.5 410.42h4.88v1.30h-4.88zM205.2 412.80h5.05v1.30h-5.05zM221.3 412.80h4.88v1.30h-4.88zM195.4 413.98h5.05v1.30h-5.05zM205.2 413.98h5.05v1.30h-5.05zM195.4 415.17h5.05v1.30h-5.05zM216.5 415.17h4.88v1.30h-4.88zM200.3 416.35h5.05v1.30h-5.05zM205.2 416.35h5.05v1.30h-5.05zM221.3 416.35h4.88v1.30h-4.88zM195.4 417.54h5.05v1.30h-5.05zM200.3 417.54h5.05v1.30h-5.05zM216.5 417.54h4.88v1.30h-4.88zM195.4 418.72h5.05v1.30h-5.05zM205.2 418.72h5.05v1.30h-5.05zM216.5 418.72h4.88v1.30h-4.88zM195.4 419.91h5.05v1.30h-5.05zM205.2 419.91h5.05v1.30h-5.05zM216.5 419.91h4.88v1.30h-4.88zM195.4 421.09h5.05v1.30h-5.05zM211.8 421.09h4.88v1.30h-4.88zM200.3 422.28h5.05v1.30h-5.05zM195.4 423.46h5.05v1.30h-5.05zM200.3 423.46h5.05v1.30h-5.05zM216.5 423.46h4.88v1.30h-4.88zM200.3 424.64h5.05v1.30h-5.05zM195.4 425.83h5.05v1.30h-5.05zM195.4 427.01h5.05v1.30h-5.05zM200.3 427.01h5.05v1.30h-5.05zM205.2 427.01h5.05v1.30h-5.05zM200.3 428.20h5.05v1.30h-5.05zM195.4 429.38h5.05v1.30h-5.05zM205.2 429.38h5.05v1.30h-5.05zM195.4 430.57h5.05v1.30h-5.05zM205.2 430.57h5.05v1.30h-5.05zM221.3 430.57h4.88v1.30h-4.88zM200.3 431.75h5.05v1.30h-5.05zM205.2 431.75h5.05v1.30h-5.05zM211.8 431.75h4.88v1.30h-4.88zM205.2 432.94h5.05v1.30h-5.05zM195.4 434.12h5.05v1.30h-5.05zM195.4 435.31h5.05v1.30h-5.05zM200.3 435.31h5.05v1.30h-5.05zM205.2 435.31h5.05v1.30h-5.05zM200.3 436.49h5.05v1.30h-5.05zM205.2 436.49h5.05v1.30h-5.05zM211.8 436.49h4.88v1.30h-4.88zM205.2 437.67h5.05v1.30h-5.05zM216.5 437.67h4.88v1.30h-4.88zM195.4 438.86h5.05v1.30h-5.05zM211.8 438.86h4.88v1.30h-4.88zM216.5 438.86h4.88v1.30h-4.88zM205.2 440.04h5.05v1.30h-5.05zM195.4 441.23h5.05v1.30h-5.05zM200.3 441.23h5.05v1.30h-5.05zM195.4 442.41h5.05v1.30h-5.05zM200.3 442.41h5.05v1.30h-5.05zM200.3 443.60h5.05v1.30h-5.05zM205.2 443.60h5.05v1.30h-5.05zM211.8 444.78h4.88v1.30h-4.88zM227.2 444.78h4.95v1.30h-4.95zM195.4 447.15h5.05v1.30h-5.05zM211.8 447.15h4.88v1.30h-4.88zM195.4 448.33h5.05v1.30h-5.05zM205.2 448.33h5.05v1.30h-5.05zM195.4 449.52h5.05v1.30h-5.05zM200.3 449.52h5.05v1.30h-5.05zM205.2 449.52h5.05v1.30h-5.05zM195.4 450.70h5.05v1.30h-5.05zM200.3 451.89h5.05v1.30h-5.05zM211.8 451.89h4.88v1.30h-4.88zM211.8 453.07h4.88v1.30h-4.88zM232.0 453.07h4.95v1.30h-4.95zM195.4 454.26h5.05v1.30h-5.05zM200.3 454.26h5.05v1.30h-5.05zM195.4 455.44h5.05v1.30h-5.05zM200.3 455.44h5.05v1.30h-5.05zM195.4 457.81h5.05v1.30h-5.05zM205.2 457.81h5.05v1.30h-5.05zM200.3 458.99h5.05v1.30h-5.05zM205.2 458.99h5.05v1.30h-5.05zM195.4 460.18h5.05v1.30h-5.05zM200.3 460.18h5.05v1.30h-5.05zM200.3 461.36h5.05v1.30h-5.05zM205.2 461.36h5.05v1.30h-5.05zM211.8 463.73h4.88v1.30h-4.88zM195.4 464.92h5.05v1.30h-5.05zM200.3 464.92h5.05v1.30h-5.05zM205.2 464.92h5.05v1.30h-5.05zM195.4 466.10h5.05v1.30h-5.05zM200.3 466.10h5.05v1.30h-5.05zM200.3 467.29h5.05v1.30h-5.05zM205.2 467.29h5.05v1.30h-5.05zM195.4 468.47h5.05v1.30h-5.05zM195.4 469.66h5.05v1.30h-5.05zM200.3 469.66h5.05v1.30h-5.05zM195.4 470.84h5.05v1.30h-5.05zM200.3 470.84h5.05v1.30h-5.05zM205.2 470.84h5.05v1.30h-5.05zM205.2 472.02h5.05v1.30h-5.05zM195.4 473.21h5.05v1.30h-5.05zM205.2 473.21h5.05v1.30h-5.05zM195.4 474.39h5.05v1.30h-5.05zM200.3 474.39h5.05v1.30h-5.05zM200.3 475.58h5.05v1.30h-5.05zM200.3 476.76h5.05v1.30h-5.05zM195.4 477.95h5.05v1.30h-5.05zM200.3 477.95h5.05v1.30h-5.05zM200.3 479.13h5.05v1.30h-5.05zM195.4 480.32h5.05v1.30h-5.05zM205.2 480.32h5.05v1.30h-5.05z" fill="#ec201e"/>
<defs><linearGradient id="dgG" x1="0" y1="0" x2="1" y2="0"><stop offset="0" stop-color="#d8d8d8"/><stop offset="0.3" stop-color="#9a9a9a"/><stop offset="0.6" stop-color="#555"/><stop offset="0.78" stop-color="#0a0a0a"/><stop offset="1" stop-color="#000"/></linearGradient></defs>
<rect x="188.40" y="306.00" width="7.00" height="175.50" fill="url(#dgG)" stroke="none" stroke-width="0"/>
<path d="M194 306.0h-3.0M191.0 306.0v3.4M194 306.8h-4.8M194 308.1h-4.0M190.0 308.1v3.6M194 309.4h-2.0M192.0 309.4v4.0M194 310.7h-3.6M190.4 310.7v1.6M194 311.6h-5.4M188.6 311.6v3.5M194 312.6h-5.4M188.6 312.6v1.7M194 313.7h-4.0M190.0 313.7v3.2M194 315.0h-3.6M190.4 315.0v1.7M194 316.1h-2.0M194 317.0h-4.0M190.0 317.0v2.9M194 318.0h-5.4M194 319.2h-5.4M188.6 319.2v1.6M194 320.5h-3.0M194 321.8h-4.2M189.8 321.8v2.1M194 323.0h-5.4M188.6 323.0v1.5M194 324.2h-4.0M194 325.6h-4.2M189.8 325.6v2.2M194 327.0h-5.4M194 327.7h-4.2M189.8 327.7v2.3M194 328.8h-3.0M194 329.7h-5.4M188.6 329.7v3.1M194 330.5h-4.8M194 331.7h-3.6M190.4 331.7v1.3M194 333.1h-3.6M190.4 333.1v1.1M194 334.4h-4.0M190.0 334.4v1.1M194 335.2h-3.6M190.4 335.2v1.4M194 336.2h-2.0M194 336.9h-3.6M194 337.8h-4.2M189.8 337.8v2.8M194 338.8h-4.0M194 340.2h-4.8M194 341.1h-4.2M189.8 341.1v2.8M194 342.3h-4.8M189.2 342.3v1.9M194 343.5h-4.0M190.0 343.5v1.6M194 344.5h-2.0M192.0 344.5v3.7M194 345.6h-5.4M188.6 345.6v3.1M194 346.5h-4.8M194 347.6h-4.8M194 348.4h-4.2M194 349.2h-3.6M190.4 349.2v3.3M194 350.5h-4.0M190.0 350.5v1.9M194 351.5h-5.4M188.6 351.5v2.0M194 352.3h-3.0M191.0 352.3v2.9M194 353.4h-2.0M192.0 353.4v2.7M194 354.7h-4.0M190.0 354.7v2.3M194 355.8h-2.0M192.0 355.8v3.8M194 357.0h-3.6M194 358.1h-3.0M191.0 358.1v2.6M194 359.2h-5.4M188.6 359.2v3.2M194 360.2h-4.8M194 361.2h-4.0M194 362.2h-2.0M192.0 362.2v1.4M194 363.4h-3.0M191.0 363.4v3.8M194 364.5h-4.0M194 365.5h-4.0M190.0 365.5v3.9M194 366.8h-4.0M194 368.0h-2.0M194 368.8h-5.4M194 369.9h-3.6M194 371.2h-4.8M194 372.0h-2.0M192.0 372.0v4.0M194 372.7h-2.0M194 374.1h-2.0M194 375.5h-4.0M190.0 375.5v2.0M194 376.5h-4.2M189.8 376.5v1.4M194 377.4h-4.8M189.2 377.4v3.1M194 378.5h-3.6M190.4 378.5v1.8M194 379.7h-4.8M189.2 379.7v3.5M194 380.7h-3.0M194 382.0h-2.0M192.0 382.0v1.2M194 383.3h-2.0M192.0 383.3v2.1M194 384.3h-2.0M192.0 384.3v1.9M194 385.7h-5.4M188.6 385.7v3.8M194 387.0h-2.0M192.0 387.0v1.2M194 388.4h-3.0M194 389.6h-4.2M189.8 389.6v1.6M194 390.8h-2.0M194 391.9h-4.8M194 393.0h-3.0M194 394.1h-3.0M191.0 394.1v3.7M194 395.2h-3.0M191.0 395.2v3.9M194 396.2h-4.2M194 397.0h-4.8M189.2 397.0v3.7M194 398.1h-4.8M189.2 398.1v1.9M194 398.9h-2.0M192.0 398.9v1.1M194 400.3h-5.4M188.6 400.3v2.2M194 401.4h-2.0M192.0 401.4v3.0M194 402.7h-4.0M190.0 402.7v1.2M194 403.8h-5.4M188.6 403.8v3.8M194 404.6h-4.0M194 405.8h-4.8M189.2 405.8v2.4M194 407.1h-4.8M189.2 407.1v3.1M194 408.0h-2.0M194 408.9h-2.0M194 410.0h-4.0M190.0 410.0v1.4M194 410.9h-3.0M191.0 410.9v1.2M194 412.1h-2.0M192.0 412.1v3.7M194 413.3h-4.0M190.0 413.3v2.3M194 414.1h-4.0M190.0 414.1v3.4M194 415.4h-4.2M189.8 415.4v3.5M194 416.4h-3.0M191.0 416.4v3.1M194 417.2h-5.4M188.6 417.2v1.5M194 418.0h-5.4M188.6 418.0v2.5M194 418.9h-4.8M189.2 418.9v1.7M194 419.8h-3.0M194 420.9h-2.0M192.0 420.9v1.6M194 421.7h-5.4M194 422.7h-4.2M189.8 422.7v3.6M194 424.0h-4.2M189.8 424.0v3.2M194 424.8h-3.0M194 425.5h-4.8M189.2 425.5v3.8M194 426.8h-2.0M194 428.1h-2.0M192.0 428.1v2.9M194 428.8h-2.0M192.0 428.8v3.7M194 430.1h-4.0M190.0 430.1v3.5M194 431.2h-3.0M191.0 431.2v3.2M194 432.5h-4.8M189.2 432.5v4.0M194 433.4h-3.0M191.0 433.4v3.7M194 434.5h-3.0M194 435.6h-2.0M192.0 435.6v2.5M194 436.9h-4.0M190.0 436.9v3.9M194 438.1h-4.2M189.8 438.1v3.4M194 439.0h-4.8M189.2 439.0v3.1M194 440.2h-2.0M192.0 440.2v2.3M194 441.2h-3.0M191.0 441.2v2.2M194 442.1h-2.0M194 443.3h-2.0M194 444.2h-5.4M194 445.2h-2.0M192.0 445.2v2.6M194 446.0h-2.0M194 447.0h-5.4M188.6 447.0v2.4M194 448.1h-3.0M191.0 448.1v3.1M194 449.2h-4.0M190.0 449.2v1.0M194 450.6h-2.0M194 451.8h-2.0M194 452.9h-5.4M194 454.0h-5.4M194 454.7h-5.4M188.6 454.7v3.6M194 456.0h-5.4M188.6 456.0v1.3M194 457.0h-4.8M189.2 457.0v1.0M194 458.2h-5.4M194 459.5h-3.6M190.4 459.5v1.0M194 460.5h-4.2M189.8 460.5v3.9M194 461.8h-4.0M190.0 461.8v1.8M194 462.5h-4.8M194 463.7h-3.0M194 464.9h-4.2M189.8 464.9v3.3M194 466.2h-4.0M194 467.4h-4.0M194 468.3h-4.2M194 469.5h-2.0M194 470.3h-4.8M189.2 470.3v3.5M194 471.1h-2.0M192.0 471.1v3.0M194 471.8h-3.6M190.4 471.8v1.4M194 472.9h-3.0M194 474.1h-5.4M188.6 474.1v3.8M194 475.5h-2.0M192.0 475.5v1.3M194 476.4h-4.0M194 477.5h-3.6M194 478.7h-4.8M194 480.0h-2.0M194 481.1h-4.0M190.0 481.1v0.4" stroke="#1a1a1a" stroke-width="0.5" fill="none"/>
<path d="M188.4 306.5h1.5M188.4 307.3h1.8M188.4 309.9h3.9M188.4 315.5h3.8M188.4 316.6h3.0M188.4 321.0h3.5M188.4 322.3h1.9M188.4 326.1h1.7M188.4 327.5h3.8M188.4 330.2h2.6M188.4 332.2h3.9M188.4 333.6h2.8M188.4 339.3h3.2M188.4 348.1h3.1M188.4 351.0h3.5M188.4 352.0h3.8M188.4 356.3h3.1M188.4 357.5h3.3M188.4 358.6h3.8M188.4 361.7h1.6M188.4 363.9h2.5M188.4 372.5h1.9M188.4 373.2h3.4M188.4 374.6h2.9M188.4 377.9h1.8M188.4 379.0h3.5M188.4 381.2h3.7M188.4 386.2h3.4M188.4 388.9h3.5M188.4 390.1h2.7M188.4 394.6h3.4M188.4 395.7h3.5M188.4 396.7h3.0M188.4 399.4h1.5M188.4 405.1h3.6M188.4 410.5h3.3M188.4 412.6h3.8M188.4 413.8h2.7M188.4 415.9h3.4M188.4 416.9h2.3M188.4 418.5h4.0M188.4 419.4h3.1M188.4 424.5h2.4M188.4 429.3h1.7M188.4 437.4h2.4M188.4 442.6h2.9M188.4 445.7h3.4M188.4 447.5h2.7M188.4 448.6h3.1M188.4 452.3h3.1M188.4 453.4h3.9M188.4 455.2h1.7M188.4 458.7h3.8M188.4 463.0h3.0M188.4 466.7h3.0M188.4 467.9h3.5M188.4 471.6h2.9M188.4 473.4h2.8" stroke="#fff" stroke-width="0.5" fill="none" opacity="0.8"/>
<rect x="188.30" y="355.40" width="70.00" height="0.90" fill="#fff" stroke="none" stroke-width="0"/>
<rect x="188.30" y="411.70" width="70.00" height="1.00" fill="#fff" stroke="none" stroke-width="0"/>
<text x="182.3" y="396" font-size="9.3" text-anchor="middle" font-weight="normal" fill="#1a1a1a" stroke="#1a1a1a" stroke-width="0.2" transform="rotate(-90 182.3 396)">Combo repressed (825)</text>
<text x="208.3" y="487" font-size="8.6" text-anchor="end" font-weight="normal" fill="#1a1a1a" stroke="#1a1a1a" stroke-width="0.2" transform="rotate(-50 208.3 487)">Veh</text>
<text x="222.8" y="487" font-size="8.6" text-anchor="end" font-weight="normal" fill="#1a1a1a" stroke="#1a1a1a" stroke-width="0.2" transform="rotate(-50 222.8 487)">ORY</text>
<text x="237.8" y="487" font-size="8.6" text-anchor="end" font-weight="normal" fill="#1a1a1a" stroke="#1a1a1a" stroke-width="0.2" transform="rotate(-50 237.8 487)">i-BET</text>
<text x="253.3" y="487" font-size="8.6" text-anchor="end" font-weight="normal" fill="#1a1a1a" stroke="#1a1a1a" stroke-width="0.2" transform="rotate(-50 253.3 487)">Combo</text>
<defs><linearGradient id="cbG" x1="0" y1="0" x2="0" y2="1"><stop offset="0" stop-color="#ec201e"/><stop offset="0.5" stop-color="#ffffff"/><stop offset="1" stop-color="#2c3aa6"/></linearGradient></defs>
<rect x="260.70" y="392.00" width="4.50" height="24.50" fill="url(#cbG)" stroke="none" stroke-width="0"/>
<text x="266.6" y="395.5" font-size="5.6" text-anchor="start" font-weight="bold" fill="#222">1</text>
<text x="266.6" y="401.2" font-size="5.6" text-anchor="start" font-weight="bold" fill="#222">0.5</text>
<text x="266.6" y="406.9" font-size="5.6" text-anchor="start" font-weight="bold" fill="#222">0</text>
<text x="266.6" y="413.0" font-size="5.6" text-anchor="start" font-weight="bold" fill="#222">−0.5</text>
<text x="266.6" y="418.2" font-size="5.6" text-anchor="start" font-weight="bold" fill="#222">−1</text>
</g>
<g id="pH">
<text x="296.4" y="314" font-size="12.6" text-anchor="start" font-weight="bold" fill="#000">H</text>
<path d="M309.6 349.5V430.8H389.4" fill="none" stroke="#cfcfcf" stroke-width="0.8"/>
<text x="307.2" y="362.9" font-size="7.2" text-anchor="end" font-weight="normal" fill="#222" stroke="#222" stroke-width="0.2">2</text>
<text x="307.2" y="392.7" font-size="7.2" text-anchor="end" font-weight="normal" fill="#222" stroke="#222" stroke-width="0.2">0</text>
<text x="307.2" y="423.5" font-size="7.2" text-anchor="end" font-weight="normal" fill="#222" stroke="#222" stroke-width="0.2">−2</text>
<text x="351.2" y="328.8" font-size="9.4" text-anchor="middle" font-weight="normal" fill="#1a1a1a" stroke="#1a1a1a" stroke-width="0.2">MYC_Targets_v2</text>
<text x="342.8" y="341.2" font-size="7.45" text-anchor="start" font-weight="normal" fill="#222" stroke="#222" stroke-width="0.2"><tspan font-style="italic">P</tspan> = 7.4 × 10<tspan font-size="5.0" dy="-2.8">−9</tspan></text>
<line x1="344.50" y1="343.20" x2="380.00" y2="343.20" stroke="#444" stroke-width="0.6"/>
<text x="352.8" y="350.2" font-size="7.45" text-anchor="start" font-weight="normal" fill="#222" stroke="#222" stroke-width="0.2"><tspan font-style="italic">P</tspan> = 2.7 × 10<tspan font-size="5.0" dy="-2.8">−5</tspan></text>
<line x1="358.20" y1="353.30" x2="381.20" y2="353.30" stroke="#444" stroke-width="0.6"/>
<path d="M321.30 354.40C321.40 355.00 321.65 356.73 321.90 358.00C322.15 359.27 322.32 360.67 322.80 362.00C323.28 363.33 323.97 364.67 324.80 366.00C325.63 367.33 327.05 368.75 327.80 370.00C328.55 371.25 329.00 372.42 329.30 373.50C329.60 374.58 329.67 375.42 329.60 376.50C329.53 377.58 329.37 378.58 328.90 380.00C328.43 381.42 327.48 383.33 326.80 385.00C326.12 386.67 325.37 388.50 324.80 390.00C324.23 391.50 323.75 392.67 323.40 394.00C323.05 395.33 322.85 395.33 322.70 398.00C322.55 400.67 322.60 406.33 322.50 410.00C322.40 413.67 322.30 417.40 322.10 420.00C321.90 422.60 321.43 424.67 321.30 425.60L321.10 425.60C320.97 424.67 320.50 422.60 320.30 420.00C320.10 417.40 320.00 413.67 319.90 410.00C319.80 406.33 319.85 400.67 319.70 398.00C319.55 395.33 319.35 395.33 319.00 394.00C318.65 392.67 318.17 391.50 317.60 390.00C317.03 388.50 316.28 386.67 315.60 385.00C314.92 383.33 313.97 381.42 313.50 380.00C313.03 378.58 312.87 377.58 312.80 376.50C312.73 375.42 312.80 374.58 313.10 373.50C313.40 372.42 313.85 371.25 314.60 370.00C315.35 368.75 316.77 367.33 317.60 366.00C318.43 364.67 319.12 363.33 319.60 362.00C320.08 360.67 320.25 359.27 320.50 358.00C320.75 356.73 321.00 355.00 321.10 354.40Z" fill="#747474"/>
<line x1="321.20" y1="356.40" x2="321.20" y2="423.60" stroke="#747474" stroke-width="0.5" stroke-opacity="0.6"/>
<rect x="319.30" y="374.60" width="3.80" height="17.70" fill="#fff" stroke="none" stroke-width="0"/>
<line x1="319.30" y1="379.00" x2="323.10" y2="379.00" stroke="#747474" stroke-width="0.5"/>
<path d="M340.50 357.30C340.62 358.08 340.85 360.38 341.20 362.00C341.55 363.62 342.00 365.33 342.60 367.00C343.20 368.67 344.07 370.33 344.80 372.00C345.53 373.67 346.48 375.45 347.00 377.00C347.52 378.55 347.83 379.80 347.90 381.30C347.97 382.80 347.68 384.38 347.40 386.00C347.12 387.62 346.67 389.17 346.20 391.00C345.73 392.83 345.10 395.00 344.60 397.00C344.10 399.00 343.63 401.00 343.20 403.00C342.77 405.00 342.33 407.17 342.00 409.00C341.67 410.83 341.45 412.37 341.20 414.00C340.95 415.63 340.62 418.00 340.50 418.80L340.30 418.80C340.18 418.00 339.85 415.63 339.60 414.00C339.35 412.37 339.13 410.83 338.80 409.00C338.47 407.17 338.03 405.00 337.60 403.00C337.17 401.00 336.70 399.00 336.20 397.00C335.70 395.00 335.07 392.83 334.60 391.00C334.13 389.17 333.68 387.62 333.40 386.00C333.12 384.38 332.83 382.80 332.90 381.30C332.97 379.80 333.28 378.55 333.80 377.00C334.32 375.45 335.27 373.67 336.00 372.00C336.73 370.33 337.60 368.67 338.20 367.00C338.80 365.33 339.25 363.62 339.60 362.00C339.95 360.38 340.18 358.08 340.30 357.30Z" fill="#f39a1e"/>
<line x1="340.40" y1="359.30" x2="340.40" y2="416.80" stroke="#f39a1e" stroke-width="0.5" stroke-opacity="0.6"/>
<rect x="338.50" y="380.00" width="3.80" height="13.50" fill="#fff" stroke="none" stroke-width="0"/>
<line x1="338.50" y1="386.20" x2="342.30" y2="386.20" stroke="#f39a1e" stroke-width="0.5"/>
<path d="M360.10 356.30C360.20 357.25 360.43 360.05 360.70 362.00C360.97 363.95 361.25 366.00 361.70 368.00C362.15 370.00 362.75 372.00 363.40 374.00C364.05 376.00 365.02 378.17 365.60 380.00C366.18 381.83 366.63 383.58 366.90 385.00C367.17 386.42 367.23 387.17 367.20 388.50C367.17 389.83 367.00 391.42 366.70 393.00C366.40 394.58 365.92 396.17 365.40 398.00C364.88 399.83 364.17 402.00 363.60 404.00C363.03 406.00 362.45 408.17 362.00 410.00C361.55 411.83 361.22 413.37 360.90 415.00C360.58 416.63 360.23 419.00 360.10 419.80L359.90 419.80C359.77 419.00 359.42 416.63 359.10 415.00C358.78 413.37 358.45 411.83 358.00 410.00C357.55 408.17 356.97 406.00 356.40 404.00C355.83 402.00 355.12 399.83 354.60 398.00C354.08 396.17 353.60 394.58 353.30 393.00C353.00 391.42 352.83 389.83 352.80 388.50C352.77 387.17 352.83 386.42 353.10 385.00C353.37 383.58 353.82 381.83 354.40 380.00C354.98 378.17 355.95 376.00 356.60 374.00C357.25 372.00 357.85 370.00 358.30 368.00C358.75 366.00 359.03 363.95 359.30 362.00C359.57 360.05 359.80 357.25 359.90 356.30Z" fill="#7e9636"/>
<line x1="360.00" y1="358.30" x2="360.00" y2="417.80" stroke="#7e9636" stroke-width="0.5" stroke-opacity="0.6"/>
<rect x="358.10" y="383.80" width="3.80" height="14.90" fill="#fff" stroke="none" stroke-width="0"/>
<line x1="358.10" y1="390.00" x2="361.90" y2="390.00" stroke="#7e9636" stroke-width="0.5"/>
<path d="M379.30 356.30C379.43 357.25 379.90 359.72 380.10 362.00C380.30 364.28 380.40 367.33 380.50 370.00C380.60 372.67 380.58 375.50 380.70 378.00C380.82 380.50 380.92 382.83 381.20 385.00C381.48 387.17 381.90 389.17 382.40 391.00C382.90 392.83 383.47 394.33 384.20 396.00C384.93 397.67 386.03 399.50 386.80 401.00C387.57 402.50 388.40 403.83 388.80 405.00C389.20 406.17 389.30 407.00 389.20 408.00C389.10 409.00 388.77 410.00 388.20 411.00C387.63 412.00 386.63 413.00 385.80 414.00C384.97 415.00 383.97 416.00 383.20 417.00C382.43 418.00 381.85 418.73 381.20 420.00C380.55 421.27 379.62 423.83 379.30 424.60L379.10 424.60C378.78 423.83 377.85 421.27 377.20 420.00C376.55 418.73 375.97 418.00 375.20 417.00C374.43 416.00 373.43 415.00 372.60 414.00C371.77 413.00 370.77 412.00 370.20 411.00C369.63 410.00 369.30 409.00 369.20 408.00C369.10 407.00 369.20 406.17 369.60 405.00C370.00 403.83 370.83 402.50 371.60 401.00C372.37 399.50 373.47 397.67 374.20 396.00C374.93 394.33 375.50 392.83 376.00 391.00C376.50 389.17 376.92 387.17 377.20 385.00C377.48 382.83 377.58 380.50 377.70 378.00C377.82 375.50 377.80 372.67 377.90 370.00C378.00 367.33 378.10 364.28 378.30 362.00C378.50 359.72 378.97 357.25 379.10 356.30Z" fill="#17608a"/>
<line x1="379.20" y1="358.30" x2="379.20" y2="422.60" stroke="#17608a" stroke-width="0.5" stroke-opacity="0.6"/>
<rect x="377.30" y="395.80" width="3.80" height="14.40" fill="#fff" stroke="none" stroke-width="0"/>
<line x1="377.30" y1="406.30" x2="381.10" y2="406.30" stroke="#17608a" stroke-width="0.5"/>
<path d="M425.4 349.5V430.4H502.7" fill="none" stroke="#cfcfcf" stroke-width="0.8"/>
<text x="423.4" y="360.4" font-size="7.2" text-anchor="end" font-weight="normal" fill="#222" stroke="#222" stroke-width="0.2">2</text>
<text x="423.4" y="393.2" font-size="7.2" text-anchor="end" font-weight="normal" fill="#222" stroke="#222" stroke-width="0.2">0</text>
<text x="423.4" y="425.0" font-size="7.2" text-anchor="end" font-weight="normal" fill="#222" stroke="#222" stroke-width="0.2">−2</text>
<text x="467.8" y="328.8" font-size="9.4" text-anchor="middle" font-weight="normal" fill="#1a1a1a" stroke="#1a1a1a" stroke-width="0.2">FOXA1_Targets</text>
<text x="457.7" y="339.2" font-size="7.45" text-anchor="start" font-weight="normal" fill="#222" stroke="#222" stroke-width="0.2"><tspan font-style="italic">P</tspan> = 5.7 × 10<tspan font-size="5.0" dy="-2.8">−6</tspan></text>
<line x1="459.50" y1="341.50" x2="497.00" y2="341.50" stroke="#444" stroke-width="0.6"/>
<text x="469.2" y="349.0" font-size="7.45" text-anchor="start" font-weight="normal" fill="#222" stroke="#222" stroke-width="0.2"><tspan font-style="italic">P</tspan> = 7 × 10<tspan font-size="5.0" dy="-2.8">−11</tspan></text>
<line x1="474.30" y1="351.30" x2="499.20" y2="351.30" stroke="#444" stroke-width="0.6"/>
<path d="M437.50 353.50C437.62 354.08 437.88 355.92 438.20 357.00C438.52 358.08 438.70 359.00 439.40 360.00C440.10 361.00 441.33 362.00 442.40 363.00C443.47 364.00 444.97 364.83 445.80 366.00C446.63 367.17 447.20 368.67 447.40 370.00C447.60 371.33 447.40 372.50 447.00 374.00C446.60 375.50 445.73 377.17 445.00 379.00C444.27 380.83 443.30 383.00 442.60 385.00C441.90 387.00 441.28 389.17 440.80 391.00C440.32 392.83 440.00 393.83 439.70 396.00C439.40 398.17 439.22 401.33 439.00 404.00C438.78 406.67 438.65 409.33 438.40 412.00C438.15 414.67 437.65 418.67 437.50 420.00L437.30 420.00C437.15 418.67 436.65 414.67 436.40 412.00C436.15 409.33 436.02 406.67 435.80 404.00C435.58 401.33 435.40 398.17 435.10 396.00C434.80 393.83 434.48 392.83 434.00 391.00C433.52 389.17 432.90 387.00 432.20 385.00C431.50 383.00 430.53 380.83 429.80 379.00C429.07 377.17 428.20 375.50 427.80 374.00C427.40 372.50 427.20 371.33 427.40 370.00C427.60 368.67 428.17 367.17 429.00 366.00C429.83 364.83 431.33 364.00 432.40 363.00C433.47 362.00 434.70 361.00 435.40 360.00C436.10 359.00 436.28 358.08 436.60 357.00C436.92 355.92 437.18 354.08 437.30 353.50Z" fill="#747474"/>
<line x1="437.40" y1="355.50" x2="437.40" y2="418.00" stroke="#747474" stroke-width="0.5" stroke-opacity="0.6"/>
<rect x="435.50" y="368.80" width="3.80" height="23.50" fill="#fff" stroke="none" stroke-width="0"/>
<line x1="435.50" y1="377.30" x2="439.30" y2="377.30" stroke="#747474" stroke-width="0.5"/>
<path d="M456.60 361.20C456.78 361.83 457.12 363.70 457.70 365.00C458.28 366.30 459.33 367.67 460.10 369.00C460.87 370.33 461.83 371.50 462.30 373.00C462.77 374.50 462.82 376.00 462.90 378.00C462.98 380.00 462.77 382.67 462.80 385.00C462.83 387.33 462.93 389.83 463.10 392.00C463.27 394.17 463.65 396.33 463.80 398.00C463.95 399.67 464.08 400.67 464.00 402.00C463.92 403.33 463.72 404.67 463.30 406.00C462.88 407.33 462.17 408.50 461.50 410.00C460.83 411.50 459.93 413.33 459.30 415.00C458.67 416.67 458.15 418.20 457.70 420.00C457.25 421.80 456.78 424.83 456.60 425.80L456.40 425.80C456.22 424.83 455.75 421.80 455.30 420.00C454.85 418.20 454.33 416.67 453.70 415.00C453.07 413.33 452.17 411.50 451.50 410.00C450.83 408.50 450.12 407.33 449.70 406.00C449.28 404.67 449.08 403.33 449.00 402.00C448.92 400.67 449.05 399.67 449.20 398.00C449.35 396.33 449.73 394.17 449.90 392.00C450.07 389.83 450.17 387.33 450.20 385.00C450.23 382.67 450.02 380.00 450.10 378.00C450.18 376.00 450.23 374.50 450.70 373.00C451.17 371.50 452.13 370.33 452.90 369.00C453.67 367.67 454.72 366.30 455.30 365.00C455.88 363.70 456.22 361.83 456.40 361.20Z" fill="#f39a1e"/>
<line x1="456.50" y1="363.20" x2="456.50" y2="423.80" stroke="#f39a1e" stroke-width="0.5" stroke-opacity="0.6"/>
<rect x="454.60" y="380.80" width="3.80" height="21.90" fill="#fff" stroke="none" stroke-width="0"/>
<line x1="454.60" y1="392.30" x2="458.40" y2="392.30" stroke="#f39a1e" stroke-width="0.5"/>
<path d="M475.80 355.40C475.93 356.33 476.22 359.07 476.60 361.00C476.98 362.93 477.52 365.00 478.10 367.00C478.68 369.00 479.47 371.00 480.10 373.00C480.73 375.00 481.37 377.00 481.90 379.00C482.43 381.00 482.88 383.00 483.30 385.00C483.72 387.00 484.17 389.33 484.40 391.00C484.63 392.67 484.75 393.67 484.70 395.00C484.65 396.33 484.50 397.50 484.10 399.00C483.70 400.50 483.03 402.17 482.30 404.00C481.57 405.83 480.48 408.00 479.70 410.00C478.92 412.00 478.15 414.17 477.60 416.00C477.05 417.83 476.70 419.57 476.40 421.00C476.10 422.43 475.90 424.00 475.80 424.60L475.60 424.60C475.50 424.00 475.30 422.43 475.00 421.00C474.70 419.57 474.35 417.83 473.80 416.00C473.25 414.17 472.48 412.00 471.70 410.00C470.92 408.00 469.83 405.83 469.10 404.00C468.37 402.17 467.70 400.50 467.30 399.00C466.90 397.50 466.75 396.33 466.70 395.00C466.65 393.67 466.77 392.67 467.00 391.00C467.23 389.33 467.68 387.00 468.10 385.00C468.52 383.00 468.97 381.00 469.50 379.00C470.03 377.00 470.67 375.00 471.30 373.00C471.93 371.00 472.72 369.00 473.30 367.00C473.88 365.00 474.42 362.93 474.80 361.00C475.18 359.07 475.47 356.33 475.60 355.40Z" fill="#7e9636"/>
<line x1="475.70" y1="357.40" x2="475.70" y2="422.60" stroke="#7e9636" stroke-width="0.5" stroke-opacity="0.6"/>
<rect x="473.80" y="382.00" width="3.80" height="16.00" fill="#fff" stroke="none" stroke-width="0"/>
<line x1="473.80" y1="390.00" x2="477.60" y2="390.00" stroke="#7e9636" stroke-width="0.5"/>
<path d="M494.70 355.40C494.92 356.00 495.52 357.73 496.00 359.00C496.48 360.27 497.17 361.50 497.60 363.00C498.03 364.50 498.40 366.17 498.60 368.00C498.80 369.83 498.70 372.00 498.80 374.00C498.90 376.00 498.97 378.00 499.20 380.00C499.43 382.00 499.80 384.00 500.20 386.00C500.60 388.00 501.13 390.00 501.60 392.00C502.07 394.00 502.57 396.00 503.00 398.00C503.43 400.00 503.93 402.25 504.20 404.00C504.47 405.75 504.70 407.17 504.60 408.50C504.50 409.83 504.17 410.92 503.60 412.00C503.03 413.08 502.10 414.00 501.20 415.00C500.30 416.00 499.28 416.78 498.20 418.00C497.12 419.22 495.28 421.58 494.70 422.30L494.50 422.30C493.92 421.58 492.08 419.22 491.00 418.00C489.92 416.78 488.90 416.00 488.00 415.00C487.10 414.00 486.17 413.08 485.60 412.00C485.03 410.92 484.70 409.83 484.60 408.50C484.50 407.17 484.73 405.75 485.00 404.00C485.27 402.25 485.77 400.00 486.20 398.00C486.63 396.00 487.13 394.00 487.60 392.00C488.07 390.00 488.60 388.00 489.00 386.00C489.40 384.00 489.77 382.00 490.00 380.00C490.23 378.00 490.30 376.00 490.40 374.00C490.50 372.00 490.40 369.83 490.60 368.00C490.80 366.17 491.17 364.50 491.60 363.00C492.03 361.50 492.72 360.27 493.20 359.00C493.68 357.73 494.28 356.00 494.50 355.40Z" fill="#17608a"/>
<line x1="494.60" y1="357.40" x2="494.60" y2="420.30" stroke="#17608a" stroke-width="0.5" stroke-opacity="0.6"/>
<rect x="492.70" y="388.90" width="3.80" height="19.60" fill="#fff" stroke="none" stroke-width="0"/>
<line x1="492.70" y1="400.90" x2="496.50" y2="400.90" stroke="#17608a" stroke-width="0.5"/>
<path d="M312.5 482.5V560H391" fill="none" stroke="#cfcfcf" stroke-width="0.8"/>
<text x="310.4" y="492.7" font-size="7.2" text-anchor="end" font-weight="normal" fill="#222" stroke="#222" stroke-width="0.2">2</text>
<text x="310.4" y="508.9" font-size="7.2" text-anchor="end" font-weight="normal" fill="#222" stroke="#222" stroke-width="0.2">1</text>
<text x="310.4" y="525.7" font-size="7.2" text-anchor="end" font-weight="normal" fill="#222" stroke="#222" stroke-width="0.2">0</text>
<text x="310.4" y="540.2" font-size="7.2" text-anchor="end" font-weight="normal" fill="#222" stroke="#222" stroke-width="0.2">−1</text>
<text x="310.4" y="555.9000000000001" font-size="7.2" text-anchor="end" font-weight="normal" fill="#222" stroke="#222" stroke-width="0.2">−2</text>
<text x="351.6" y="458" font-size="9.4" text-anchor="middle" font-weight="normal" fill="#1a1a1a" stroke="#1a1a1a" stroke-width="0.2">AR-V7_Targets</text>
<text x="345.5" y="472.5" font-size="7.45" text-anchor="start" font-weight="normal" fill="#222" stroke="#222" stroke-width="0.2"><tspan font-style="italic">P</tspan> = 0.0028</text>
<line x1="345.50" y1="474.40" x2="383.80" y2="474.40" stroke="#444" stroke-width="0.6"/>
<text x="352.5" y="481.3" font-size="7.45" text-anchor="start" font-weight="normal" fill="#222" stroke="#222" stroke-width="0.2"><tspan font-style="italic">P</tspan> = 5.9 × 10<tspan font-size="5.0" dy="-2.8">−4</tspan></text>
<line x1="358.80" y1="483.30" x2="380.00" y2="483.30" stroke="#444" stroke-width="0.6"/>
<path d="M324.60 485.00C324.73 485.67 325.02 487.67 325.40 489.00C325.78 490.33 326.12 491.67 326.90 493.00C327.68 494.33 329.07 495.67 330.10 497.00C331.13 498.33 332.47 499.67 333.10 501.00C333.73 502.33 333.83 503.67 333.90 505.00C333.97 506.33 333.83 507.50 333.50 509.00C333.17 510.50 332.50 512.17 331.90 514.00C331.30 515.83 330.53 518.00 329.90 520.00C329.27 522.00 328.50 524.17 328.10 526.00C327.70 527.83 327.50 529.33 327.50 531.00C327.50 532.67 327.93 534.50 328.10 536.00C328.27 537.50 328.60 538.50 328.50 540.00C328.40 541.50 327.90 543.33 327.50 545.00C327.10 546.67 326.58 547.92 326.10 550.00C325.62 552.08 324.85 556.25 324.60 557.50L324.40 557.50C324.15 556.25 323.38 552.08 322.90 550.00C322.42 547.92 321.90 546.67 321.50 545.00C321.10 543.33 320.60 541.50 320.50 540.00C320.40 538.50 320.73 537.50 320.90 536.00C321.07 534.50 321.50 532.67 321.50 531.00C321.50 529.33 321.30 527.83 320.90 526.00C320.50 524.17 319.73 522.00 319.10 520.00C318.47 518.00 317.70 515.83 317.10 514.00C316.50 512.17 315.83 510.50 315.50 509.00C315.17 507.50 315.03 506.33 315.10 505.00C315.17 503.67 315.27 502.33 315.90 501.00C316.53 499.67 317.87 498.33 318.90 497.00C319.93 495.67 321.32 494.33 322.10 493.00C322.88 491.67 323.22 490.33 323.60 489.00C323.98 487.67 324.27 485.67 324.40 485.00Z" fill="#747474"/>
<line x1="324.50" y1="487.00" x2="324.50" y2="555.50" stroke="#747474" stroke-width="0.5" stroke-opacity="0.6"/>
<rect x="322.60" y="504.50" width="3.80" height="24.30" fill="#fff" stroke="none" stroke-width="0"/>
<line x1="322.60" y1="511.30" x2="326.40" y2="511.30" stroke="#747474" stroke-width="0.5"/>
<path d="M344.35 492.50C344.60 493.08 345.17 494.75 345.85 496.00C346.53 497.25 347.72 498.67 348.45 500.00C349.18 501.33 349.85 502.33 350.25 504.00C350.65 505.67 350.68 507.67 350.85 510.00C351.02 512.33 351.15 515.33 351.25 518.00C351.35 520.67 351.45 523.50 351.45 526.00C351.45 528.50 351.45 531.00 351.25 533.00C351.05 535.00 350.72 536.33 350.25 538.00C349.78 539.67 349.05 541.33 348.45 543.00C347.85 544.67 347.17 546.50 346.65 548.00C346.13 549.50 345.73 550.63 345.35 552.00C344.97 553.37 344.52 555.50 344.35 556.20L344.15 556.20C343.98 555.50 343.53 553.37 343.15 552.00C342.77 550.63 342.37 549.50 341.85 548.00C341.33 546.50 340.65 544.67 340.05 543.00C339.45 541.33 338.72 539.67 338.25 538.00C337.78 536.33 337.45 535.00 337.25 533.00C337.05 531.00 337.05 528.50 337.05 526.00C337.05 523.50 337.15 520.67 337.25 518.00C337.35 515.33 337.48 512.33 337.65 510.00C337.82 507.67 337.85 505.67 338.25 504.00C338.65 502.33 339.32 501.33 340.05 500.00C340.78 498.67 341.97 497.25 342.65 496.00C343.33 494.75 343.90 493.08 344.15 492.50Z" fill="#f39a1e"/>
<line x1="344.25" y1="494.50" x2="344.25" y2="554.20" stroke="#f39a1e" stroke-width="0.5" stroke-opacity="0.6"/>
<rect x="342.35" y="512.50" width="3.80" height="18.80" fill="#fff" stroke="none" stroke-width="0"/>
<line x1="342.35" y1="522.50" x2="346.15" y2="522.50" stroke="#f39a1e" stroke-width="0.5"/>
<path d="M363.85 488.80C363.98 489.50 364.23 491.47 364.65 493.00C365.07 494.53 365.67 496.33 366.35 498.00C367.03 499.67 368.02 501.33 368.75 503.00C369.48 504.67 370.22 506.33 370.75 508.00C371.28 509.67 371.70 511.42 371.95 513.00C372.20 514.58 372.28 515.83 372.25 517.50C372.22 519.17 372.03 521.08 371.75 523.00C371.47 524.92 370.98 527.00 370.55 529.00C370.12 531.00 369.65 533.00 369.15 535.00C368.65 537.00 368.08 539.00 367.55 541.00C367.02 543.00 366.42 545.17 365.95 547.00C365.48 548.83 365.10 550.47 364.75 552.00C364.40 553.53 364.00 555.50 363.85 556.20L363.65 556.20C363.50 555.50 363.10 553.53 362.75 552.00C362.40 550.47 362.02 548.83 361.55 547.00C361.08 545.17 360.48 543.00 359.95 541.00C359.42 539.00 358.85 537.00 358.35 535.00C357.85 533.00 357.38 531.00 356.95 529.00C356.52 527.00 356.03 524.92 355.75 523.00C355.47 521.08 355.28 519.17 355.25 517.50C355.22 515.83 355.30 514.58 355.55 513.00C355.80 511.42 356.22 509.67 356.75 508.00C357.28 506.33 358.02 504.67 358.75 503.00C359.48 501.33 360.47 499.67 361.15 498.00C361.83 496.33 362.43 494.53 362.85 493.00C363.27 491.47 363.52 489.50 363.65 488.80Z" fill="#7e9636"/>
<line x1="363.75" y1="490.80" x2="363.75" y2="554.20" stroke="#7e9636" stroke-width="0.5" stroke-opacity="0.6"/>
<rect x="361.85" y="513.80" width="3.80" height="16.20" fill="#fff" stroke="none" stroke-width="0"/>
<line x1="361.85" y1="521.30" x2="365.65" y2="521.30" stroke="#7e9636" stroke-width="0.5"/>
<path d="M383.10 488.80C383.28 489.33 383.65 490.80 384.20 492.00C384.75 493.20 385.80 494.67 386.40 496.00C387.00 497.33 387.50 498.50 387.80 500.00C388.10 501.50 388.07 503.17 388.20 505.00C388.33 506.83 388.37 508.83 388.60 511.00C388.83 513.17 389.23 515.67 389.60 518.00C389.97 520.33 390.43 522.83 390.80 525.00C391.17 527.17 391.60 529.33 391.80 531.00C392.00 532.67 392.07 533.67 392.00 535.00C391.93 536.33 391.80 537.67 391.40 539.00C391.00 540.33 390.27 541.67 389.60 543.00C388.93 544.33 388.10 545.67 387.40 547.00C386.70 548.33 386.12 549.25 385.40 551.00C384.68 552.75 383.48 556.42 383.10 557.50L382.90 557.50C382.52 556.42 381.32 552.75 380.60 551.00C379.88 549.25 379.30 548.33 378.60 547.00C377.90 545.67 377.07 544.33 376.40 543.00C375.73 541.67 375.00 540.33 374.60 539.00C374.20 537.67 374.07 536.33 374.00 535.00C373.93 533.67 374.00 532.67 374.20 531.00C374.40 529.33 374.83 527.17 375.20 525.00C375.57 522.83 376.03 520.33 376.40 518.00C376.77 515.67 377.17 513.17 377.40 511.00C377.63 508.83 377.67 506.83 377.80 505.00C377.93 503.17 377.90 501.50 378.20 500.00C378.50 498.50 379.00 497.33 379.60 496.00C380.20 494.67 381.25 493.20 381.80 492.00C382.35 490.80 382.72 489.33 382.90 488.80Z" fill="#17608a"/>
<line x1="383.00" y1="490.80" x2="383.00" y2="555.50" stroke="#17608a" stroke-width="0.5" stroke-opacity="0.6"/>
<rect x="381.10" y="513.00" width="3.80" height="24.00" fill="#fff" stroke="none" stroke-width="0"/>
<line x1="381.10" y1="528.00" x2="384.90" y2="528.00" stroke="#17608a" stroke-width="0.5"/>
<path d="M427.2 482V560.4H507.3" fill="none" stroke="#cfcfcf" stroke-width="0.8"/>
<text x="425" y="491.5" font-size="7.2" text-anchor="end" font-weight="normal" fill="#222" stroke="#222" stroke-width="0.2">2</text>
<text x="425" y="507.0" font-size="7.2" text-anchor="end" font-weight="normal" fill="#222" stroke="#222" stroke-width="0.2">1</text>
<text x="425" y="523.2" font-size="7.2" text-anchor="end" font-weight="normal" fill="#222" stroke="#222" stroke-width="0.2">0</text>
<text x="425" y="538.9000000000001" font-size="7.2" text-anchor="end" font-weight="normal" fill="#222" stroke="#222" stroke-width="0.2">−1</text>
<text x="425" y="554.6" font-size="7.2" text-anchor="end" font-weight="normal" fill="#222" stroke="#222" stroke-width="0.2">−2</text>
<text x="474.4" y="457.2" font-size="9.4" text-anchor="middle" font-weight="normal" fill="#1a1a1a" stroke="#1a1a1a" stroke-width="0.2">22RV1_SE-Genes</text>
<text x="463.5" y="468.8" font-size="7.45" text-anchor="start" font-weight="normal" fill="#222" stroke="#222" stroke-width="0.2"><tspan font-style="italic">P</tspan> = 6.6 × 10<tspan font-size="5.0" dy="-2.8">−7</tspan></text>
<line x1="461.20" y1="470.90" x2="497.00" y2="470.90" stroke="#444" stroke-width="0.6"/>
<text x="468.8" y="478.5" font-size="7.45" text-anchor="start" font-weight="normal" fill="#222" stroke="#222" stroke-width="0.2"><tspan font-style="italic">P</tspan> = 1.7 × 10<tspan font-size="5.0" dy="-2.8">−6</tspan></text>
<line x1="476.20" y1="481.20" x2="501.50" y2="481.20" stroke="#444" stroke-width="0.6"/>
<path d="M439.80 485.40C439.95 486.00 440.22 487.73 440.70 489.00C441.18 490.27 441.80 491.67 442.70 493.00C443.60 494.33 445.13 495.67 446.10 497.00C447.07 498.33 448.03 499.83 448.50 501.00C448.97 502.17 448.90 502.83 448.90 504.00C448.90 505.17 448.80 506.33 448.50 508.00C448.20 509.67 447.57 512.00 447.10 514.00C446.63 516.00 446.13 518.00 445.70 520.00C445.27 522.00 444.80 524.00 444.50 526.00C444.20 528.00 444.07 530.00 443.90 532.00C443.73 534.00 443.70 536.00 443.50 538.00C443.30 540.00 443.03 542.17 442.70 544.00C442.37 545.83 441.98 547.62 441.50 549.00C441.02 550.38 440.08 551.75 439.80 552.30L439.60 552.30C439.32 551.75 438.38 550.38 437.90 549.00C437.42 547.62 437.03 545.83 436.70 544.00C436.37 542.17 436.10 540.00 435.90 538.00C435.70 536.00 435.67 534.00 435.50 532.00C435.33 530.00 435.20 528.00 434.90 526.00C434.60 524.00 434.13 522.00 433.70 520.00C433.27 518.00 432.77 516.00 432.30 514.00C431.83 512.00 431.20 509.67 430.90 508.00C430.60 506.33 430.50 505.17 430.50 504.00C430.50 502.83 430.43 502.17 430.90 501.00C431.37 499.83 432.33 498.33 433.30 497.00C434.27 495.67 435.80 494.33 436.70 493.00C437.60 491.67 438.22 490.27 438.70 489.00C439.18 487.73 439.45 486.00 439.60 485.40Z" fill="#747474"/>
<line x1="439.70" y1="487.40" x2="439.70" y2="550.30" stroke="#747474" stroke-width="0.5" stroke-opacity="0.6"/>
<rect x="437.80" y="503.40" width="3.80" height="24.60" fill="#fff" stroke="none" stroke-width="0"/>
<line x1="437.80" y1="513.50" x2="441.60" y2="513.50" stroke="#747474" stroke-width="0.5"/>
<path d="M459.60 491.20C459.78 491.83 460.18 493.70 460.70 495.00C461.22 496.30 461.97 497.50 462.70 499.00C463.43 500.50 464.40 502.17 465.10 504.00C465.80 505.83 466.50 508.10 466.90 510.00C467.30 511.90 467.50 513.73 467.50 515.40C467.50 517.07 467.27 518.40 466.90 520.00C466.53 521.60 465.87 523.33 465.30 525.00C464.73 526.67 464.00 528.33 463.50 530.00C463.00 531.67 462.63 533.17 462.30 535.00C461.97 536.83 461.77 539.00 461.50 541.00C461.23 543.00 461.02 544.73 460.70 547.00C460.38 549.27 459.78 553.33 459.60 554.60L459.40 554.60C459.22 553.33 458.62 549.27 458.30 547.00C457.98 544.73 457.77 543.00 457.50 541.00C457.23 539.00 457.03 536.83 456.70 535.00C456.37 533.17 456.00 531.67 455.50 530.00C455.00 528.33 454.27 526.67 453.70 525.00C453.13 523.33 452.47 521.60 452.10 520.00C451.73 518.40 451.50 517.07 451.50 515.40C451.50 513.73 451.70 511.90 452.10 510.00C452.50 508.10 453.20 505.83 453.90 504.00C454.60 502.17 455.57 500.50 456.30 499.00C457.03 497.50 457.78 496.30 458.30 495.00C458.82 493.70 459.22 491.83 459.40 491.20Z" fill="#f39a1e"/>
<line x1="459.50" y1="493.20" x2="459.50" y2="552.60" stroke="#f39a1e" stroke-width="0.5" stroke-opacity="0.6"/>
<rect x="457.60" y="509.60" width="3.80" height="19.20" fill="#fff" stroke="none" stroke-width="0"/>
<line x1="457.60" y1="519.50" x2="461.40" y2="519.50" stroke="#f39a1e" stroke-width="0.5"/>
<path d="M479.70 487.70C479.85 488.42 480.12 490.45 480.60 492.00C481.08 493.55 481.87 495.33 482.60 497.00C483.33 498.67 484.27 500.33 485.00 502.00C485.73 503.67 486.48 505.33 487.00 507.00C487.52 508.67 487.87 510.60 488.10 512.00C488.33 513.40 488.45 514.07 488.40 515.40C488.35 516.73 488.13 518.23 487.80 520.00C487.47 521.77 486.90 524.00 486.40 526.00C485.90 528.00 485.33 530.00 484.80 532.00C484.27 534.00 483.70 536.00 483.20 538.00C482.70 540.00 482.23 542.17 481.80 544.00C481.37 545.83 480.95 547.42 480.60 549.00C480.25 550.58 479.85 552.75 479.70 553.50L479.50 553.50C479.35 552.75 478.95 550.58 478.60 549.00C478.25 547.42 477.83 545.83 477.40 544.00C476.97 542.17 476.50 540.00 476.00 538.00C475.50 536.00 474.93 534.00 474.40 532.00C473.87 530.00 473.30 528.00 472.80 526.00C472.30 524.00 471.73 521.77 471.40 520.00C471.07 518.23 470.85 516.73 470.80 515.40C470.75 514.07 470.87 513.40 471.10 512.00C471.33 510.60 471.68 508.67 472.20 507.00C472.72 505.33 473.47 503.67 474.20 502.00C474.93 500.33 475.87 498.67 476.60 497.00C477.33 495.33 478.12 493.55 478.60 492.00C479.08 490.45 479.35 488.42 479.50 487.70Z" fill="#7e9636"/>
<line x1="479.60" y1="489.70" x2="479.60" y2="551.50" stroke="#7e9636" stroke-width="0.5" stroke-opacity="0.6"/>
<rect x="477.70" y="510.30" width="3.80" height="18.50" fill="#fff" stroke="none" stroke-width="0"/>
<line x1="477.70" y1="518.90" x2="481.50" y2="518.90" stroke="#7e9636" stroke-width="0.5"/>
<path d="M499.30 487.70C499.52 488.25 500.02 489.78 500.60 491.00C501.18 492.22 502.20 493.67 502.80 495.00C503.40 496.33 503.93 497.33 504.20 499.00C504.47 500.67 504.33 502.83 504.40 505.00C504.47 507.17 504.43 509.67 504.60 512.00C504.77 514.33 505.03 516.67 505.40 519.00C505.77 521.33 506.37 523.83 506.80 526.00C507.23 528.17 507.68 529.92 508.00 532.00C508.32 534.08 508.73 536.83 508.70 538.50C508.67 540.17 508.28 540.92 507.80 542.00C507.32 543.08 506.53 544.00 505.80 545.00C505.07 546.00 504.17 547.00 503.40 548.00C502.63 549.00 501.88 549.90 501.20 551.00C500.52 552.10 499.62 554.00 499.30 554.60L499.10 554.60C498.78 554.00 497.88 552.10 497.20 551.00C496.52 549.90 495.77 549.00 495.00 548.00C494.23 547.00 493.33 546.00 492.60 545.00C491.87 544.00 491.08 543.08 490.60 542.00C490.12 540.92 489.73 540.17 489.70 538.50C489.67 536.83 490.08 534.08 490.40 532.00C490.72 529.92 491.17 528.17 491.60 526.00C492.03 523.83 492.63 521.33 493.00 519.00C493.37 516.67 493.63 514.33 493.80 512.00C493.97 509.67 493.93 507.17 494.00 505.00C494.07 502.83 493.93 500.67 494.20 499.00C494.47 497.33 495.00 496.33 495.60 495.00C496.20 493.67 497.22 492.22 497.80 491.00C498.38 489.78 498.88 488.25 499.10 487.70Z" fill="#17608a"/>
<line x1="499.20" y1="489.70" x2="499.20" y2="552.60" stroke="#17608a" stroke-width="0.5" stroke-opacity="0.6"/>
<rect x="497.30" y="512.00" width="3.80" height="25.30" fill="#fff" stroke="none" stroke-width="0"/>
<line x1="497.30" y1="529.70" x2="501.10" y2="529.70" stroke="#17608a" stroke-width="0.5"/>
<text x="294.8" y="387.6" font-size="7.6" text-anchor="middle" font-weight="normal" fill="#1a1a1a" stroke="#1a1a1a" stroke-width="0.2" transform="rotate(-90 294.8 387.6)">log<tspan font-size="5.2" dy="1.7" dx="0.3">2</tspan><tspan dy="-1.7" dx="0.5">CPM_zscore</tspan></text>
<text x="294.8" y="520.2" font-size="7.6" text-anchor="middle" font-weight="normal" fill="#1a1a1a" stroke="#1a1a1a" stroke-width="0.2" transform="rotate(-90 294.8 520.2)">log<tspan font-size="5.2" dy="1.7" dx="0.3">2</tspan><tspan dy="-1.7" dx="0.5">CPM_zscore</tspan></text>
<rect x="322.30" y="565.80" width="10.60" height="3.30" fill="#747474" stroke="none" stroke-width="0"/>
<text x="334.4" y="570.8" font-size="9.4" text-anchor="start" font-weight="normal" fill="#1a1a1a" stroke="#1a1a1a" stroke-width="0.2">DMSO</text>
<rect x="368.00" y="566.50" width="10.60" height="3.30" fill="#f39a1e" stroke="none" stroke-width="0"/>
<text x="380.6" y="571.5" font-size="9.4" text-anchor="start" font-weight="normal" fill="#1a1a1a" stroke="#1a1a1a" stroke-width="0.2">ORY</text>
<rect x="418.40" y="565.40" width="10.60" height="3.30" fill="#7e9636" stroke="none" stroke-width="0"/>
<text x="430.8" y="570.4" font-size="9.4" text-anchor="start" font-weight="normal" fill="#1a1a1a" stroke="#1a1a1a" stroke-width="0.2">i-BET</text>
<rect x="460.60" y="564.80" width="10.60" height="3.30" fill="#17608a" stroke="none" stroke-width="0"/>
<text x="472.2" y="569.8" font-size="9.4" text-anchor="start" font-weight="normal" fill="#1a1a1a" stroke="#1a1a1a" stroke-width="0.2">Combo</text>
</g>
<g id="pI">
<text x="44.0" y="504" font-size="12.6" text-anchor="start" font-weight="bold" fill="#000">I</text>
<line x1="75.50" y1="520.35" x2="75.50" y2="579.90" stroke="#333" stroke-width="0.8"/>
<line x1="75.10" y1="579.50" x2="140.00" y2="579.50" stroke="#333" stroke-width="0.8"/>
<line x1="73.30" y1="520.75" x2="75.50" y2="520.75" stroke="#333" stroke-width="0.7"/>
<text x="72.1" y="523.55" font-size="7.8" text-anchor="end" font-weight="normal" fill="#1a1a1a" stroke="#1a1a1a" stroke-width="0.2">2.0</text>
<line x1="73.30" y1="535.50" x2="75.50" y2="535.50" stroke="#333" stroke-width="0.7"/>
<text x="72.1" y="538.3" font-size="7.8" text-anchor="end" font-weight="normal" fill="#1a1a1a" stroke="#1a1a1a" stroke-width="0.2">1.5</text>
<line x1="73.30" y1="550.00" x2="75.50" y2="550.00" stroke="#333" stroke-width="0.7"/>
<text x="72.1" y="552.8" font-size="7.8" text-anchor="end" font-weight="normal" fill="#1a1a1a" stroke="#1a1a1a" stroke-width="0.2">1.0</text>
<line x1="73.30" y1="565.00" x2="75.50" y2="565.00" stroke="#333" stroke-width="0.7"/>
<text x="72.1" y="567.8" font-size="7.8" text-anchor="end" font-weight="normal" fill="#1a1a1a" stroke="#1a1a1a" stroke-width="0.2">0.5</text>
<line x1="73.30" y1="579.50" x2="75.50" y2="579.50" stroke="#333" stroke-width="0.7"/>
<text x="72.1" y="582.3" font-size="7.8" text-anchor="end" font-weight="normal" fill="#1a1a1a" stroke="#1a1a1a" stroke-width="0.2">0</text>
<line x1="85.50" y1="579.50" x2="85.50" y2="581.70" stroke="#333" stroke-width="0.7"/>
<line x1="100.75" y1="579.50" x2="100.75" y2="581.70" stroke="#333" stroke-width="0.7"/>
<line x1="115.75" y1="579.50" x2="115.75" y2="581.70" stroke="#333" stroke-width="0.7"/>
<line x1="131.25" y1="579.50" x2="131.25" y2="581.70" stroke="#333" stroke-width="0.7"/>
<text x="116.2" y="518" font-size="9.4" text-anchor="middle" font-weight="normal" fill="#1a1a1a" stroke="#1a1a1a" stroke-width="0.2">MYC</text>
<line x1="81.20" y1="537.50" x2="90.00" y2="537.50" stroke="#444" stroke-width="0.7"/>
<circle cx="85.00" cy="528.00" r="1.25" fill="#111" stroke="none" stroke-width="0"/>
<circle cx="81.75" cy="540.00" r="1.25" fill="#111" stroke="none" stroke-width="0"/>
<circle cx="89.25" cy="540.00" r="1.25" fill="#111" stroke="none" stroke-width="0"/>
<circle cx="85.50" cy="535.00" r="1.25" fill="#111" stroke="none" stroke-width="0"/>
<line x1="96.50" y1="546.30" x2="105.00" y2="546.30" stroke="#8f3b9e" stroke-width="0.7"/>
<circle cx="100.75" cy="542.00" r="1.25" fill="#8f3b9e" stroke="none" stroke-width="0"/>
<circle cx="97.00" cy="546.75" r="1.25" fill="#8f3b9e" stroke="none" stroke-width="0"/>
<circle cx="100.75" cy="546.75" r="1.25" fill="#8f3b9e" stroke="none" stroke-width="0"/>
<circle cx="104.25" cy="546.75" r="1.25" fill="#8f3b9e" stroke="none" stroke-width="0"/>
<line x1="111.50" y1="553.00" x2="119.50" y2="553.00" stroke="#3daf4a" stroke-width="0.7"/>
<circle cx="112.00" cy="550.50" r="1.25" fill="#3daf4a" stroke="none" stroke-width="0"/>
<circle cx="118.75" cy="549.50" r="1.25" fill="#3daf4a" stroke="none" stroke-width="0"/>
<circle cx="115.00" cy="553.00" r="1.25" fill="#3daf4a" stroke="none" stroke-width="0"/>
<circle cx="115.50" cy="556.75" r="1.25" fill="#3daf4a" stroke="none" stroke-width="0"/>
<line x1="126.20" y1="565.70" x2="135.50" y2="565.70" stroke="#f58021" stroke-width="0.7"/>
<circle cx="130.75" cy="561.25" r="1.25" fill="#f58021" stroke="none" stroke-width="0"/>
<circle cx="127.50" cy="565.00" r="1.25" fill="#f58021" stroke="none" stroke-width="0"/>
<circle cx="134.50" cy="565.75" r="1.25" fill="#f58021" stroke="none" stroke-width="0"/>
<circle cx="127.00" cy="568.25" r="1.25" fill="#f58021" stroke="none" stroke-width="0"/>
<path d="M101.2 536.8000000000001V534.2H135V536.8000000000001" fill="none" stroke="#8a8a8a" stroke-width="0.6"/>
<text x="118" y="535.4" font-size="6.5" text-anchor="middle" font-weight="bold" fill="#1a1a1a">****</text>
<path d="M115.8 545.6V543H135V545.6" fill="none" stroke="#8a8a8a" stroke-width="0.6"/>
<text x="124.5" y="544.2" font-size="6.5" text-anchor="middle" font-weight="bold" fill="#1a1a1a">**</text>
<line x1="166.25" y1="520.35" x2="166.25" y2="576.90" stroke="#333" stroke-width="0.8"/>
<line x1="165.85" y1="576.50" x2="228.75" y2="576.50" stroke="#333" stroke-width="0.8"/>
<line x1="164.05" y1="520.75" x2="166.25" y2="520.75" stroke="#333" stroke-width="0.7"/>
<text x="162.85" y="523.55" font-size="7.8" text-anchor="end" font-weight="normal" fill="#1a1a1a" stroke="#1a1a1a" stroke-width="0.2">2.5</text>
<line x1="164.05" y1="531.75" x2="166.25" y2="531.75" stroke="#333" stroke-width="0.7"/>
<text x="162.85" y="534.55" font-size="7.8" text-anchor="end" font-weight="normal" fill="#1a1a1a" stroke="#1a1a1a" stroke-width="0.2">2.0</text>
<line x1="164.05" y1="543.00" x2="166.25" y2="543.00" stroke="#333" stroke-width="0.7"/>
<text x="162.85" y="545.8" font-size="7.8" text-anchor="end" font-weight="normal" fill="#1a1a1a" stroke="#1a1a1a" stroke-width="0.2">1.5</text>
<line x1="164.05" y1="554.25" x2="166.25" y2="554.25" stroke="#333" stroke-width="0.7"/>
<text x="162.85" y="557.05" font-size="7.8" text-anchor="end" font-weight="normal" fill="#1a1a1a" stroke="#1a1a1a" stroke-width="0.2">1.0</text>
<line x1="164.05" y1="565.50" x2="166.25" y2="565.50" stroke="#333" stroke-width="0.7"/>
<text x="162.85" y="568.3" font-size="7.8" text-anchor="end" font-weight="normal" fill="#1a1a1a" stroke="#1a1a1a" stroke-width="0.2">0.5</text>
<line x1="164.05" y1="576.50" x2="166.25" y2="576.50" stroke="#333" stroke-width="0.7"/>
<text x="162.85" y="579.3" font-size="7.8" text-anchor="end" font-weight="normal" fill="#1a1a1a" stroke="#1a1a1a" stroke-width="0.2">0</text>
<line x1="177.00" y1="576.50" x2="177.00" y2="578.70" stroke="#333" stroke-width="0.7"/>
<line x1="191.25" y1="576.50" x2="191.25" y2="578.70" stroke="#333" stroke-width="0.7"/>
<line x1="206.25" y1="576.50" x2="206.25" y2="578.70" stroke="#333" stroke-width="0.7"/>
<line x1="220.50" y1="576.50" x2="220.50" y2="578.70" stroke="#333" stroke-width="0.7"/>
<text x="200.8" y="518" font-size="9.4" text-anchor="middle" font-weight="normal" fill="#1a1a1a" stroke="#1a1a1a" stroke-width="0.2">BMX</text>
<line x1="172.50" y1="545.00" x2="181.80" y2="545.00" stroke="#444" stroke-width="0.7"/>
<circle cx="177.00" cy="533.00" r="1.25" fill="#111" stroke="none" stroke-width="0"/>
<circle cx="177.00" cy="543.75" r="1.25" fill="#111" stroke="none" stroke-width="0"/>
<circle cx="177.00" cy="545.75" r="1.25" fill="#111" stroke="none" stroke-width="0"/>
<circle cx="177.00" cy="554.25" r="1.25" fill="#111" stroke="none" stroke-width="0"/>
<line x1="187.00" y1="554.25" x2="196.50" y2="554.25" stroke="#8f3b9e" stroke-width="0.7"/>
<circle cx="191.75" cy="547.50" r="1.25" fill="#8f3b9e" stroke="none" stroke-width="0"/>
<circle cx="189.25" cy="554.25" r="1.25" fill="#8f3b9e" stroke="none" stroke-width="0"/>
<circle cx="195.50" cy="554.25" r="1.25" fill="#8f3b9e" stroke="none" stroke-width="0"/>
<circle cx="191.75" cy="562.50" r="1.25" fill="#8f3b9e" stroke="none" stroke-width="0"/>
<line x1="202.00" y1="567.00" x2="210.00" y2="567.00" stroke="#3daf4a" stroke-width="0.7"/>
<circle cx="202.50" cy="566.20" r="1.25" fill="#3daf4a" stroke="none" stroke-width="0"/>
<circle cx="202.50" cy="568.00" r="1.25" fill="#3daf4a" stroke="none" stroke-width="0"/>
<circle cx="205.75" cy="567.00" r="1.25" fill="#3daf4a" stroke="none" stroke-width="0"/>
<circle cx="209.50" cy="567.00" r="1.25" fill="#3daf4a" stroke="none" stroke-width="0"/>
<line x1="216.50" y1="571.50" x2="225.00" y2="571.50" stroke="#f58021" stroke-width="0.7"/>
<circle cx="217.00" cy="570.00" r="1.25" fill="#f58021" stroke="none" stroke-width="0"/>
<circle cx="224.25" cy="570.75" r="1.25" fill="#f58021" stroke="none" stroke-width="0"/>
<circle cx="220.00" cy="572.00" r="1.25" fill="#f58021" stroke="none" stroke-width="0"/>
<circle cx="220.50" cy="574.50" r="1.25" fill="#f58021" stroke="none" stroke-width="0"/>
<path d="M191.8 542.1V539.5H222.5V542.1" fill="none" stroke="#8a8a8a" stroke-width="0.6"/>
<text x="207.5" y="540.6" font-size="6.5" text-anchor="middle" font-weight="bold" fill="#1a1a1a">**</text>
<path d="M206.2 561.8000000000001V559.2H222.5V561.8000000000001" fill="none" stroke="#8a8a8a" stroke-width="0.6"/>
<text x="214.2" y="560.4" font-size="6.5" text-anchor="middle" font-weight="bold" fill="#1a1a1a">**</text>
<line x1="75.00" y1="600.85" x2="75.00" y2="657.40" stroke="#333" stroke-width="0.8"/>
<line x1="74.60" y1="657.00" x2="138.75" y2="657.00" stroke="#333" stroke-width="0.8"/>
<line x1="72.80" y1="601.25" x2="75.00" y2="601.25" stroke="#333" stroke-width="0.7"/>
<text x="71.6" y="604.05" font-size="7.8" text-anchor="end" font-weight="normal" fill="#1a1a1a" stroke="#1a1a1a" stroke-width="0.2">3</text>
<line x1="72.80" y1="619.50" x2="75.00" y2="619.50" stroke="#333" stroke-width="0.7"/>
<text x="71.6" y="622.3" font-size="7.8" text-anchor="end" font-weight="normal" fill="#1a1a1a" stroke="#1a1a1a" stroke-width="0.2">2</text>
<line x1="72.80" y1="638.25" x2="75.00" y2="638.25" stroke="#333" stroke-width="0.7"/>
<text x="71.6" y="641.05" font-size="7.8" text-anchor="end" font-weight="normal" fill="#1a1a1a" stroke="#1a1a1a" stroke-width="0.2">1</text>
<line x1="72.80" y1="657.00" x2="75.00" y2="657.00" stroke="#333" stroke-width="0.7"/>
<text x="71.6" y="659.8" font-size="7.8" text-anchor="end" font-weight="normal" fill="#1a1a1a" stroke="#1a1a1a" stroke-width="0.2">0</text>
<line x1="84.50" y1="657.00" x2="84.50" y2="659.20" stroke="#333" stroke-width="0.7"/>
<line x1="100.00" y1="657.00" x2="100.00" y2="659.20" stroke="#333" stroke-width="0.7"/>
<line x1="114.25" y1="657.00" x2="114.25" y2="659.20" stroke="#333" stroke-width="0.7"/>
<line x1="128.75" y1="657.00" x2="128.75" y2="659.20" stroke="#333" stroke-width="0.7"/>
<text x="109.5" y="598.6" font-size="9.4" text-anchor="middle" font-weight="normal" fill="#1a1a1a" stroke="#1a1a1a" stroke-width="0.2">AMER3</text>
<line x1="80.80" y1="625.00" x2="90.80" y2="625.00" stroke="#444" stroke-width="0.7"/>
<circle cx="85.50" cy="607.00" r="1.25" fill="#111" stroke="none" stroke-width="0"/>
<circle cx="85.50" cy="623.75" r="1.25" fill="#111" stroke="none" stroke-width="0"/>
<circle cx="85.50" cy="629.50" r="1.25" fill="#111" stroke="none" stroke-width="0"/>
<circle cx="85.50" cy="636.75" r="1.25" fill="#111" stroke="none" stroke-width="0"/>
<line x1="96.00" y1="637.00" x2="104.00" y2="637.00" stroke="#8f3b9e" stroke-width="0.7"/>
<circle cx="96.25" cy="635.75" r="1.25" fill="#8f3b9e" stroke="none" stroke-width="0"/>
<circle cx="103.75" cy="634.25" r="1.25" fill="#8f3b9e" stroke="none" stroke-width="0"/>
<circle cx="100.00" cy="638.25" r="1.25" fill="#8f3b9e" stroke="none" stroke-width="0"/>
<circle cx="100.00" cy="645.50" r="1.25" fill="#8f3b9e" stroke="none" stroke-width="0"/>
<line x1="110.00" y1="647.50" x2="118.00" y2="647.50" stroke="#3daf4a" stroke-width="0.7"/>
<circle cx="114.25" cy="643.75" r="1.25" fill="#3daf4a" stroke="none" stroke-width="0"/>
<circle cx="110.50" cy="647.50" r="1.25" fill="#3daf4a" stroke="none" stroke-width="0"/>
<circle cx="114.25" cy="647.50" r="1.25" fill="#3daf4a" stroke="none" stroke-width="0"/>
<circle cx="117.50" cy="647.50" r="1.25" fill="#3daf4a" stroke="none" stroke-width="0"/>
<line x1="124.50" y1="652.50" x2="133.00" y2="652.50" stroke="#f58021" stroke-width="0.7"/>
<circle cx="125.00" cy="650.50" r="1.25" fill="#f58021" stroke="none" stroke-width="0"/>
<circle cx="125.00" cy="653.00" r="1.25" fill="#f58021" stroke="none" stroke-width="0"/>
<circle cx="128.75" cy="652.50" r="1.25" fill="#f58021" stroke="none" stroke-width="0"/>
<circle cx="132.00" cy="653.00" r="1.25" fill="#f58021" stroke="none" stroke-width="0"/>
<path d="M102.5 626.4V623.8H132.5V626.4" fill="none" stroke="#8a8a8a" stroke-width="0.6"/>
<text x="117.5" y="625.2" font-size="6.5" text-anchor="middle" font-weight="bold" fill="#1a1a1a">**</text>
<path d="M113.8 638.8000000000001V636.2H132.5V638.8000000000001" fill="none" stroke="#8a8a8a" stroke-width="0.6"/>
<text x="123.2" y="637.4" font-size="6.5" text-anchor="middle" font-weight="bold" fill="#1a1a1a">**</text>
<line x1="165.00" y1="600.10" x2="165.00" y2="657.15" stroke="#333" stroke-width="0.8"/>
<line x1="164.60" y1="656.75" x2="227.50" y2="656.75" stroke="#333" stroke-width="0.8"/>
<line x1="162.80" y1="600.50" x2="165.00" y2="600.50" stroke="#333" stroke-width="0.7"/>
<text x="161.6" y="603.3" font-size="7.8" text-anchor="end" font-weight="normal" fill="#1a1a1a" stroke="#1a1a1a" stroke-width="0.2">2.0</text>
<line x1="162.80" y1="613.25" x2="165.00" y2="613.25" stroke="#333" stroke-width="0.7"/>
<text x="161.6" y="616.05" font-size="7.8" text-anchor="end" font-weight="normal" fill="#1a1a1a" stroke="#1a1a1a" stroke-width="0.2">1.5</text>
<line x1="162.80" y1="628.00" x2="165.00" y2="628.00" stroke="#333" stroke-width="0.7"/>
<text x="161.6" y="630.8" font-size="7.8" text-anchor="end" font-weight="normal" fill="#1a1a1a" stroke="#1a1a1a" stroke-width="0.2">1.0</text>
<line x1="162.80" y1="642.50" x2="165.00" y2="642.50" stroke="#333" stroke-width="0.7"/>
<text x="161.6" y="645.3" font-size="7.8" text-anchor="end" font-weight="normal" fill="#1a1a1a" stroke="#1a1a1a" stroke-width="0.2">0.5</text>
<line x1="162.80" y1="656.75" x2="165.00" y2="656.75" stroke="#333" stroke-width="0.7"/>
<text x="161.6" y="659.55" font-size="7.8" text-anchor="end" font-weight="normal" fill="#1a1a1a" stroke="#1a1a1a" stroke-width="0.2">0</text>
<line x1="175.50" y1="656.75" x2="175.50" y2="658.95" stroke="#333" stroke-width="0.7"/>
<line x1="190.00" y1="656.75" x2="190.00" y2="658.95" stroke="#333" stroke-width="0.7"/>
<line x1="204.25" y1="656.75" x2="204.25" y2="658.95" stroke="#333" stroke-width="0.7"/>
<line x1="218.75" y1="656.75" x2="218.75" y2="658.95" stroke="#333" stroke-width="0.7"/>
<text x="198.8" y="598" font-size="9.4" text-anchor="middle" font-weight="normal" fill="#1a1a1a" stroke="#1a1a1a" stroke-width="0.2">HOXB13</text>
<line x1="171.00" y1="614.50" x2="180.00" y2="614.50" stroke="#444" stroke-width="0.7"/>
<circle cx="175.50" cy="605.00" r="1.25" fill="#111" stroke="none" stroke-width="0"/>
<circle cx="175.50" cy="612.50" r="1.25" fill="#111" stroke="none" stroke-width="0"/>
<circle cx="172.00" cy="616.25" r="1.25" fill="#111" stroke="none" stroke-width="0"/>
<circle cx="179.25" cy="615.50" r="1.25" fill="#111" stroke="none" stroke-width="0"/>
<line x1="185.50" y1="627.00" x2="194.50" y2="627.00" stroke="#8f3b9e" stroke-width="0.7"/>
<circle cx="190.00" cy="622.50" r="1.25" fill="#8f3b9e" stroke="none" stroke-width="0"/>
<circle cx="186.25" cy="627.00" r="1.25" fill="#8f3b9e" stroke="none" stroke-width="0"/>
<circle cx="193.25" cy="627.00" r="1.25" fill="#8f3b9e" stroke="none" stroke-width="0"/>
<circle cx="190.00" cy="630.00" r="1.25" fill="#8f3b9e" stroke="none" stroke-width="0"/>
<line x1="200.00" y1="629.00" x2="208.50" y2="629.00" stroke="#3daf4a" stroke-width="0.7"/>
<circle cx="200.75" cy="629.50" r="1.25" fill="#3daf4a" stroke="none" stroke-width="0"/>
<circle cx="204.25" cy="629.50" r="1.25" fill="#3daf4a" stroke="none" stroke-width="0"/>
<circle cx="207.50" cy="627.50" r="1.25" fill="#3daf4a" stroke="none" stroke-width="0"/>
<circle cx="207.50" cy="630.00" r="1.25" fill="#3daf4a" stroke="none" stroke-width="0"/>
<line x1="214.00" y1="638.50" x2="223.00" y2="638.50" stroke="#f58021" stroke-width="0.7"/>
<circle cx="218.75" cy="635.75" r="1.25" fill="#f58021" stroke="none" stroke-width="0"/>
<circle cx="215.00" cy="638.25" r="1.25" fill="#f58021" stroke="none" stroke-width="0"/>
<circle cx="215.00" cy="640.50" r="1.25" fill="#f58021" stroke="none" stroke-width="0"/>
<circle cx="222.00" cy="639.50" r="1.25" fill="#f58021" stroke="none" stroke-width="0"/>
<path d="M190 614.6V612H222V614.6" fill="none" stroke="#8a8a8a" stroke-width="0.6"/>
<text x="205" y="613.2" font-size="6.5" text-anchor="middle" font-weight="bold" fill="#1a1a1a">***</text>
<path d="M204.2 624.6V622H222V624.6" fill="none" stroke="#8a8a8a" stroke-width="0.6"/>
<text x="212.5" y="623.2" font-size="6.5" text-anchor="middle" font-weight="bold" fill="#1a1a1a">***</text>
<text x="44.0" y="546" font-size="9.2" text-anchor="middle" font-weight="normal" fill="#1a1a1a" stroke="#1a1a1a" stroke-width="0.2" transform="rotate(-90 44.0 546)">Relative gene</text>
<text x="53.6" y="546" font-size="9.2" text-anchor="middle" font-weight="normal" fill="#1a1a1a" stroke="#1a1a1a" stroke-width="0.2" transform="rotate(-90 53.6 546)">expression</text>
<text x="44.0" y="626" font-size="9.2" text-anchor="middle" font-weight="normal" fill="#1a1a1a" stroke="#1a1a1a" stroke-width="0.2" transform="rotate(-90 44.0 626)">Relative gene</text>
<text x="53.6" y="626" font-size="9.2" text-anchor="middle" font-weight="normal" fill="#1a1a1a" stroke="#1a1a1a" stroke-width="0.2" transform="rotate(-90 53.6 626)">expression</text>
<circle cx="77.20" cy="670.30" r="1.50" fill="#111" stroke="none" stroke-width="0"/>
<text x="80.1" y="673.6" font-size="9.4" text-anchor="start" font-weight="normal" fill="#1a1a1a" stroke="#1a1a1a" stroke-width="0.2">DMSO</text>
<circle cx="121.20" cy="670.30" r="1.50" fill="#8f3b9e" stroke="none" stroke-width="0"/>
<text x="124.1" y="673.6" font-size="9.4" text-anchor="start" font-weight="normal" fill="#1a1a1a" stroke="#1a1a1a" stroke-width="0.2">ORY</text>
<circle cx="156.20" cy="670.30" r="1.50" fill="#3daf4a" stroke="none" stroke-width="0"/>
<text x="158.6" y="673.6" font-size="9.4" text-anchor="start" font-weight="normal" fill="#1a1a1a" stroke="#1a1a1a" stroke-width="0.2">i-BET</text>
<circle cx="189.70" cy="670.30" r="1.50" fill="#f58021" stroke="none" stroke-width="0"/>
<text x="192.6" y="673.6" font-size="9.4" text-anchor="start" font-weight="normal" fill="#1a1a1a" stroke="#1a1a1a" stroke-width="0.2">Combo</text>
</g>
<g id="pJ">
<text x="256.9" y="595.8" font-size="12.6" text-anchor="start" font-weight="bold" fill="#000">J</text>
<text x="355.8" y="605" font-size="9.4" text-anchor="middle" font-weight="normal" fill="#1a1a1a" stroke="#1a1a1a" stroke-width="0.2">22RV1</text>
<text x="297" y="620" font-size="9.4" text-anchor="end" font-weight="normal" fill="#1a1a1a" stroke="#1a1a1a" stroke-width="0.2">MYC</text>
<text x="297" y="638" font-size="9.4" text-anchor="end" font-weight="normal" fill="#1a1a1a" stroke="#1a1a1a" stroke-width="0.2">Tubulin</text>
<clipPath id="cJ0"><rect x="301.3" y="608.8" width="109.4" height="15"/></clipPath><clipPath id="cJ1"><rect x="301.3" y="628.3" width="109.4" height="14.2"/></clipPath>
<rect x="301.30" y="608.80" width="109.40" height="15.00" fill="#d4d4d4" stroke="none" stroke-width="0"/>
<g clip-path="url(#cJ0)">
<rect x="302.70" y="614.60" width="10.60" height="3.60" fill="#0a0a0a" stroke="none" stroke-width="0" rx="1" opacity="0.7" filter="url(#bl1)"/>
<rect x="315.95" y="614.80" width="10.60" height="3.60" fill="#0a0a0a" stroke="none" stroke-width="0" rx="1" opacity="0.95" filter="url(#bl1)"/>
<rect x="329.70" y="614.40" width="10.60" height="3.60" fill="#0a0a0a" stroke="none" stroke-width="0" rx="1" opacity="0.92" filter="url(#bl1)"/>
<rect x="343.45" y="613.60" width="10.60" height="3.60" fill="#0a0a0a" stroke="none" stroke-width="0" rx="1" opacity="0.75" filter="url(#bl1)"/>
<rect x="357.20" y="614.00" width="10.60" height="3.60" fill="#0a0a0a" stroke="none" stroke-width="0" rx="1" opacity="0.85" filter="url(#bl1)"/>
<rect x="370.95" y="614.40" width="10.60" height="3.60" fill="#0a0a0a" stroke="none" stroke-width="0" rx="1" opacity="0.9" filter="url(#bl1)"/>
<rect x="384.70" y="614.80" width="10.60" height="3.60" fill="#0a0a0a" stroke="none" stroke-width="0" rx="1" opacity="0.28" filter="url(#bl1)"/>
<rect x="397.70" y="614.40" width="10.60" height="3.60" fill="#0a0a0a" stroke="none" stroke-width="0" rx="1" opacity="0.5" filter="url(#bl1)"/>
</g>
<rect x="301.30" y="628.30" width="109.40" height="14.20" fill="#e0e0e0" stroke="none" stroke-width="0"/>
<g clip-path="url(#cJ1)">
<rect x="302.40" y="634.40" width="11.20" height="4.80" fill="#050505" stroke="none" stroke-width="0" rx="1.6" filter="url(#bl0)"/>
<rect x="315.65" y="634.20" width="11.20" height="4.80" fill="#050505" stroke="none" stroke-width="0" rx="1.6" filter="url(#bl0)"/>
<rect x="329.40" y="632.80" width="11.20" height="4.80" fill="#050505" stroke="none" stroke-width="0" rx="1.6" filter="url(#bl0)"/>
<rect x="343.15" y="631.00" width="11.20" height="4.80" fill="#050505" stroke="none" stroke-width="0" rx="1.6" filter="url(#bl0)"/>
<rect x="356.90" y="630.80" width="11.20" height="4.80" fill="#050505" stroke="none" stroke-width="0" rx="1.6" filter="url(#bl0)"/>
<rect x="370.65" y="631.20" width="11.20" height="4.80" fill="#050505" stroke="none" stroke-width="0" rx="1.6" filter="url(#bl0)"/>
<rect x="384.40" y="631.80" width="11.20" height="4.80" fill="#050505" stroke="none" stroke-width="0" rx="1.6" filter="url(#bl0)"/>
<rect x="397.40" y="632.00" width="11.20" height="4.80" fill="#050505" stroke="none" stroke-width="0" rx="1.6" filter="url(#bl0)"/>
</g>
<rect x="301.30" y="608.80" width="109.40" height="15.00" fill="none" stroke="#2a2a2a" stroke-width="0.8"/>
<rect x="301.30" y="628.30" width="109.40" height="14.20" fill="none" stroke="#2a2a2a" stroke-width="0.8"/>
<text x="308" y="651.4" font-size="7.4" text-anchor="middle" font-weight="normal" fill="#1a1a1a" stroke="#1a1a1a" stroke-width="0.2">#1</text>
<text x="321.25" y="651.4" font-size="7.4" text-anchor="middle" font-weight="normal" fill="#1a1a1a" stroke="#1a1a1a" stroke-width="0.2">#2</text>
<text x="335" y="651.4" font-size="7.4" text-anchor="middle" font-weight="normal" fill="#1a1a1a" stroke="#1a1a1a" stroke-width="0.2">#1</text>
<text x="348.75" y="651.4" font-size="7.4" text-anchor="middle" font-weight="normal" fill="#1a1a1a" stroke="#1a1a1a" stroke-width="0.2">#2</text>
<text x="362.5" y="651.4" font-size="7.4" text-anchor="middle" font-weight="normal" fill="#1a1a1a" stroke="#1a1a1a" stroke-width="0.2">#1</text>
<text x="376.25" y="651.4" font-size="7.4" text-anchor="middle" font-weight="normal" fill="#1a1a1a" stroke="#1a1a1a" stroke-width="0.2">#2</text>
<text x="390" y="651.4" font-size="7.4" text-anchor="middle" font-weight="normal" fill="#1a1a1a" stroke="#1a1a1a" stroke-width="0.2">#1</text>
<text x="403" y="651.4" font-size="7.4" text-anchor="middle" font-weight="normal" fill="#1a1a1a" stroke="#1a1a1a" stroke-width="0.2">#2</text>
<path d="M303.8 652.4V656.3H327V652.4" fill="none" stroke="#4a4a4a" stroke-width="0.7"/>
<text x="315" y="667.5" font-size="9.4" text-anchor="middle" font-weight="normal" fill="#1a1a1a" stroke="#1a1a1a" stroke-width="0.2">Veh</text>
<path d="M330.5 652.4V656.3H354.5V652.4" fill="none" stroke="#4a4a4a" stroke-width="0.7"/>
<text x="342.5" y="667.5" font-size="9.4" text-anchor="middle" font-weight="normal" fill="#1a1a1a" stroke="#1a1a1a" stroke-width="0.2">ORY</text>
<path d="M358.8 652.4V656.3H382V652.4" fill="none" stroke="#4a4a4a" stroke-width="0.7"/>
<text x="370.5" y="667.5" font-size="9.4" text-anchor="middle" font-weight="normal" fill="#1a1a1a" stroke="#1a1a1a" stroke-width="0.2">i-BET</text>
<path d="M386.2 652.4V656.3H410V652.4" fill="none" stroke="#4a4a4a" stroke-width="0.7"/>
<text x="401.2" y="667.5" font-size="9.4" text-anchor="middle" font-weight="normal" fill="#1a1a1a" stroke="#1a1a1a" stroke-width="0.2">Combo</text>
</g>
</svg>
</body></html>
